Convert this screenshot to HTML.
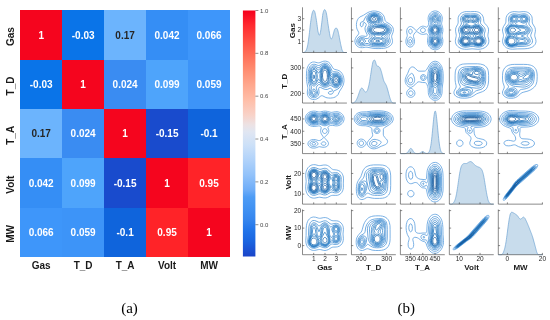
<!DOCTYPE html><html><head><meta charset="utf-8"><style>html,body{margin:0;padding:0;background:#fff;width:550px;height:320px;overflow:hidden}svg{display:block}</style></head><body>
<svg width="550" height="320" viewBox="0 0 550 320">
<rect width="550" height="320" fill="#fff"/>
<g shape-rendering="crispEdges">
<rect x="20.20" y="10.30" width="42.26" height="49.62" fill="#f5051e"/>
<rect x="62.16" y="10.30" width="42.26" height="49.62" fill="#0a74e8"/>
<rect x="104.12" y="10.30" width="42.26" height="49.62" fill="#6cb4fd"/>
<rect x="146.08" y="10.30" width="42.26" height="49.62" fill="#358ef5"/>
<rect x="188.04" y="10.30" width="42.26" height="49.62" fill="#3e96fa"/>
<rect x="20.20" y="59.62" width="42.26" height="49.62" fill="#0a74e8"/>
<rect x="62.16" y="59.62" width="42.26" height="49.62" fill="#f5051e"/>
<rect x="104.12" y="59.62" width="42.26" height="49.62" fill="#3a8cf2"/>
<rect x="146.08" y="59.62" width="42.26" height="49.62" fill="#4ea4fb"/>
<rect x="188.04" y="59.62" width="42.26" height="49.62" fill="#3d94f8"/>
<rect x="20.20" y="108.94" width="42.26" height="49.62" fill="#6cb4fd"/>
<rect x="62.16" y="108.94" width="42.26" height="49.62" fill="#3a8cf2"/>
<rect x="104.12" y="108.94" width="42.26" height="49.62" fill="#f5051e"/>
<rect x="146.08" y="108.94" width="42.26" height="49.62" fill="#194bcd"/>
<rect x="188.04" y="108.94" width="42.26" height="49.62" fill="#0f64dc"/>
<rect x="20.20" y="158.26" width="42.26" height="49.62" fill="#358ef5"/>
<rect x="62.16" y="158.26" width="42.26" height="49.62" fill="#4ea4fb"/>
<rect x="104.12" y="158.26" width="42.26" height="49.62" fill="#194bcd"/>
<rect x="146.08" y="158.26" width="42.26" height="49.62" fill="#f5051e"/>
<rect x="188.04" y="158.26" width="42.26" height="49.62" fill="#ff2328"/>
<rect x="20.20" y="207.58" width="42.26" height="49.62" fill="#3e96fa"/>
<rect x="62.16" y="207.58" width="42.26" height="49.62" fill="#3d94f8"/>
<rect x="104.12" y="207.58" width="42.26" height="49.62" fill="#0f64dc"/>
<rect x="146.08" y="207.58" width="42.26" height="49.62" fill="#ff2328"/>
<rect x="188.04" y="207.58" width="42.26" height="49.62" fill="#f5051e"/>
</g>
<g font-family="Liberation Sans, Arial, sans-serif" font-weight="bold" font-size="10" text-anchor="middle">
<text x="41.18" y="38.56" fill="#ffffff">1</text>
<text x="83.14" y="38.56" fill="#ffffff">-0.03</text>
<text x="125.10" y="38.56" fill="#262626">0.17</text>
<text x="167.06" y="38.56" fill="#ffffff">0.042</text>
<text x="209.02" y="38.56" fill="#ffffff">0.066</text>
<text x="41.18" y="87.88" fill="#ffffff">-0.03</text>
<text x="83.14" y="87.88" fill="#ffffff">1</text>
<text x="125.10" y="87.88" fill="#ffffff">0.024</text>
<text x="167.06" y="87.88" fill="#ffffff">0.099</text>
<text x="209.02" y="87.88" fill="#ffffff">0.059</text>
<text x="41.18" y="137.20" fill="#262626">0.17</text>
<text x="83.14" y="137.20" fill="#ffffff">0.024</text>
<text x="125.10" y="137.20" fill="#ffffff">1</text>
<text x="167.06" y="137.20" fill="#ffffff">-0.15</text>
<text x="209.02" y="137.20" fill="#ffffff">-0.1</text>
<text x="41.18" y="186.52" fill="#ffffff">0.042</text>
<text x="83.14" y="186.52" fill="#ffffff">0.099</text>
<text x="125.10" y="186.52" fill="#ffffff">-0.15</text>
<text x="167.06" y="186.52" fill="#ffffff">1</text>
<text x="209.02" y="186.52" fill="#ffffff">0.95</text>
<text x="41.18" y="235.84" fill="#ffffff">0.066</text>
<text x="83.14" y="235.84" fill="#ffffff">0.059</text>
<text x="125.10" y="235.84" fill="#ffffff">-0.1</text>
<text x="167.06" y="235.84" fill="#ffffff">0.95</text>
<text x="209.02" y="235.84" fill="#ffffff">1</text>
</g>
<g font-family="Liberation Sans, Arial, sans-serif" font-weight="bold" font-size="10" fill="#1a1a1a" text-anchor="middle">
<text x="41.18" y="269">Gas</text>
<text x="83.14" y="269">T_D</text>
<text x="125.10" y="269">T_A</text>
<text x="167.06" y="269">Volt</text>
<text x="209.02" y="269">MW</text>
<text transform="translate(13.6 36.66) rotate(-90)" x="0" y="0">Gas</text>
<text transform="translate(13.6 85.98) rotate(-90)" x="0" y="0">T_D</text>
<text transform="translate(13.6 135.30) rotate(-90)" x="0" y="0">T_A</text>
<text transform="translate(13.6 184.62) rotate(-90)" x="0" y="0">Volt</text>
<text transform="translate(13.6 233.94) rotate(-90)" x="0" y="0">MW</text>
</g>
<defs><linearGradient id="cb" x1="0" y1="0" x2="0" y2="1">
<stop offset="0" stop-color="#f5001e"/>
<stop offset="0.06" stop-color="#ff2a30"/>
<stop offset="0.12" stop-color="#ff4d42"/>
<stop offset="0.18" stop-color="#ff6e58"/>
<stop offset="0.24" stop-color="#ff8c70"/>
<stop offset="0.3" stop-color="#ffa68c"/>
<stop offset="0.364" stop-color="#ffbea8"/>
<stop offset="0.425" stop-color="#f8d2c8"/>
<stop offset="0.465" stop-color="#ece2e4"/>
<stop offset="0.494" stop-color="#e0e6f2"/>
<stop offset="0.547" stop-color="#cce0f8"/>
<stop offset="0.608" stop-color="#b0d2fa"/>
<stop offset="0.669" stop-color="#92c2fa"/>
<stop offset="0.73" stop-color="#6eacf8"/>
<stop offset="0.758" stop-color="#4e9cf5"/>
<stop offset="0.811" stop-color="#3f90f2"/>
<stop offset="0.85" stop-color="#3585ee"/>
<stop offset="0.89" stop-color="#2275ea"/>
<stop offset="0.939" stop-color="#1a64e0"/>
<stop offset="0.967" stop-color="#1a55d6"/>
<stop offset="1" stop-color="#1a44c8"/>
</linearGradient></defs>
<rect x="242.9" y="10.5" width="12.50" height="246.00" fill="url(#cb)"/>
<g font-family="Liberation Sans, Arial, sans-serif" font-size="6" fill="#444">
<line x1="255.4" y1="10.50" x2="258.4" y2="10.50" stroke="#444" stroke-width="0.6"/>
<text x="260" y="12.65">1.0</text>
<line x1="255.4" y1="53.34" x2="258.4" y2="53.34" stroke="#444" stroke-width="0.6"/>
<text x="260" y="55.49">0.8</text>
<line x1="255.4" y1="96.18" x2="258.4" y2="96.18" stroke="#444" stroke-width="0.6"/>
<text x="260" y="98.33">0.6</text>
<line x1="255.4" y1="139.02" x2="258.4" y2="139.02" stroke="#444" stroke-width="0.6"/>
<text x="260" y="141.17">0.4</text>
<line x1="255.4" y1="181.86" x2="258.4" y2="181.86" stroke="#444" stroke-width="0.6"/>
<text x="260" y="184.01">0.2</text>
<line x1="255.4" y1="224.70" x2="258.4" y2="224.70" stroke="#444" stroke-width="0.6"/>
<text x="260" y="226.85">0.0</text>
</g>
<g font-family="Liberation Serif, Times New Roman, serif" font-size="15" fill="#000">
<text x="121.2" y="313.2">(a)</text>
<text x="397.6" y="313.2">(b)</text>
</g>
<polygon points="302.50,52.50 302.50,52.50 302.78,52.50 303.06,52.50 303.34,52.50 303.62,52.50 303.90,52.45 304.18,52.35 304.45,52.20 304.73,52.02 305.01,51.81 305.29,51.59 305.57,51.26 305.85,50.84 306.13,50.32 306.41,49.73 306.69,49.04 306.97,48.15 307.25,47.09 307.53,45.89 307.81,44.57 308.08,43.01 308.36,41.16 308.64,39.12 308.92,36.98 309.20,34.79 309.48,32.37 309.76,29.80 310.04,27.24 310.32,24.87 310.60,22.70 310.88,20.57 311.16,18.56 311.44,16.77 311.72,15.27 311.99,13.97 312.27,12.83 312.55,11.94 312.83,11.31 313.11,10.75 313.39,10.35 313.67,10.23 313.95,10.38 314.23,10.72 314.51,11.18 314.79,11.80 315.07,12.87 315.35,14.21 315.62,15.62 315.90,17.16 316.18,18.87 316.46,20.70 316.74,22.59 317.02,24.51 317.30,26.73 317.58,28.97 317.86,30.87 318.14,32.14 318.42,33.24 318.70,34.19 318.98,34.90 319.25,35.25 319.53,35.10 319.81,34.47 320.09,33.50 320.37,32.39 320.65,31.11 320.93,29.32 321.21,27.18 321.49,24.91 321.77,22.72 322.05,20.41 322.33,17.93 322.61,15.63 322.88,13.88 323.16,12.66 323.44,11.65 323.72,10.86 324.00,10.33 324.28,9.89 324.56,9.61 324.84,9.62 325.12,9.90 325.40,10.35 325.68,10.90 325.96,11.66 326.24,12.73 326.52,14.00 326.79,15.43 327.07,17.22 327.35,19.26 327.63,21.36 327.91,23.35 328.19,25.18 328.47,26.99 328.75,28.76 329.03,30.45 329.31,32.04 329.59,33.65 329.87,35.21 330.15,36.54 330.42,37.50 330.70,38.27 330.98,38.84 331.26,39.00 331.54,38.81 331.82,38.45 332.10,37.99 332.38,37.39 332.66,36.48 332.94,35.38 333.22,34.24 333.50,33.23 333.78,32.24 334.05,31.23 334.33,30.29 334.61,29.54 334.89,29.07 335.17,28.66 335.45,28.32 335.73,28.07 336.01,27.95 336.29,28.00 336.57,28.18 336.85,28.49 337.13,28.87 337.41,29.30 337.68,29.99 337.96,31.00 338.24,32.16 338.52,33.36 338.80,34.63 339.08,36.04 339.36,37.51 339.64,38.95 339.92,40.38 340.20,41.84 340.48,43.28 340.76,44.64 341.04,45.87 341.32,47.09 341.59,48.27 341.87,49.32 342.15,50.16 342.43,50.76 342.71,51.31 342.99,51.80 343.27,52.18 343.55,52.43 343.83,52.50 344.11,52.50 344.39,52.50 344.67,52.50 344.95,52.50 345.22,52.50 345.50,52.50 345.78,52.50 346.06,52.50 346.34,52.50 346.62,52.50 346.90,52.50 346.90,52.50" fill="#c8dcec" stroke="none"/>
<polyline points="302.50,52.50 302.78,52.50 303.06,52.50 303.34,52.50 303.62,52.50 303.90,52.45 304.18,52.35 304.45,52.20 304.73,52.02 305.01,51.81 305.29,51.59 305.57,51.26 305.85,50.84 306.13,50.32 306.41,49.73 306.69,49.04 306.97,48.15 307.25,47.09 307.53,45.89 307.81,44.57 308.08,43.01 308.36,41.16 308.64,39.12 308.92,36.98 309.20,34.79 309.48,32.37 309.76,29.80 310.04,27.24 310.32,24.87 310.60,22.70 310.88,20.57 311.16,18.56 311.44,16.77 311.72,15.27 311.99,13.97 312.27,12.83 312.55,11.94 312.83,11.31 313.11,10.75 313.39,10.35 313.67,10.23 313.95,10.38 314.23,10.72 314.51,11.18 314.79,11.80 315.07,12.87 315.35,14.21 315.62,15.62 315.90,17.16 316.18,18.87 316.46,20.70 316.74,22.59 317.02,24.51 317.30,26.73 317.58,28.97 317.86,30.87 318.14,32.14 318.42,33.24 318.70,34.19 318.98,34.90 319.25,35.25 319.53,35.10 319.81,34.47 320.09,33.50 320.37,32.39 320.65,31.11 320.93,29.32 321.21,27.18 321.49,24.91 321.77,22.72 322.05,20.41 322.33,17.93 322.61,15.63 322.88,13.88 323.16,12.66 323.44,11.65 323.72,10.86 324.00,10.33 324.28,9.89 324.56,9.61 324.84,9.62 325.12,9.90 325.40,10.35 325.68,10.90 325.96,11.66 326.24,12.73 326.52,14.00 326.79,15.43 327.07,17.22 327.35,19.26 327.63,21.36 327.91,23.35 328.19,25.18 328.47,26.99 328.75,28.76 329.03,30.45 329.31,32.04 329.59,33.65 329.87,35.21 330.15,36.54 330.42,37.50 330.70,38.27 330.98,38.84 331.26,39.00 331.54,38.81 331.82,38.45 332.10,37.99 332.38,37.39 332.66,36.48 332.94,35.38 333.22,34.24 333.50,33.23 333.78,32.24 334.05,31.23 334.33,30.29 334.61,29.54 334.89,29.07 335.17,28.66 335.45,28.32 335.73,28.07 336.01,27.95 336.29,28.00 336.57,28.18 336.85,28.49 337.13,28.87 337.41,29.30 337.68,29.99 337.96,31.00 338.24,32.16 338.52,33.36 338.80,34.63 339.08,36.04 339.36,37.51 339.64,38.95 339.92,40.38 340.20,41.84 340.48,43.28 340.76,44.64 341.04,45.87 341.32,47.09 341.59,48.27 341.87,49.32 342.15,50.16 342.43,50.76 342.71,51.31 342.99,51.80 343.27,52.18 343.55,52.43 343.83,52.50 344.11,52.50 344.39,52.50 344.67,52.50 344.95,52.50 345.22,52.50 345.50,52.50 345.78,52.50 346.06,52.50 346.34,52.50 346.62,52.50 346.90,52.50" fill="none" stroke="#6fa3d3" stroke-width="0.7"/>
<polygon points="351.45,103.05 351.45,103.05 351.73,103.05 352.01,103.05 352.29,103.05 352.57,103.05 352.85,103.05 353.13,103.00 353.40,102.89 353.68,102.76 353.96,102.60 354.24,102.42 354.52,102.22 354.80,101.99 355.08,101.71 355.36,101.38 355.64,101.01 355.92,100.61 356.20,100.18 356.48,99.68 356.76,99.10 357.03,98.47 357.31,97.80 357.59,97.11 357.87,96.41 358.15,95.66 358.43,94.87 358.71,94.05 358.99,93.24 359.27,92.46 359.55,91.70 359.83,90.88 360.11,90.07 360.39,89.39 360.67,88.92 360.94,88.62 361.22,88.36 361.50,88.18 361.78,88.09 362.06,88.15 362.34,88.32 362.62,88.57 362.90,88.85 363.18,89.16 363.46,89.58 363.74,90.06 364.02,90.52 364.30,90.90 364.57,91.26 364.85,91.63 365.13,91.94 365.41,92.13 365.69,92.14 365.97,92.05 366.25,91.88 366.53,91.66 366.81,91.40 367.09,91.03 367.37,90.45 367.65,89.70 367.93,88.84 368.20,87.95 368.48,86.95 368.76,85.79 369.04,84.50 369.32,83.12 369.60,81.66 369.88,80.01 370.16,78.22 370.44,76.37 370.72,74.56 371.00,72.77 371.28,70.92 371.56,69.10 371.83,67.39 372.11,65.89 372.39,64.44 372.67,63.06 372.95,61.93 373.23,61.21 373.51,60.73 373.79,60.33 374.07,60.06 374.35,59.96 374.63,60.12 374.91,60.50 375.19,61.01 375.47,61.62 375.74,62.61 376.02,63.70 376.30,64.54 376.58,65.15 376.86,65.68 377.14,66.05 377.42,66.20 377.70,66.27 377.98,66.32 378.26,66.37 378.54,66.45 378.82,66.60 379.10,66.82 379.37,67.12 379.65,67.47 379.93,67.86 380.21,68.39 380.49,69.06 380.77,69.83 381.05,70.66 381.33,71.52 381.61,72.51 381.89,73.60 382.17,74.71 382.45,75.80 382.73,76.90 383.00,78.06 383.28,79.18 383.56,80.17 383.84,80.94 384.12,81.55 384.40,82.06 384.68,82.53 384.96,83.01 385.24,83.51 385.52,84.00 385.80,84.49 386.08,85.01 386.36,85.61 386.63,86.32 386.91,87.16 387.19,88.07 387.47,89.02 387.75,89.98 388.03,91.00 388.31,92.07 388.59,93.16 388.87,94.21 389.15,95.21 389.43,96.22 389.71,97.21 389.99,98.13 390.27,98.95 390.54,99.71 390.82,100.45 391.10,101.12 391.38,101.65 391.66,102.00 391.94,102.30 392.22,102.56 392.50,102.78 392.78,102.95 393.06,103.04 393.34,103.05 393.62,103.05 393.90,103.05 394.17,103.05 394.45,103.05 394.73,103.05 395.01,103.05 395.29,103.05 395.57,103.05 395.85,103.05 395.85,103.05" fill="#c8dcec" stroke="none"/>
<polyline points="351.45,103.05 351.73,103.05 352.01,103.05 352.29,103.05 352.57,103.05 352.85,103.05 353.13,103.00 353.40,102.89 353.68,102.76 353.96,102.60 354.24,102.42 354.52,102.22 354.80,101.99 355.08,101.71 355.36,101.38 355.64,101.01 355.92,100.61 356.20,100.18 356.48,99.68 356.76,99.10 357.03,98.47 357.31,97.80 357.59,97.11 357.87,96.41 358.15,95.66 358.43,94.87 358.71,94.05 358.99,93.24 359.27,92.46 359.55,91.70 359.83,90.88 360.11,90.07 360.39,89.39 360.67,88.92 360.94,88.62 361.22,88.36 361.50,88.18 361.78,88.09 362.06,88.15 362.34,88.32 362.62,88.57 362.90,88.85 363.18,89.16 363.46,89.58 363.74,90.06 364.02,90.52 364.30,90.90 364.57,91.26 364.85,91.63 365.13,91.94 365.41,92.13 365.69,92.14 365.97,92.05 366.25,91.88 366.53,91.66 366.81,91.40 367.09,91.03 367.37,90.45 367.65,89.70 367.93,88.84 368.20,87.95 368.48,86.95 368.76,85.79 369.04,84.50 369.32,83.12 369.60,81.66 369.88,80.01 370.16,78.22 370.44,76.37 370.72,74.56 371.00,72.77 371.28,70.92 371.56,69.10 371.83,67.39 372.11,65.89 372.39,64.44 372.67,63.06 372.95,61.93 373.23,61.21 373.51,60.73 373.79,60.33 374.07,60.06 374.35,59.96 374.63,60.12 374.91,60.50 375.19,61.01 375.47,61.62 375.74,62.61 376.02,63.70 376.30,64.54 376.58,65.15 376.86,65.68 377.14,66.05 377.42,66.20 377.70,66.27 377.98,66.32 378.26,66.37 378.54,66.45 378.82,66.60 379.10,66.82 379.37,67.12 379.65,67.47 379.93,67.86 380.21,68.39 380.49,69.06 380.77,69.83 381.05,70.66 381.33,71.52 381.61,72.51 381.89,73.60 382.17,74.71 382.45,75.80 382.73,76.90 383.00,78.06 383.28,79.18 383.56,80.17 383.84,80.94 384.12,81.55 384.40,82.06 384.68,82.53 384.96,83.01 385.24,83.51 385.52,84.00 385.80,84.49 386.08,85.01 386.36,85.61 386.63,86.32 386.91,87.16 387.19,88.07 387.47,89.02 387.75,89.98 388.03,91.00 388.31,92.07 388.59,93.16 388.87,94.21 389.15,95.21 389.43,96.22 389.71,97.21 389.99,98.13 390.27,98.95 390.54,99.71 390.82,100.45 391.10,101.12 391.38,101.65 391.66,102.00 391.94,102.30 392.22,102.56 392.50,102.78 392.78,102.95 393.06,103.04 393.34,103.05 393.62,103.05 393.90,103.05 394.17,103.05 394.45,103.05 394.73,103.05 395.01,103.05 395.29,103.05 395.57,103.05 395.85,103.05" fill="none" stroke="#6fa3d3" stroke-width="0.7"/>
<polygon points="400.40,153.60 400.40,153.60 400.68,153.60 400.96,153.60 401.24,153.60 401.52,153.60 401.80,153.60 402.08,153.60 402.35,153.60 402.63,153.60 402.91,153.60 403.19,153.60 403.47,153.60 403.75,153.59 404.03,153.59 404.31,153.58 404.59,153.58 404.87,153.56 405.15,153.54 405.43,153.50 405.71,153.46 405.98,153.39 406.26,153.30 406.54,153.18 406.82,153.02 407.10,152.82 407.38,152.57 407.66,152.27 407.94,151.93 408.22,151.53 408.50,151.10 408.78,150.65 409.06,150.19 409.34,149.74 409.62,149.32 409.89,148.96 410.17,148.68 410.45,148.49 410.73,148.40 411.01,148.43 411.29,148.57 411.57,148.81 411.85,149.14 412.13,149.53 412.41,149.96 412.69,150.42 412.97,150.88 413.25,151.33 413.52,151.74 413.80,152.11 414.08,152.43 414.36,152.70 414.64,152.93 414.92,153.11 415.20,153.24 415.48,153.35 415.76,153.43 416.04,153.48 416.32,153.52 416.60,153.55 416.88,153.57 417.15,153.58 417.43,153.58 417.71,153.58 417.99,153.57 418.27,153.55 418.55,153.53 418.83,153.49 419.11,153.44 419.39,153.36 419.67,153.27 419.95,153.14 420.23,152.99 420.51,152.82 420.78,152.62 421.06,152.41 421.34,152.20 421.62,152.01 421.90,151.83 422.18,151.70 422.46,151.62 422.74,151.60 423.02,151.64 423.30,151.73 423.58,151.88 423.86,152.06 424.14,152.26 424.42,152.47 424.69,152.68 424.97,152.87 425.25,153.03 425.53,153.17 425.81,153.28 426.09,153.36 426.37,153.41 426.65,153.43 426.93,153.43 427.21,153.40 427.49,153.33 427.77,153.24 428.05,153.09 428.32,152.89 428.60,152.62 428.88,152.27 429.16,151.80 429.44,151.20 429.72,150.46 430.00,149.53 430.28,148.39 430.56,147.04 430.84,145.43 431.12,143.58 431.40,141.47 431.68,139.11 431.95,136.52 432.23,133.75 432.51,130.84 432.79,127.84 433.07,124.85 433.35,121.94 433.63,119.20 433.91,116.73 434.19,114.62 434.47,112.94 434.75,111.75 435.03,111.11 435.31,111.04 435.58,111.54 435.86,112.60 436.14,114.17 436.42,116.18 436.70,118.58 436.98,121.25 437.26,124.13 437.54,127.11 437.82,130.11 438.10,133.05 438.38,135.87 438.66,138.50 438.94,140.92 439.22,143.09 439.49,145.01 439.77,146.67 440.05,148.08 440.33,149.27 440.61,150.25 440.89,151.04 441.17,151.67 441.45,152.16 441.73,152.55 442.01,152.84 442.29,153.06 442.57,153.22 442.85,153.33 443.12,153.42 443.40,153.48 443.68,153.52 443.96,153.55 444.24,153.56 444.52,153.58 444.80,153.59 444.80,153.60" fill="#c8dcec" stroke="none"/>
<polyline points="400.40,153.60 400.68,153.60 400.96,153.60 401.24,153.60 401.52,153.60 401.80,153.60 402.08,153.60 402.35,153.60 402.63,153.60 402.91,153.60 403.19,153.60 403.47,153.60 403.75,153.59 404.03,153.59 404.31,153.58 404.59,153.58 404.87,153.56 405.15,153.54 405.43,153.50 405.71,153.46 405.98,153.39 406.26,153.30 406.54,153.18 406.82,153.02 407.10,152.82 407.38,152.57 407.66,152.27 407.94,151.93 408.22,151.53 408.50,151.10 408.78,150.65 409.06,150.19 409.34,149.74 409.62,149.32 409.89,148.96 410.17,148.68 410.45,148.49 410.73,148.40 411.01,148.43 411.29,148.57 411.57,148.81 411.85,149.14 412.13,149.53 412.41,149.96 412.69,150.42 412.97,150.88 413.25,151.33 413.52,151.74 413.80,152.11 414.08,152.43 414.36,152.70 414.64,152.93 414.92,153.11 415.20,153.24 415.48,153.35 415.76,153.43 416.04,153.48 416.32,153.52 416.60,153.55 416.88,153.57 417.15,153.58 417.43,153.58 417.71,153.58 417.99,153.57 418.27,153.55 418.55,153.53 418.83,153.49 419.11,153.44 419.39,153.36 419.67,153.27 419.95,153.14 420.23,152.99 420.51,152.82 420.78,152.62 421.06,152.41 421.34,152.20 421.62,152.01 421.90,151.83 422.18,151.70 422.46,151.62 422.74,151.60 423.02,151.64 423.30,151.73 423.58,151.88 423.86,152.06 424.14,152.26 424.42,152.47 424.69,152.68 424.97,152.87 425.25,153.03 425.53,153.17 425.81,153.28 426.09,153.36 426.37,153.41 426.65,153.43 426.93,153.43 427.21,153.40 427.49,153.33 427.77,153.24 428.05,153.09 428.32,152.89 428.60,152.62 428.88,152.27 429.16,151.80 429.44,151.20 429.72,150.46 430.00,149.53 430.28,148.39 430.56,147.04 430.84,145.43 431.12,143.58 431.40,141.47 431.68,139.11 431.95,136.52 432.23,133.75 432.51,130.84 432.79,127.84 433.07,124.85 433.35,121.94 433.63,119.20 433.91,116.73 434.19,114.62 434.47,112.94 434.75,111.75 435.03,111.11 435.31,111.04 435.58,111.54 435.86,112.60 436.14,114.17 436.42,116.18 436.70,118.58 436.98,121.25 437.26,124.13 437.54,127.11 437.82,130.11 438.10,133.05 438.38,135.87 438.66,138.50 438.94,140.92 439.22,143.09 439.49,145.01 439.77,146.67 440.05,148.08 440.33,149.27 440.61,150.25 440.89,151.04 441.17,151.67 441.45,152.16 441.73,152.55 442.01,152.84 442.29,153.06 442.57,153.22 442.85,153.33 443.12,153.42 443.40,153.48 443.68,153.52 443.96,153.55 444.24,153.56 444.52,153.58 444.80,153.59" fill="none" stroke="#6fa3d3" stroke-width="0.7"/>
<polygon points="449.35,204.15 449.35,204.15 449.63,204.15 449.91,204.15 450.19,204.15 450.47,204.15 450.75,204.15 451.03,204.15 451.30,204.15 451.58,204.15 451.86,204.11 452.14,203.99 452.42,203.82 452.70,203.60 452.98,203.34 453.26,203.07 453.54,202.76 453.82,202.37 454.10,201.90 454.38,201.36 454.66,200.76 454.93,200.10 455.21,199.33 455.49,198.39 455.77,197.32 456.05,196.15 456.33,194.84 456.61,193.35 456.89,191.73 457.17,190.02 457.45,188.29 457.73,186.44 458.01,184.47 458.29,182.48 458.57,180.54 458.84,178.69 459.12,176.81 459.40,174.97 459.68,173.25 459.96,171.74 460.24,170.39 460.52,169.10 460.80,167.95 461.08,166.98 461.36,166.26 461.64,165.67 461.92,165.15 462.20,164.73 462.47,164.41 462.75,164.18 463.03,163.98 463.31,163.80 463.59,163.65 463.87,163.55 464.15,163.50 464.43,163.50 464.71,163.50 464.99,163.50 465.27,163.50 465.55,163.50 465.83,163.50 466.10,163.50 466.38,163.50 466.66,163.44 466.94,163.32 467.22,163.16 467.50,162.97 467.78,162.77 468.06,162.58 468.34,162.41 468.62,162.27 468.90,162.12 469.18,161.97 469.46,161.82 469.73,161.69 470.01,161.60 470.29,161.55 470.57,161.56 470.85,161.62 471.13,161.73 471.41,161.86 471.69,162.01 471.97,162.17 472.25,162.36 472.53,162.61 472.81,162.91 473.09,163.22 473.37,163.54 473.64,163.83 473.92,164.10 474.20,164.38 474.48,164.65 474.76,164.92 475.04,165.18 475.32,165.41 475.60,165.62 475.88,165.80 476.16,165.97 476.44,166.13 476.72,166.28 477.00,166.42 477.27,166.55 477.55,166.68 477.83,166.81 478.11,166.91 478.39,167.01 478.67,167.10 478.95,167.19 479.23,167.29 479.51,167.40 479.79,167.55 480.07,167.72 480.35,167.94 480.63,168.19 480.90,168.49 481.18,168.83 481.46,169.21 481.74,169.63 482.02,170.15 482.30,170.82 482.58,171.61 482.86,172.52 483.14,173.50 483.42,174.67 483.70,176.04 483.98,177.54 484.26,179.10 484.53,180.69 484.81,182.41 485.09,184.21 485.37,186.02 485.65,187.75 485.93,189.42 486.21,191.07 486.49,192.67 486.77,194.18 487.05,195.55 487.33,196.89 487.61,198.18 487.89,199.33 488.17,200.28 488.44,200.97 488.72,201.59 489.00,202.14 489.28,202.61 489.56,203.00 489.84,203.29 490.12,203.50 490.40,203.70 490.68,203.88 490.96,204.02 491.24,204.11 491.52,204.15 491.80,204.15 492.07,204.15 492.35,204.15 492.63,204.15 492.91,204.15 493.19,204.15 493.47,204.15 493.75,204.15 493.75,204.15" fill="#c8dcec" stroke="none"/>
<polyline points="449.35,204.15 449.63,204.15 449.91,204.15 450.19,204.15 450.47,204.15 450.75,204.15 451.03,204.15 451.30,204.15 451.58,204.15 451.86,204.11 452.14,203.99 452.42,203.82 452.70,203.60 452.98,203.34 453.26,203.07 453.54,202.76 453.82,202.37 454.10,201.90 454.38,201.36 454.66,200.76 454.93,200.10 455.21,199.33 455.49,198.39 455.77,197.32 456.05,196.15 456.33,194.84 456.61,193.35 456.89,191.73 457.17,190.02 457.45,188.29 457.73,186.44 458.01,184.47 458.29,182.48 458.57,180.54 458.84,178.69 459.12,176.81 459.40,174.97 459.68,173.25 459.96,171.74 460.24,170.39 460.52,169.10 460.80,167.95 461.08,166.98 461.36,166.26 461.64,165.67 461.92,165.15 462.20,164.73 462.47,164.41 462.75,164.18 463.03,163.98 463.31,163.80 463.59,163.65 463.87,163.55 464.15,163.50 464.43,163.50 464.71,163.50 464.99,163.50 465.27,163.50 465.55,163.50 465.83,163.50 466.10,163.50 466.38,163.50 466.66,163.44 466.94,163.32 467.22,163.16 467.50,162.97 467.78,162.77 468.06,162.58 468.34,162.41 468.62,162.27 468.90,162.12 469.18,161.97 469.46,161.82 469.73,161.69 470.01,161.60 470.29,161.55 470.57,161.56 470.85,161.62 471.13,161.73 471.41,161.86 471.69,162.01 471.97,162.17 472.25,162.36 472.53,162.61 472.81,162.91 473.09,163.22 473.37,163.54 473.64,163.83 473.92,164.10 474.20,164.38 474.48,164.65 474.76,164.92 475.04,165.18 475.32,165.41 475.60,165.62 475.88,165.80 476.16,165.97 476.44,166.13 476.72,166.28 477.00,166.42 477.27,166.55 477.55,166.68 477.83,166.81 478.11,166.91 478.39,167.01 478.67,167.10 478.95,167.19 479.23,167.29 479.51,167.40 479.79,167.55 480.07,167.72 480.35,167.94 480.63,168.19 480.90,168.49 481.18,168.83 481.46,169.21 481.74,169.63 482.02,170.15 482.30,170.82 482.58,171.61 482.86,172.52 483.14,173.50 483.42,174.67 483.70,176.04 483.98,177.54 484.26,179.10 484.53,180.69 484.81,182.41 485.09,184.21 485.37,186.02 485.65,187.75 485.93,189.42 486.21,191.07 486.49,192.67 486.77,194.18 487.05,195.55 487.33,196.89 487.61,198.18 487.89,199.33 488.17,200.28 488.44,200.97 488.72,201.59 489.00,202.14 489.28,202.61 489.56,203.00 489.84,203.29 490.12,203.50 490.40,203.70 490.68,203.88 490.96,204.02 491.24,204.11 491.52,204.15 491.80,204.15 492.07,204.15 492.35,204.15 492.63,204.15 492.91,204.15 493.19,204.15 493.47,204.15 493.75,204.15" fill="none" stroke="#6fa3d3" stroke-width="0.7"/>
<polygon points="498.30,254.70 498.30,254.70 498.58,254.70 498.86,254.70 499.14,254.70 499.42,254.70 499.70,254.70 499.98,254.70 500.25,254.70 500.53,254.70 500.81,254.70 501.09,254.70 501.37,254.67 501.65,254.55 501.93,254.35 502.21,254.08 502.49,253.78 502.77,253.44 503.05,253.04 503.33,252.49 503.61,251.81 503.88,251.03 504.16,250.18 504.44,249.29 504.72,248.31 505.00,247.18 505.28,245.92 505.56,244.54 505.84,243.04 506.12,241.30 506.40,239.35 506.68,237.31 506.96,235.25 507.24,233.20 507.52,231.07 507.79,228.90 508.07,226.79 508.35,224.81 508.63,222.89 508.91,220.99 509.19,219.21 509.47,217.62 509.75,216.29 510.03,215.03 510.31,213.96 510.59,213.27 510.87,212.89 511.15,212.58 511.42,212.36 511.70,212.26 511.98,212.28 512.26,212.35 512.54,212.45 512.82,212.57 513.10,212.70 513.38,212.82 513.66,212.97 513.94,213.12 514.22,213.30 514.50,213.48 514.78,213.67 515.05,213.86 515.33,214.06 515.61,214.24 515.89,214.43 516.17,214.63 516.45,214.83 516.73,215.04 517.01,215.28 517.29,215.53 517.57,215.82 517.85,216.20 518.13,216.64 518.41,217.11 518.68,217.57 518.96,217.99 519.24,218.32 519.52,218.54 519.80,218.73 520.08,218.90 520.36,219.03 520.64,219.09 520.92,219.03 521.20,218.85 521.48,218.58 521.76,218.31 522.04,218.08 522.32,217.85 522.59,217.61 522.87,217.38 523.15,217.21 523.43,217.14 523.71,217.19 523.99,217.36 524.27,217.60 524.55,217.89 524.83,218.20 525.11,218.60 525.39,219.11 525.67,219.69 525.95,220.29 526.22,220.89 526.50,221.48 526.78,222.09 527.06,222.73 527.34,223.38 527.62,224.04 527.90,224.71 528.18,225.38 528.46,226.06 528.74,226.75 529.02,227.45 529.30,228.15 529.58,228.87 529.85,229.58 530.13,230.31 530.41,231.03 530.69,231.75 530.97,232.46 531.25,233.18 531.53,233.90 531.81,234.64 532.09,235.42 532.37,236.23 532.65,237.11 532.93,238.05 533.21,239.04 533.48,240.05 533.76,241.07 534.04,242.09 534.32,243.10 534.60,244.14 534.88,245.19 535.16,246.24 535.44,247.27 535.72,248.28 536.00,249.35 536.28,250.44 536.56,251.46 536.84,252.31 537.12,252.94 537.39,253.51 537.67,254.01 537.95,254.41 538.23,254.69 538.51,254.70 538.79,254.70 539.07,254.70 539.35,254.70 539.63,254.70 539.91,254.70 540.19,254.70 540.47,254.70 540.75,254.70 541.02,254.70 541.30,254.70 541.58,254.70 541.86,254.70 542.14,254.70 542.42,254.70 542.70,254.70 542.70,254.70" fill="#c8dcec" stroke="none"/>
<polyline points="498.30,254.70 498.58,254.70 498.86,254.70 499.14,254.70 499.42,254.70 499.70,254.70 499.98,254.70 500.25,254.70 500.53,254.70 500.81,254.70 501.09,254.70 501.37,254.67 501.65,254.55 501.93,254.35 502.21,254.08 502.49,253.78 502.77,253.44 503.05,253.04 503.33,252.49 503.61,251.81 503.88,251.03 504.16,250.18 504.44,249.29 504.72,248.31 505.00,247.18 505.28,245.92 505.56,244.54 505.84,243.04 506.12,241.30 506.40,239.35 506.68,237.31 506.96,235.25 507.24,233.20 507.52,231.07 507.79,228.90 508.07,226.79 508.35,224.81 508.63,222.89 508.91,220.99 509.19,219.21 509.47,217.62 509.75,216.29 510.03,215.03 510.31,213.96 510.59,213.27 510.87,212.89 511.15,212.58 511.42,212.36 511.70,212.26 511.98,212.28 512.26,212.35 512.54,212.45 512.82,212.57 513.10,212.70 513.38,212.82 513.66,212.97 513.94,213.12 514.22,213.30 514.50,213.48 514.78,213.67 515.05,213.86 515.33,214.06 515.61,214.24 515.89,214.43 516.17,214.63 516.45,214.83 516.73,215.04 517.01,215.28 517.29,215.53 517.57,215.82 517.85,216.20 518.13,216.64 518.41,217.11 518.68,217.57 518.96,217.99 519.24,218.32 519.52,218.54 519.80,218.73 520.08,218.90 520.36,219.03 520.64,219.09 520.92,219.03 521.20,218.85 521.48,218.58 521.76,218.31 522.04,218.08 522.32,217.85 522.59,217.61 522.87,217.38 523.15,217.21 523.43,217.14 523.71,217.19 523.99,217.36 524.27,217.60 524.55,217.89 524.83,218.20 525.11,218.60 525.39,219.11 525.67,219.69 525.95,220.29 526.22,220.89 526.50,221.48 526.78,222.09 527.06,222.73 527.34,223.38 527.62,224.04 527.90,224.71 528.18,225.38 528.46,226.06 528.74,226.75 529.02,227.45 529.30,228.15 529.58,228.87 529.85,229.58 530.13,230.31 530.41,231.03 530.69,231.75 530.97,232.46 531.25,233.18 531.53,233.90 531.81,234.64 532.09,235.42 532.37,236.23 532.65,237.11 532.93,238.05 533.21,239.04 533.48,240.05 533.76,241.07 534.04,242.09 534.32,243.10 534.60,244.14 534.88,245.19 535.16,246.24 535.44,247.27 535.72,248.28 536.00,249.35 536.28,250.44 536.56,251.46 536.84,252.31 537.12,252.94 537.39,253.51 537.67,254.01 537.95,254.41 538.23,254.69 538.51,254.70 538.79,254.70 539.07,254.70 539.35,254.70 539.63,254.70 539.91,254.70 540.19,254.70 540.47,254.70 540.75,254.70 541.02,254.70 541.30,254.70 541.58,254.70 541.86,254.70 542.14,254.70 542.42,254.70 542.70,254.70" fill="none" stroke="#6fa3d3" stroke-width="0.7"/>
<defs>
<clipPath id="c00"><rect x="302.5" y="7.3" width="44.4" height="45.2"/></clipPath>
<clipPath id="c01"><rect x="351.45" y="7.3" width="44.4" height="45.2"/></clipPath>
<clipPath id="c02"><rect x="400.4" y="7.3" width="44.4" height="45.2"/></clipPath>
<clipPath id="c03"><rect x="449.35" y="7.3" width="44.4" height="45.2"/></clipPath>
<clipPath id="c04"><rect x="498.3" y="7.3" width="44.4" height="45.2"/></clipPath>
<clipPath id="c10"><rect x="302.5" y="57.85" width="44.4" height="45.2"/></clipPath>
<clipPath id="c11"><rect x="351.45" y="57.85" width="44.4" height="45.2"/></clipPath>
<clipPath id="c12"><rect x="400.4" y="57.85" width="44.4" height="45.2"/></clipPath>
<clipPath id="c13"><rect x="449.35" y="57.85" width="44.4" height="45.2"/></clipPath>
<clipPath id="c14"><rect x="498.3" y="57.85" width="44.4" height="45.2"/></clipPath>
<clipPath id="c20"><rect x="302.5" y="108.4" width="44.4" height="45.2"/></clipPath>
<clipPath id="c21"><rect x="351.45" y="108.4" width="44.4" height="45.2"/></clipPath>
<clipPath id="c22"><rect x="400.4" y="108.4" width="44.4" height="45.2"/></clipPath>
<clipPath id="c23"><rect x="449.35" y="108.4" width="44.4" height="45.2"/></clipPath>
<clipPath id="c24"><rect x="498.3" y="108.4" width="44.4" height="45.2"/></clipPath>
<clipPath id="c30"><rect x="302.5" y="158.95" width="44.4" height="45.2"/></clipPath>
<clipPath id="c31"><rect x="351.45" y="158.95" width="44.4" height="45.2"/></clipPath>
<clipPath id="c32"><rect x="400.4" y="158.95" width="44.4" height="45.2"/></clipPath>
<clipPath id="c33"><rect x="449.35" y="158.95" width="44.4" height="45.2"/></clipPath>
<clipPath id="c34"><rect x="498.3" y="158.95" width="44.4" height="45.2"/></clipPath>
<clipPath id="c40"><rect x="302.5" y="209.5" width="44.4" height="45.2"/></clipPath>
<clipPath id="c41"><rect x="351.45" y="209.5" width="44.4" height="45.2"/></clipPath>
<clipPath id="c42"><rect x="400.4" y="209.5" width="44.4" height="45.2"/></clipPath>
<clipPath id="c43"><rect x="449.35" y="209.5" width="44.4" height="45.2"/></clipPath>
<clipPath id="c44"><rect x="498.3" y="209.5" width="44.4" height="45.2"/></clipPath>
</defs>
<g fill="none" stroke-width="0.8" stroke-linejoin="round" clip-path="url(#c10)">
<path stroke="#5a9ede" d="M312.7 99.5 314.5 99.6 315.7 99.3 316.6 99.0 318.1 98.2 320.8 96.0 321.7 95.7 322.6 95.8 325.9 97.5 327.1 97.8 328.6 98.0 330.4 98.1 332.2 97.9 333.7 97.6 335.2 97.0 336.7 96.0 338.0 94.7 339.7 91.1 342.0 87.5 343.2 85.1 343.5 83.9 343.9 82.1 344.0 80.3 343.9 78.8 343.6 77.3 343.2 75.8 342.7 74.6 342.0 73.4 340.6 71.7 339.1 70.7 337.3 70.0 334.6 69.4 333.7 68.9 332.8 67.9 331.1 65.0 330.1 63.6 328.6 62.2 327.1 61.5 325.6 61.1 323.8 61.2 322.3 61.6 319.9 62.6 318.7 62.9 317.8 62.8 314.5 62.0 313.3 62.0 312.4 62.1 310.9 62.8 309.6 63.8 308.5 65.3 307.6 67.1 307.1 68.6 306.7 70.7 306.5 73.1 306.4 76.4 306.5 79.4 306.7 81.5 307.8 87.5 307.8 88.7 307.3 92.0 307.4 94.1 307.7 95.3 308.1 96.2 309.2 97.7 310.0 98.3 310.9 98.9 312.7 99.5"/>
<path stroke="#4d95d7" d="M312.7 97.7 314.2 97.8 315.7 97.4 317.2 96.5 318.2 95.3 318.7 94.1 319.0 92.9 319.0 91.7 318.6 88.7 318.8 88.1 319.3 87.4 319.9 87.3 320.5 87.4 324.1 89.1 325.9 89.5 327.4 89.4 329.8 88.3 330.4 88.2 331.0 88.4 331.7 89.0 332.2 89.6 332.6 90.5 332.5 90.8 331.8 91.1 329.2 91.7 328.5 92.3 328.3 92.9 328.5 93.5 329.2 94.0 330.1 94.2 331.0 94.2 332.2 93.8 332.9 93.2 333.2 92.6 333.4 91.4 333.6 91.1 337.0 89.5 339.1 88.1 340.6 86.4 341.7 84.5 342.3 82.1 342.4 79.4 342.2 77.9 341.9 76.7 341.3 75.5 340.8 74.6 339.4 73.1 337.9 72.2 336.4 71.9 333.7 71.7 333.1 71.6 332.6 71.3 331.8 70.4 330.4 67.1 329.4 65.6 328.3 64.3 326.8 63.4 325.3 63.1 323.5 63.3 322.0 63.9 319.9 65.2 318.7 65.5 317.8 65.4 314.8 64.3 313.6 64.3 312.7 64.4 311.5 65.0 310.6 65.7 309.8 66.8 309.2 68.0 308.7 69.5 308.3 71.3 308.1 73.7 308.0 76.7 308.1 79.4 308.3 81.5 308.7 83.3 309.7 86.3 309.9 87.5 309.8 88.7 309.1 91.7 309.0 93.5 309.5 95.0 310.2 96.2 311.2 97.1 312.7 97.7"/>
<path stroke="#418cd0" d="M313.0 96.5 314.2 96.5 315.4 96.2 316.3 95.5 317.1 94.4 317.5 93.2 317.5 92.0 317.2 90.8 316.4 88.7 316.3 87.5 316.5 86.9 317.0 86.0 317.8 85.1 318.4 84.7 319.0 84.5 319.6 84.6 322.6 86.6 324.4 87.2 325.6 87.3 326.5 87.1 327.4 86.8 329.5 85.6 330.4 85.4 331.3 85.7 334.3 87.5 335.8 87.8 337.3 87.5 338.8 86.6 340.0 85.4 340.8 83.9 341.4 81.8 341.5 79.4 341.0 77.3 340.0 75.3 338.8 74.1 337.3 73.3 335.8 73.1 332.8 73.4 331.9 73.1 331.4 72.5 331.1 71.9 329.9 68.6 328.9 66.8 327.7 65.4 326.5 64.7 325.0 64.4 323.5 64.6 322.0 65.4 319.6 67.3 318.7 67.6 317.8 67.5 315.7 66.3 314.8 66.0 313.9 65.8 313.0 66.0 312.1 66.4 311.3 67.1 310.6 67.9 310.1 68.9 309.6 70.7 309.2 73.1 309.1 76.4 309.2 79.4 309.4 81.2 309.8 82.7 311.3 86.3 311.6 87.5 311.4 88.7 310.4 91.4 310.2 93.2 310.5 94.4 311.1 95.3 311.8 95.9 313.0 96.5"/>
<path stroke="#3685ca" d="M313.0 95.3 314.2 95.4 315.1 95.1 315.9 94.4 316.4 93.2 316.3 91.9 315.7 90.5 314.8 89.4 313.9 89.0 313.0 89.3 312.2 90.2 311.5 91.3 311.3 92.3 311.3 93.2 311.5 94.1 312.1 94.8 313.0 95.3M335.2 86.6 336.7 86.6 337.9 86.2 339.1 85.2 340.0 83.9 340.6 82.4 340.8 80.6 340.7 78.8 340.2 77.3 339.6 76.1 338.8 75.2 337.9 74.5 337.0 74.2 336.1 74.1 335.2 74.1 332.2 74.9 331.6 74.8 331.3 74.5 330.6 73.4 329.5 69.8 328.9 68.3 328.0 66.9 327.1 66.0 326.2 65.6 325.3 65.3 324.4 65.4 323.5 65.6 322.0 66.6 319.6 69.2 318.7 69.8 318.4 69.8 317.8 69.5 316.0 68.0 315.1 67.4 314.5 67.2 313.6 67.2 313.0 67.3 312.1 67.9 311.5 68.5 310.7 70.1 310.2 72.2 309.9 75.5 309.9 78.8 310.2 80.9 310.7 82.7 311.5 84.1 312.7 85.5 313.6 86.0 314.5 85.9 315.7 85.0 318.1 82.6 318.7 82.3 319.0 82.3 319.9 82.8 322.3 85.1 323.2 85.7 324.1 86.0 325.3 86.2 326.5 85.9 327.6 85.4 329.5 84.0 330.4 83.7 331.3 84.0 333.7 85.9 335.2 86.6"/>
<path stroke="#2d7ec5" d="M313.0 94.1 313.6 94.3 314.2 94.2 314.8 93.8 315.1 93.4 315.2 92.6 315.1 92.0 314.7 91.4 314.2 91.0 313.6 91.0 313.3 91.0 312.9 91.4 312.5 92.0 312.3 92.6 312.4 93.2 312.7 93.8 313.0 94.1M335.2 85.7 336.4 85.8 337.6 85.5 338.6 84.8 339.5 83.6 340.0 82.1 340.2 80.6 340.1 79.1 339.7 77.6 339.1 76.5 338.2 75.6 337.3 75.1 336.4 74.8 335.5 74.8 334.6 75.1 331.9 76.4 331.3 76.5 331.0 76.3 330.7 76.0 330.2 74.9 329.1 70.7 328.6 69.2 327.7 67.7 326.8 66.7 325.9 66.3 324.7 66.1 323.5 66.5 322.6 67.0 321.7 68.0 321.1 68.9 319.3 72.3 318.7 73.1 318.4 73.1 318.1 72.7 316.2 69.8 315.1 68.7 314.2 68.4 313.3 68.5 312.7 68.8 312.0 69.5 311.4 70.7 310.9 72.5 310.6 75.2 310.6 78.2 310.8 80.0 311.2 81.6 311.8 82.8 312.7 83.9 313.3 84.2 313.9 84.3 314.5 84.2 315.4 83.7 316.3 82.7 318.1 79.8 318.4 79.4 318.7 79.2 319.0 79.3 319.3 79.7 320.7 82.1 321.8 83.6 322.8 84.5 323.8 85.0 325.0 85.3 325.9 85.2 326.5 85.0 327.7 84.2 329.8 82.4 330.4 82.1 330.7 82.1 331.3 82.5 333.7 84.9 335.2 85.7"/>
<path stroke="#2579c1" d="M335.2 85.1 336.1 85.3 336.7 85.2 337.6 84.8 338.2 84.4 338.8 83.7 339.2 83.0 339.8 81.2 339.8 80.0 339.7 79.1 339.5 78.2 339.0 77.3 338.5 76.5 337.9 76.0 337.3 75.6 336.4 75.4 335.8 75.4 334.9 75.6 333.5 76.4 332.0 77.9 331.3 78.8 331.1 79.4 331.1 80.0 331.5 80.9 332.6 83.0 334.0 84.4 335.2 85.1M324.1 84.5 325.0 84.6 325.9 84.5 326.7 84.2 327.4 83.7 328.4 82.7 329.3 81.5 330.3 80.0 330.6 79.1 328.9 71.6 328.2 69.5 327.6 68.3 326.8 67.4 325.9 66.9 325.0 66.7 324.1 66.8 323.2 67.3 322.3 68.1 321.6 69.2 321.0 70.4 320.4 71.9 320.1 73.7 319.9 75.2 320.1 78.2 320.4 79.7 321.0 81.2 321.6 82.4 322.3 83.3 323.2 84.0 324.1 84.5M313.3 83.0 313.9 83.2 314.7 83.0 315.4 82.4 315.9 81.8 316.4 80.9 316.9 79.7 317.3 77.3 317.1 74.3 316.4 71.9 316.0 71.0 315.2 70.1 314.5 69.5 313.9 69.4 312.9 69.8 312.4 70.3 312.0 71.0 311.5 72.8 311.1 75.8 311.2 78.5 311.5 80.6 312.2 82.1 312.7 82.7 313.3 83.0"/>
<path stroke="#2172b9" d="M335.8 84.5 337.0 84.4 337.6 84.0 338.2 83.5 339.0 82.1 339.3 80.6 339.1 78.8 338.5 77.5 337.9 76.8 337.3 76.4 336.1 76.1 334.9 76.4 333.7 77.3 332.8 78.5 332.5 80.0 332.7 81.5 333.5 83.0 334.6 84.0 335.8 84.5M325.0 83.9 325.9 83.7 326.5 83.4 327.1 83.0 327.9 82.1 328.5 81.2 329.0 80.0 329.2 77.9 329.1 75.8 328.7 73.1 328.3 71.3 327.9 70.1 327.4 69.1 326.7 68.3 325.9 67.7 325.0 67.5 324.1 67.6 323.5 68.0 322.6 68.8 322.0 69.8 321.5 71.0 321.1 72.5 320.8 75.8 321.0 78.8 321.4 80.3 321.9 81.5 322.5 82.4 323.2 83.1 324.1 83.7 325.0 83.9M313.6 81.6 313.9 81.6 314.5 81.4 315.3 80.6 315.9 79.1 316.1 77.3 316.0 74.9 315.5 72.8 314.8 71.6 314.4 71.3 313.9 71.1 313.4 71.3 313.0 71.6 312.5 72.5 312.1 74.1 311.9 76.4 312.0 78.5 312.3 80.0 312.9 81.2 313.6 81.6"/>
<path stroke="#1e6bb1" d="M335.5 83.6 336.1 83.7 336.7 83.6 337.6 83.1 338.3 82.1 338.7 80.9 338.6 79.4 338.2 78.3 337.3 77.3 336.4 76.9 335.5 77.0 334.5 77.6 333.8 78.5 333.4 79.7 333.4 80.9 333.8 82.1 334.6 83.1 335.5 83.6M324.7 83.0 325.5 83.0 326.2 82.7 326.8 82.2 327.4 81.5 327.9 80.6 328.2 79.7 328.5 77.6 328.2 73.7 327.9 71.9 327.5 70.7 327.1 69.8 326.5 69.0 325.9 68.6 325.0 68.3 324.1 68.5 323.5 68.9 322.9 69.5 322.4 70.4 321.8 72.5 321.5 75.2 321.6 78.2 322.2 80.6 322.7 81.5 323.2 82.1 323.8 82.7 324.7 83.0M313.9 78.8 314.2 78.6 314.4 78.2 314.6 77.0 314.4 75.5 314.2 75.0 313.9 74.8 313.6 75.0 313.4 75.5 313.2 77.0 313.4 78.2 313.6 78.6 313.9 78.8"/>
<path stroke="#185ea3" d="M335.5 81.8 336.1 82.0 336.7 81.8 337.1 81.5 337.4 80.9 337.4 80.3 337.3 79.5 337.0 79.0 336.4 78.6 335.8 78.6 335.5 78.8 334.9 79.7 334.8 80.3 334.9 80.9 335.2 81.5 335.5 81.8M324.4 81.2 325.0 81.4 325.6 81.3 326.4 80.6 327.1 79.2 327.4 77.3 327.3 74.3 326.8 71.9 326.4 71.0 325.9 70.4 325.6 70.1 325.0 69.9 324.1 70.2 323.3 71.3 322.8 72.8 322.5 74.9 322.6 77.3 322.9 79.1 323.5 80.4 324.4 81.2"/>
</g>
<g fill="none" stroke-width="0.8" stroke-linejoin="round" clip-path="url(#c01)">
<path stroke="#5a9ede" d="M355.0 42.3 354.9 40.5 355.2 39.3 355.5 38.4 356.3 36.9 358.5 34.2 358.8 33.3 358.7 32.4 357.0 29.1 356.7 27.9 356.5 26.4 356.4 24.6 356.6 22.8 356.9 21.3 357.5 19.8 358.5 18.3 359.8 17.0 363.4 15.3 367.0 13.0 369.4 11.8 370.6 11.5 372.4 11.1 374.2 11.0 375.8 11.1 377.2 11.4 378.8 11.8 379.9 12.3 381.1 13.0 382.8 14.4 383.8 15.9 384.5 17.7 385.1 20.4 385.6 21.3 386.6 22.2 389.5 23.9 390.9 24.9 392.3 26.4 393.0 27.9 393.4 29.4 393.3 31.2 392.9 32.7 391.9 35.1 391.6 36.3 391.7 37.2 392.5 40.5 392.5 41.7 392.4 42.6 391.7 44.1 390.7 45.4 389.2 46.5 387.4 47.4 385.9 47.9 383.8 48.3 381.4 48.5 378.1 48.6 375.1 48.5 373.0 48.3 367.0 47.2 365.8 47.2 362.5 47.7 360.4 47.6 359.2 47.3 358.3 46.9 356.8 45.8 356.2 45.0 355.6 44.1 355.0 42.3"/>
<path stroke="#4d95d7" d="M356.8 42.3 356.7 40.8 357.1 39.3 358.0 37.8 359.2 36.8 360.4 36.3 361.6 36.0 362.8 36.0 365.8 36.4 366.4 36.2 367.1 35.7 367.2 35.1 367.1 34.5 365.4 30.9 365.0 29.1 365.1 27.6 366.2 25.2 366.3 24.6 366.1 24.0 365.5 23.3 364.9 22.8 364.0 22.4 363.8 22.5 363.4 23.2 362.8 25.8 362.2 26.5 361.6 26.7 361.0 26.5 360.5 25.8 360.3 24.9 360.3 24.0 360.7 22.8 361.3 22.1 361.9 21.8 363.1 21.6 363.4 21.4 365.0 18.0 366.4 15.9 368.1 14.4 370.0 13.3 372.4 12.7 375.1 12.6 376.6 12.8 377.8 13.1 379.0 13.7 379.9 14.2 381.4 15.6 382.3 17.1 382.6 18.6 382.8 21.3 382.9 21.9 383.2 22.4 384.1 23.2 387.4 24.6 388.9 25.6 390.2 26.7 391.1 28.2 391.4 29.7 391.2 31.5 390.6 33.0 389.3 35.1 389.0 36.3 389.1 37.2 390.2 40.2 390.2 41.4 390.1 42.3 389.5 43.5 388.8 44.4 387.7 45.2 386.5 45.8 385.0 46.3 383.2 46.7 380.8 46.9 377.8 47.0 375.1 46.9 373.0 46.7 371.2 46.3 368.2 45.3 367.0 45.1 365.8 45.2 362.8 45.9 361.0 46.0 359.5 45.5 358.3 44.8 357.4 43.8 356.8 42.3"/>
<path stroke="#418cd0" d="M358.0 42.0 358.0 40.8 358.3 39.6 359.0 38.7 360.1 37.9 361.3 37.5 362.5 37.5 363.8 37.8 365.8 38.6 367.0 38.7 367.6 38.5 368.5 38.0 369.4 37.2 369.8 36.6 370.0 36.0 369.9 35.4 367.9 32.4 367.3 30.6 367.2 29.4 367.4 28.5 367.7 27.6 368.9 25.5 369.1 24.6 368.8 23.7 367.0 20.7 366.7 19.2 367.0 17.7 367.9 16.2 369.1 15.0 370.6 14.2 372.8 13.6 375.1 13.5 377.2 14.0 379.2 15.0 380.4 16.2 381.2 17.7 381.4 19.2 381.1 22.2 381.4 23.1 382.0 23.6 382.6 23.9 385.9 25.1 387.7 26.1 389.1 27.3 389.8 28.5 390.1 30.0 389.9 31.5 389.1 33.0 387.2 35.4 386.9 36.3 387.0 37.2 388.2 39.3 388.5 40.2 388.7 41.1 388.5 42.0 388.1 42.9 387.4 43.7 386.6 44.4 385.6 44.9 383.8 45.4 381.4 45.8 378.1 45.9 375.1 45.8 373.3 45.6 371.8 45.2 368.2 43.7 367.0 43.4 365.8 43.6 363.1 44.6 361.3 44.8 360.1 44.5 359.2 43.9 358.6 43.2 358.0 42.0"/>
<path stroke="#3685ca" d="M359.2 42.0 359.1 40.8 359.4 39.9 360.1 39.1 361.3 38.6 362.6 38.7 364.0 39.3 365.1 40.2 365.5 41.1 365.2 42.0 364.3 42.8 363.2 43.5 362.2 43.7 361.3 43.7 360.4 43.5 359.7 42.9 359.2 42.0M367.9 19.8 367.9 18.3 368.3 17.1 369.3 15.9 370.6 15.0 372.1 14.4 373.9 14.2 375.8 14.3 377.2 14.8 378.4 15.4 379.3 16.2 380.0 17.1 380.3 18.0 380.4 18.9 380.4 19.8 379.6 22.8 379.7 23.4 380.0 23.7 381.1 24.4 384.7 25.5 386.2 26.1 387.6 27.0 388.5 27.9 388.9 28.8 389.2 29.7 389.1 30.6 388.9 31.5 387.9 33.0 385.3 35.4 384.7 36.3 384.7 36.6 385.0 37.2 386.5 39.0 387.1 39.9 387.3 40.5 387.3 41.4 387.2 42.0 386.6 42.9 386.0 43.5 384.4 44.3 382.3 44.8 379.0 45.1 375.8 45.1 373.6 44.8 371.8 44.3 370.4 43.5 369.0 42.3 368.5 41.4 368.6 40.5 369.5 39.3 371.9 36.9 372.2 36.3 372.2 36.0 371.7 35.1 369.4 32.7 368.8 31.8 368.5 30.9 368.3 29.7 368.6 28.5 369.1 27.4 370.5 25.5 370.8 24.6 370.5 23.7 368.6 21.3 367.9 19.8"/>
<path stroke="#2d7ec5" d="M360.4 42.0 360.2 41.4 360.3 40.8 360.7 40.2 361.1 39.9 361.9 39.8 362.5 39.9 363.1 40.3 363.5 40.8 363.5 41.4 363.5 41.7 363.1 42.1 362.5 42.5 361.9 42.7 361.3 42.6 360.8 42.3 360.4 42.0M368.8 19.8 368.7 18.6 369.0 17.4 369.8 16.4 370.9 15.5 372.4 15.0 373.9 14.8 375.4 14.9 376.9 15.3 378.0 15.9 378.9 16.8 379.4 17.7 379.7 18.6 379.7 19.5 379.4 20.4 378.1 23.1 378.0 23.7 378.2 24.0 378.5 24.3 379.6 24.8 383.8 25.9 385.3 26.4 386.8 27.3 387.8 28.2 388.2 29.1 388.4 30.3 388.0 31.5 387.5 32.4 386.5 33.3 385.6 33.9 382.2 35.7 381.4 36.3 381.4 36.6 381.8 36.9 384.7 38.8 385.8 39.9 386.1 40.8 386.0 41.7 385.7 42.3 385.0 43.0 383.8 43.6 382.0 44.1 379.3 44.4 376.3 44.4 374.5 44.2 372.9 43.8 371.7 43.2 370.6 42.3 370.3 41.7 370.2 41.1 370.3 40.5 370.8 39.6 371.8 38.7 374.7 36.9 375.1 36.6 375.3 36.3 375.2 36.0 374.8 35.7 372.4 34.3 370.9 33.2 370.0 32.2 369.5 31.2 369.2 30.0 369.3 29.1 369.5 28.5 370.3 27.3 372.1 25.2 372.4 24.6 372.4 24.3 372.0 23.7 369.6 21.3 368.8 19.8"/>
<path stroke="#2579c1" d="M369.4 19.8 369.2 18.9 369.3 18.3 369.7 17.4 370.1 16.8 370.8 16.2 371.5 15.8 373.3 15.2 374.5 15.2 375.4 15.3 376.3 15.5 377.2 16.0 378.0 16.5 378.5 17.1 378.9 17.7 379.1 18.6 379.1 19.2 378.9 20.1 378.1 21.5 376.6 23.0 375.8 23.7 375.1 23.9 374.5 23.9 373.6 23.5 371.5 22.4 370.1 21.0 369.4 19.8M370.0 30.9 369.9 30.0 370.0 29.1 370.3 28.3 370.8 27.6 371.8 26.6 373.0 25.7 374.5 24.7 375.4 24.4 382.9 26.1 385.0 26.8 386.2 27.4 387.1 28.2 387.6 29.1 387.8 30.0 387.7 30.9 387.2 31.8 386.4 32.7 385.3 33.4 384.1 34.0 382.6 34.6 380.8 34.9 379.3 35.1 376.3 34.9 374.8 34.6 373.3 34.0 372.1 33.4 371.2 32.7 370.5 31.8 370.0 30.9M371.5 41.7 371.3 41.1 371.5 40.3 372.1 39.6 372.8 39.1 373.6 38.6 374.8 38.1 377.2 37.7 380.2 37.9 382.6 38.6 383.5 39.0 384.4 39.8 385.0 40.5 385.1 41.1 384.7 42.1 384.2 42.6 383.5 43.0 381.8 43.5 378.8 43.9 376.0 43.8 373.9 43.5 372.4 42.8 371.8 42.3 371.5 41.7"/>
<path stroke="#2172b9" d="M370.0 19.2 370.1 18.0 370.5 17.4 371.0 16.8 372.4 16.0 373.9 15.7 375.7 15.9 377.0 16.5 377.7 17.1 378.1 17.7 378.4 18.9 378.1 20.1 377.2 21.3 376.0 22.2 374.5 22.5 373.0 22.3 371.5 21.5 370.5 20.4 370.0 19.2M370.6 30.0 370.8 29.1 371.1 28.5 371.5 27.9 372.4 27.1 373.3 26.5 374.5 26.0 376.6 25.8 378.8 25.9 381.4 26.3 383.2 26.7 384.4 27.1 385.4 27.6 386.2 28.3 386.8 29.1 387.0 30.0 386.9 30.9 386.5 31.5 385.7 32.4 384.7 33.0 383.5 33.5 382.0 33.9 378.8 34.2 375.8 34.0 374.2 33.6 373.0 33.1 372.1 32.5 371.4 31.8 370.8 30.9 370.6 30.0M372.9 41.4 372.9 41.1 373.1 40.5 373.9 39.7 375.4 39.1 377.2 38.9 379.6 39.0 381.8 39.5 382.9 40.2 383.2 40.6 383.4 41.1 383.2 41.6 382.9 42.0 382.0 42.5 380.4 42.9 378.1 43.1 376.0 43.0 374.5 42.7 373.3 42.1 372.9 41.4"/>
<path stroke="#1e6bb1" d="M370.9 19.5 370.8 18.9 370.9 18.3 371.4 17.4 372.4 16.7 373.6 16.3 375.1 16.4 376.2 16.8 377.2 17.7 377.6 18.6 377.5 19.5 376.9 20.5 376.0 21.2 374.8 21.6 373.6 21.6 372.4 21.2 371.4 20.4 370.9 19.5M371.5 30.3 371.5 29.5 371.8 28.8 372.3 28.2 373.0 27.6 373.9 27.1 374.8 26.8 376.9 26.5 380.8 26.8 382.6 27.1 383.8 27.5 384.7 27.9 385.5 28.5 385.9 29.1 386.2 30.0 386.0 30.9 385.6 31.5 385.0 32.1 384.1 32.6 382.0 33.2 379.3 33.5 376.3 33.4 373.9 32.8 373.0 32.3 372.4 31.8 371.8 31.2 371.5 30.3M375.7 41.1 375.9 40.8 376.3 40.6 377.5 40.4 379.0 40.6 379.5 40.8 379.7 41.1 379.5 41.4 379.0 41.6 377.5 41.8 376.3 41.6 375.9 41.4 375.7 41.1"/>
<path stroke="#185ea3" d="M372.7 19.5 372.5 18.9 372.7 18.3 373.0 17.9 373.6 17.6 374.2 17.6 375.0 17.7 375.5 18.0 375.9 18.6 375.9 19.2 375.7 19.5 374.8 20.1 374.2 20.2 373.6 20.1 373.0 19.8 372.7 19.5M373.3 30.6 373.1 30.0 373.2 29.4 373.9 28.6 375.3 27.9 377.2 27.6 380.2 27.7 382.6 28.2 383.5 28.6 384.1 29.1 384.4 29.4 384.6 30.0 384.3 30.9 383.2 31.7 381.8 32.2 379.6 32.5 377.2 32.4 375.4 32.1 374.1 31.5 373.3 30.6"/>
</g>
<g fill="none" stroke-width="0.8" stroke-linejoin="round" clip-path="url(#c20)">
<path stroke="#5a9ede" d="M312.1 148.0 313.6 148.1 315.1 148.0 316.3 147.7 318.7 146.8 319.6 146.7 322.9 147.3 324.7 147.2 326.2 146.8 327.6 145.8 328.0 145.2 328.4 144.3 328.5 143.4 328.3 142.5 327.4 141.0 325.2 138.6 324.6 137.7 324.6 137.4 325.0 136.8 327.9 133.8 328.6 132.3 328.8 131.4 328.8 130.5 328.6 129.6 327.9 127.8 327.9 127.2 328.3 126.6 328.7 126.3 329.8 125.7 330.7 125.4 332.2 125.3 335.8 125.9 337.6 125.8 338.8 125.5 340.0 125.0 341.2 124.3 342.0 123.6 343.0 122.4 343.6 121.2 344.0 119.7 344.1 118.5 343.8 117.0 343.3 115.8 342.6 114.6 341.7 113.7 340.6 112.9 339.4 112.3 338.2 111.9 337.0 111.7 335.2 111.8 332.2 112.3 331.3 112.4 330.2 112.2 327.4 111.4 325.6 111.1 323.5 111.2 320.3 111.9 319.3 112.0 318.3 111.9 315.4 111.2 313.6 111.1 311.5 111.4 310.0 111.9 308.5 112.7 307.1 114.0 306.2 115.2 305.8 116.1 305.4 117.3 305.3 118.5 305.3 119.7 305.6 120.9 305.9 121.8 306.6 123.0 307.6 124.1 308.8 125.1 310.3 125.8 311.5 126.2 312.7 126.4 314.2 126.5 318.7 125.9 319.6 126.0 320.6 126.6 321.1 127.2 321.2 127.8 320.6 130.5 320.7 131.7 320.8 132.6 321.4 134.1 323.2 136.8 323.4 137.4 323.2 138.0 322.4 138.9 320.7 140.1 319.6 140.5 318.4 140.5 315.1 139.6 313.3 139.5 311.2 139.9 310.3 140.3 309.3 141.0 308.5 141.9 308.1 142.8 307.9 144.0 308.1 144.9 308.8 146.1 309.7 146.9 310.9 147.6 312.1 148.0"/>
<path stroke="#5299da" d="M312.4 146.4 313.3 146.6 314.5 146.5 315.7 146.2 316.6 145.7 317.5 144.9 317.9 144.3 318.0 143.7 317.6 142.8 317.1 142.2 316.3 141.7 315.4 141.3 314.5 141.0 312.7 141.1 311.2 141.7 310.6 142.2 310.2 142.8 310.0 143.4 310.0 144.3 310.3 145.0 310.9 145.7 311.6 146.1 312.4 146.4M322.9 145.2 323.8 145.3 324.4 145.3 325.0 145.0 325.5 144.6 325.9 144.0 325.9 143.4 325.7 142.8 325.3 142.4 324.4 141.9 323.5 141.8 322.3 142.2 321.6 142.8 321.2 143.4 321.2 143.7 321.4 144.3 322.1 144.9 322.9 145.2M323.8 133.3 324.7 133.5 325.6 133.3 326.5 132.7 327.0 132.0 327.2 131.1 327.0 130.2 326.5 129.4 325.6 128.8 324.7 128.6 323.8 128.9 323.2 129.3 322.6 130.2 322.5 131.1 322.6 132.0 323.2 132.8 323.8 133.3M323.8 125.7 325.0 125.8 326.2 125.6 327.7 125.0 330.1 123.9 331.0 123.7 332.2 123.7 334.6 124.3 336.1 124.5 337.9 124.3 339.4 123.7 340.3 123.1 341.1 122.4 341.7 121.5 342.2 120.6 342.5 119.4 342.5 118.5 342.3 117.3 341.9 116.4 341.2 115.4 340.3 114.5 339.1 113.8 337.9 113.3 336.7 113.2 335.5 113.2 332.2 113.9 331.3 114.0 330.1 113.7 327.1 112.6 325.0 112.3 323.2 112.5 320.2 113.4 319.3 113.5 318.4 113.4 316.0 112.7 314.8 112.5 313.3 112.4 312.1 112.6 310.6 113.1 309.4 113.7 308.4 114.6 307.5 115.8 307.1 116.7 306.8 117.9 306.7 119.1 306.9 120.3 307.3 121.5 307.9 122.4 308.7 123.3 309.7 124.1 311.5 124.9 313.6 125.2 315.4 125.0 318.4 124.3 319.6 124.2 323.8 125.7"/>
<path stroke="#4992d5" d="M312.7 144.9 313.6 145.1 314.8 144.9 315.4 144.3 315.6 144.0 315.5 143.4 315.0 142.8 314.2 142.5 313.3 142.5 312.7 142.7 312.2 143.1 311.9 143.7 312.0 144.3 312.7 144.9M323.5 124.5 325.0 124.7 326.5 124.4 328.0 123.9 330.4 122.6 331.3 122.4 332.2 122.5 334.3 123.2 335.8 123.5 337.3 123.4 338.5 123.0 340.0 122.0 340.6 121.3 341.0 120.6 341.3 119.7 341.4 118.8 341.3 117.9 341.0 117.0 340.5 116.1 339.7 115.3 338.8 114.7 337.6 114.3 336.4 114.1 335.2 114.2 332.2 115.1 331.3 115.2 330.4 115.0 327.1 113.5 325.0 113.2 323.2 113.4 320.2 114.4 319.3 114.6 318.4 114.4 315.1 113.4 313.6 113.2 312.4 113.4 311.2 113.7 310.0 114.4 309.1 115.2 308.2 116.4 307.8 117.3 307.7 118.2 307.7 119.4 307.8 120.3 308.2 121.2 308.8 122.1 309.7 123.0 310.6 123.6 312.4 124.2 314.2 124.3 315.7 124.1 318.1 123.3 319.3 123.1 320.2 123.3 323.5 124.5"/>
<path stroke="#3d89ce" d="M323.8 123.6 325.3 123.7 326.8 123.4 328.3 122.7 330.4 121.3 331.3 120.9 332.2 121.1 334.0 122.0 335.2 122.3 336.7 122.4 337.9 122.1 339.1 121.4 339.9 120.3 340.3 119.1 340.2 118.2 340.1 117.6 339.6 116.7 339.0 116.1 338.2 115.6 337.3 115.3 336.4 115.2 335.2 115.3 334.0 115.6 332.2 116.5 331.3 116.7 330.4 116.3 328.6 115.1 327.4 114.5 326.2 114.1 325.0 114.0 323.2 114.3 320.2 115.6 319.3 115.7 318.4 115.6 316.3 114.6 315.1 114.2 313.9 114.1 312.7 114.2 311.5 114.5 310.4 115.2 309.5 116.1 308.9 117.0 308.6 117.9 308.5 118.8 308.6 119.7 308.9 120.6 309.4 121.4 310.0 122.1 311.5 123.1 313.0 123.5 314.8 123.4 316.0 123.1 318.4 122.1 319.3 121.9 320.2 122.1 322.3 123.1 323.8 123.6"/>
<path stroke="#3382c8" d="M324.1 123.1 325.0 123.1 325.9 123.0 326.8 122.8 327.7 122.3 328.6 121.7 329.5 120.9 330.3 120.0 330.7 119.1 330.8 118.8 330.6 118.2 329.8 117.0 328.5 115.8 327.1 115.0 325.6 114.6 323.8 114.7 322.6 115.1 320.2 116.5 319.3 116.8 318.4 116.5 316.6 115.4 315.4 114.9 314.2 114.7 313.0 114.7 311.8 115.0 310.9 115.5 310.0 116.4 309.5 117.3 309.2 118.8 309.5 120.3 310.3 121.5 311.0 122.1 311.8 122.6 313.3 122.9 314.8 122.8 316.0 122.5 318.4 121.1 319.3 120.9 320.2 121.1 322.6 122.6 324.1 123.1M335.2 121.5 336.4 121.7 337.6 121.4 338.5 120.8 339.1 120.0 339.4 119.1 339.3 117.9 338.7 117.0 337.9 116.4 337.3 116.1 336.4 115.9 334.9 116.2 333.4 117.0 332.3 118.2 332.2 118.8 332.2 119.1 332.8 120.0 333.8 120.9 335.2 121.5"/>
<path stroke="#287bc2" d="M313.3 122.4 314.8 122.3 316.0 121.9 317.1 121.2 319.0 119.5 319.3 119.4 319.9 119.7 321.8 121.5 322.9 122.1 324.4 122.6 325.3 122.6 326.2 122.4 327.7 121.7 328.9 120.6 329.5 119.4 329.6 118.8 329.5 118.2 329.1 117.3 328.3 116.4 327.1 115.6 325.9 115.2 324.4 115.1 322.9 115.5 321.7 116.2 319.9 117.9 319.3 118.2 318.7 117.9 317.1 116.4 315.7 115.6 314.2 115.2 312.7 115.3 311.5 115.8 310.4 116.7 309.8 117.9 309.7 119.1 310.1 120.3 310.9 121.4 312.1 122.1 313.3 122.4M335.2 120.7 336.1 120.9 337.0 120.8 337.6 120.5 338.2 119.9 338.5 119.2 338.5 118.5 338.2 117.7 337.6 117.1 336.7 116.8 335.8 116.8 334.6 117.2 333.9 117.9 333.7 118.5 333.8 119.4 334.3 120.1 335.2 120.7"/>
<path stroke="#2274bb" d="M324.4 122.1 325.9 122.0 327.1 121.6 328.2 120.6 328.8 119.4 328.8 118.2 328.2 117.0 327.1 116.1 325.9 115.6 324.4 115.5 323.5 115.8 322.8 116.1 321.9 116.7 321.4 117.3 321.0 117.9 320.8 118.5 320.8 119.1 321.0 119.7 321.9 120.9 323.2 121.8 324.4 122.1M312.7 121.9 314.2 122.0 315.4 121.7 316.6 120.9 317.6 119.7 317.8 118.8 317.6 117.9 316.9 117.0 315.7 116.1 314.2 115.6 312.7 115.7 311.5 116.3 310.6 117.3 310.3 118.1 310.2 118.8 310.5 120.0 310.8 120.6 311.4 121.2 312.7 121.9M335.5 119.7 336.4 119.9 337.0 119.7 337.4 119.1 337.4 118.5 337.3 118.2 337.0 117.9 336.4 117.7 335.8 117.8 335.2 118.1 335.0 118.5 335.0 119.1 335.5 119.7"/>
<path stroke="#1d6ab0" d="M324.7 121.5 325.9 121.4 326.9 120.9 327.8 120.0 328.1 119.1 328.0 118.2 327.6 117.3 326.8 116.6 325.6 116.2 324.4 116.2 323.2 116.6 322.3 117.4 321.9 117.9 321.8 118.5 321.7 119.1 321.9 119.7 322.6 120.6 323.5 121.2 324.7 121.5M313.0 121.3 314.2 121.3 315.1 121.1 316.0 120.5 316.6 119.7 316.8 118.8 316.6 117.9 316.0 117.1 315.1 116.5 313.9 116.2 312.7 116.4 311.7 117.0 311.1 117.9 310.9 119.1 311.2 120.0 312.1 120.9 313.0 121.3"/>
<path stroke="#175ca1" d="M324.4 120.6 325.3 120.7 325.9 120.5 326.6 120.0 327.0 119.4 327.1 118.8 327.0 118.2 326.6 117.6 325.9 117.1 325.0 116.9 324.1 117.1 323.3 117.6 322.9 118.2 322.8 119.1 323.1 119.7 323.7 120.3 324.4 120.6M313.0 120.3 313.6 120.5 314.2 120.4 314.8 120.2 315.4 119.7 315.7 119.1 315.7 118.5 315.4 117.9 315.1 117.6 314.5 117.3 313.6 117.1 312.7 117.4 312.2 117.9 311.9 118.5 312.0 119.4 312.4 120.0 313.0 120.3"/>
</g>
<g fill="none" stroke-width="0.8" stroke-linejoin="round" clip-path="url(#c02)">
<path stroke="#5a9ede" d="M406.0 42.9 405.9 41.4 406.0 39.9 406.3 38.7 407.2 36.3 407.3 35.4 406.7 32.1 406.8 30.3 407.2 28.8 408.2 27.4 408.8 27.0 409.7 26.6 410.6 26.5 411.5 26.7 413.0 27.6 415.4 29.8 416.3 30.4 416.6 30.4 417.2 30.0 420.2 27.1 421.7 26.4 422.6 26.2 423.5 26.2 424.4 26.4 426.2 27.1 426.8 27.1 427.4 26.7 427.7 26.3 428.3 25.2 428.6 24.3 428.7 22.8 428.1 19.2 428.2 17.4 428.5 16.2 429.0 15.0 429.7 13.8 430.4 13.0 431.6 12.0 432.8 11.4 434.3 11.0 435.5 10.9 437.0 11.2 438.2 11.7 439.4 12.4 440.3 13.3 441.1 14.4 441.7 15.6 442.1 16.8 442.3 18.0 442.2 19.8 441.7 22.8 441.6 23.7 441.8 24.8 442.6 27.6 442.9 29.4 442.8 31.5 442.1 34.7 442.0 35.7 442.1 36.7 442.8 39.6 442.9 41.4 442.6 43.5 442.1 45.0 441.3 46.5 440.0 47.9 438.8 48.8 437.9 49.2 436.7 49.6 435.5 49.7 434.3 49.7 433.1 49.4 432.2 49.1 431.0 48.4 429.9 47.4 428.9 46.2 428.2 44.7 427.8 43.5 427.6 42.3 427.5 40.8 428.1 36.3 428.0 35.4 427.4 34.4 426.8 33.9 426.2 33.8 423.5 34.4 422.3 34.3 421.4 34.2 419.9 33.6 417.2 31.8 416.6 31.6 416.0 31.8 415.1 32.6 413.9 34.3 413.5 35.4 413.5 36.6 414.4 39.9 414.5 41.7 414.1 43.8 413.7 44.7 413.0 45.7 412.1 46.5 411.2 46.9 410.0 47.1 409.1 46.9 407.9 46.2 407.1 45.3 406.4 44.1 406.0 42.9"/>
<path stroke="#5299da" d="M407.6 42.6 407.4 41.7 407.5 40.5 407.8 39.3 408.3 38.4 409.1 37.5 409.7 37.1 410.3 37.0 411.2 37.4 411.8 37.9 412.3 38.7 412.7 39.6 413.0 40.5 412.9 42.3 412.3 43.8 411.8 44.4 411.2 44.8 410.6 45.0 409.7 45.0 409.0 44.7 408.3 44.1 407.9 43.4 407.6 42.6M408.8 32.1 408.7 31.2 408.7 30.6 409.0 30.0 409.4 29.5 410.0 29.1 410.6 29.1 411.2 29.3 411.6 29.7 412.1 30.6 412.2 31.5 411.8 32.7 411.2 33.4 410.6 33.8 410.3 33.8 409.7 33.6 409.1 32.9 408.8 32.1M420.7 31.2 420.5 30.3 420.7 29.4 421.3 28.5 422.0 28.0 422.9 27.8 423.8 28.0 424.6 28.5 425.2 29.4 425.4 30.3 425.1 31.2 424.7 31.8 423.8 32.4 422.9 32.5 422.0 32.4 421.2 31.8 420.7 31.2M428.3 31.2 428.2 30.0 428.4 28.8 429.0 27.3 430.1 24.9 430.3 24.0 430.3 22.8 429.7 20.4 429.5 18.9 429.7 17.1 430.3 15.6 430.9 14.7 431.6 13.9 432.5 13.3 433.4 12.8 434.6 12.5 435.5 12.5 436.7 12.7 437.6 13.1 438.6 13.8 439.5 14.7 440.2 15.9 440.7 17.1 440.8 18.3 440.8 19.5 440.1 22.8 440.0 23.7 440.3 24.9 441.4 27.9 441.7 30.0 441.5 31.8 440.6 34.8 440.5 35.7 440.6 36.6 441.3 39.0 441.5 40.2 441.6 41.7 441.4 42.9 440.9 44.4 440.3 45.6 439.4 46.6 438.2 47.5 437.3 47.9 436.1 48.2 434.9 48.3 433.7 48.1 432.5 47.7 431.6 47.1 430.7 46.3 429.9 45.3 429.1 43.5 428.8 41.4 429.0 39.6 429.7 36.6 429.8 35.4 428.3 31.2"/>
<path stroke="#4992d5" d="M409.1 42.3 408.9 41.4 409.1 40.2 409.7 39.6 410.0 39.4 410.6 39.5 411.2 40.0 411.5 40.8 411.5 41.7 411.3 42.3 410.9 42.8 410.3 43.1 409.7 43.0 409.1 42.3M429.5 31.5 429.3 30.0 429.6 28.5 430.1 27.0 431.4 24.6 431.6 23.7 431.5 22.8 430.8 20.7 430.5 19.2 430.6 17.7 431.0 16.5 432.0 15.0 432.7 14.4 433.4 14.0 434.3 13.7 435.2 13.6 436.1 13.7 437.0 14.0 437.9 14.5 438.7 15.3 439.3 16.2 439.7 17.4 439.9 18.6 439.8 19.8 438.9 22.8 438.8 23.7 439.0 24.6 440.5 27.9 440.8 30.0 440.6 31.8 439.6 34.8 439.4 35.7 439.6 36.6 440.6 39.9 440.8 41.4 440.6 42.6 440.3 43.8 439.6 45.0 438.8 45.9 437.6 46.8 436.7 47.2 435.8 47.3 434.6 47.3 433.7 47.2 432.8 46.8 431.9 46.2 431.0 45.3 430.4 44.4 429.8 42.6 429.7 40.8 429.9 39.3 430.7 36.9 430.9 35.7 430.7 34.8 429.5 31.5"/>
<path stroke="#3d89ce" d="M430.4 31.2 430.3 29.7 430.6 28.2 431.3 26.7 432.7 24.6 433.1 23.7 432.9 22.8 432.0 21.0 431.7 19.8 431.6 18.3 431.9 17.1 432.6 15.9 433.7 15.1 434.9 14.7 435.8 14.8 436.4 14.9 437.3 15.4 437.9 16.0 438.4 16.8 438.7 17.7 438.8 18.6 438.7 19.8 438.4 21.0 437.5 22.8 437.3 23.7 437.7 24.6 438.9 26.4 439.5 27.6 439.9 28.8 440.0 30.0 439.7 31.8 438.4 34.8 438.3 35.7 438.4 36.6 439.4 38.7 439.8 39.9 439.9 41.1 439.8 42.3 439.5 43.5 438.8 44.6 437.9 45.5 437.0 46.1 436.1 46.4 435.2 46.5 434.3 46.4 433.4 46.1 432.6 45.6 431.9 45.0 430.9 43.5 430.5 42.0 430.6 40.2 430.9 39.0 431.9 36.6 432.1 35.7 431.9 34.8 430.9 32.7 430.4 31.2"/>
<path stroke="#3382c8" d="M430.9 30.9 430.9 30.0 431.0 29.1 431.2 28.2 431.7 27.3 432.3 26.4 433.1 25.5 434.0 24.7 434.9 24.3 435.2 24.2 435.8 24.4 437.0 25.2 438.2 26.5 439.0 27.9 439.4 29.4 439.3 31.2 438.9 32.4 437.5 34.8 437.2 35.7 437.5 36.6 438.6 38.4 439.1 39.6 439.3 40.8 439.3 42.0 439.0 43.2 438.5 44.1 437.6 45.0 436.7 45.5 435.2 45.8 433.7 45.5 432.5 44.7 431.9 44.0 431.4 43.2 431.1 41.7 431.2 40.2 431.5 39.0 432.9 36.6 433.1 35.7 432.9 34.8 431.4 32.4 430.9 30.9M432.5 19.8 432.3 18.6 432.6 17.4 433.2 16.5 434.0 15.9 434.9 15.6 436.1 15.7 437.0 16.3 437.6 17.1 437.9 17.7 438.1 18.6 437.8 20.1 437.0 21.6 435.8 22.7 435.2 22.8 434.9 22.8 434.0 22.2 433.1 21.2 432.5 19.8"/>
<path stroke="#287bc2" d="M431.6 41.7 431.7 40.2 432.1 39.0 432.8 37.9 434.5 36.0 434.6 35.7 434.3 35.1 432.5 33.2 431.9 32.1 431.4 30.6 431.4 29.7 431.6 28.8 432.3 27.3 433.4 26.1 434.6 25.5 435.2 25.4 435.8 25.5 436.7 25.9 437.6 26.7 438.4 27.9 438.8 29.1 438.9 30.6 438.5 32.1 437.8 33.3 436.1 35.1 435.8 35.7 436.1 36.3 437.6 37.9 438.4 39.3 438.8 40.8 438.7 42.3 438.2 43.5 437.3 44.6 436.1 45.2 434.9 45.3 433.7 44.9 432.6 44.1 431.9 42.9 431.6 41.7M433.3 19.8 433.1 18.9 433.2 18.0 433.5 17.4 434.1 16.8 434.8 16.5 435.5 16.5 436.3 16.8 436.9 17.4 437.2 18.3 437.2 19.2 436.8 20.4 436.1 21.1 435.5 21.3 434.6 21.2 433.9 20.7 433.3 19.8"/>
<path stroke="#2274bb" d="M431.9 30.6 432.0 29.1 432.4 27.9 433.4 26.8 434.6 26.2 435.8 26.2 437.0 26.8 437.9 27.9 438.4 29.1 438.5 30.6 438.2 31.5 437.9 32.2 437.3 33.1 436.7 33.6 436.1 34.0 435.5 34.2 434.9 34.2 434.3 34.0 433.1 33.1 432.2 31.8 431.9 30.6M432.1 42.3 432.0 40.8 432.3 39.6 433.1 38.4 434.3 37.4 435.2 37.2 436.1 37.4 437.0 38.1 437.9 39.3 438.4 40.8 438.3 42.3 437.7 43.5 436.7 44.4 435.9 44.7 435.2 44.8 434.0 44.5 433.4 44.2 432.8 43.6 432.1 42.3M434.3 19.5 434.1 18.6 434.3 18.0 434.9 17.6 435.5 17.6 435.8 17.7 436.1 18.0 436.3 18.6 436.2 19.2 435.9 19.8 435.5 20.0 434.9 20.0 434.3 19.5"/>
<path stroke="#1d6ab0" d="M432.5 30.3 432.6 29.1 433.1 28.1 434.0 27.2 434.9 26.9 435.8 27.0 436.7 27.4 437.4 28.2 437.8 29.4 437.8 30.6 437.4 31.8 436.6 32.7 436.1 33.1 435.5 33.2 434.9 33.3 434.3 33.1 433.4 32.4 432.8 31.5 432.5 30.3M432.7 42.0 432.7 40.8 432.9 39.9 433.5 39.0 434.3 38.4 435.2 38.2 436.1 38.4 436.9 39.0 437.5 39.9 437.8 41.1 437.6 42.3 437.0 43.3 436.1 43.9 434.9 44.1 434.0 43.8 433.1 42.9 432.7 42.0"/>
<path stroke="#175ca1" d="M433.4 30.6 433.3 29.7 433.5 29.1 434.0 28.4 434.6 28.0 435.2 27.9 435.8 28.0 436.4 28.4 436.9 29.1 437.1 30.0 436.9 30.9 436.4 31.7 435.8 32.1 434.9 32.2 434.3 31.9 433.7 31.3 433.4 30.6M433.7 42.0 433.5 41.4 433.6 40.8 433.8 40.2 434.3 39.6 434.9 39.3 435.5 39.3 436.1 39.6 436.4 39.9 436.7 40.5 436.9 41.4 436.6 42.3 436.1 42.8 435.5 43.1 434.6 43.0 434.0 42.6 433.7 42.0"/>
</g>
<g fill="none" stroke-width="0.8" stroke-linejoin="round" clip-path="url(#c30)">
<path stroke="#5a9ede" d="M312.1 197.9 313.3 198.1 314.8 198.1 318.4 197.4 319.6 197.2 323.8 197.9 325.9 197.9 327.7 197.4 330.7 195.8 331.6 195.5 332.8 195.3 335.8 195.4 337.3 195.3 339.1 194.7 340.6 193.7 341.8 192.4 342.6 190.9 343.2 189.1 343.4 187.3 343.3 183.1 343.5 178.9 343.4 177.1 343.1 175.9 342.7 174.8 342.1 173.6 341.4 172.7 340.0 171.3 338.2 170.4 336.7 170.0 333.7 169.7 332.5 169.3 331.6 168.7 329.7 166.9 328.6 166.1 327.4 165.4 325.9 165.0 323.8 165.0 320.8 165.5 319.6 165.6 318.4 165.5 315.1 164.7 313.3 164.7 312.1 164.9 310.9 165.3 309.1 166.5 307.9 167.8 307.0 169.3 306.3 171.2 305.9 172.9 305.7 175.7 306.2 181.3 305.7 186.8 305.8 189.1 306.0 190.6 306.4 192.1 307.1 193.6 307.8 194.8 308.8 196.0 309.7 196.8 310.9 197.5 312.1 197.9"/>
<path stroke="#458fd2" d="M312.7 195.2 313.9 195.3 315.1 195.2 316.3 194.8 318.4 194.0 319.6 193.8 320.8 193.9 323.8 194.9 325.6 194.9 327.4 194.3 330.1 192.6 331.0 192.2 332.2 192.1 334.6 192.8 336.1 192.9 337.6 192.6 339.1 191.8 340.0 190.9 340.6 189.9 341.0 188.8 341.2 187.3 341.0 182.8 341.2 179.5 341.2 178.0 340.8 176.2 340.0 174.8 338.8 173.6 337.9 173.1 337.0 172.8 335.5 172.7 332.5 173.0 331.6 172.9 330.7 172.3 328.6 170.1 327.7 169.3 326.8 168.8 325.6 168.4 324.7 168.3 323.8 168.4 321.1 169.2 319.9 169.3 318.7 169.0 315.7 167.8 313.9 167.5 312.1 167.8 310.6 168.6 309.6 169.7 308.8 170.8 308.2 172.3 307.9 173.8 307.9 176.2 308.5 179.8 308.7 181.3 308.5 182.8 307.9 186.4 307.8 188.5 308.0 189.8 308.3 190.9 308.8 192.0 309.4 192.9 310.0 193.6 310.9 194.4 311.8 194.9 312.7 195.2"/>
<path stroke="#3383c9" d="M312.7 193.7 313.9 193.9 315.4 193.6 316.6 193.1 318.7 191.9 319.6 191.7 320.5 191.8 322.6 192.8 323.8 193.2 325.0 193.4 325.9 193.2 327.4 192.6 330.4 190.1 331.3 189.7 332.2 190.0 334.3 191.1 335.5 191.4 337.0 191.3 338.2 190.8 338.9 190.0 339.4 189.3 339.7 188.5 339.9 187.3 339.6 182.8 339.9 179.5 340.0 178.3 339.7 177.2 339.2 175.9 338.5 175.1 337.9 174.7 337.3 174.4 336.4 174.2 334.9 174.3 332.2 175.3 331.3 175.3 330.4 174.7 328.6 172.4 327.7 171.4 326.8 170.8 325.6 170.3 324.7 170.2 323.8 170.3 320.8 171.5 319.9 171.6 319.0 171.3 316.6 169.7 315.1 169.1 314.2 168.9 313.3 169.0 312.4 169.2 311.5 169.6 310.6 170.4 309.8 171.4 309.2 172.7 309.0 173.8 308.9 175.1 309.0 176.2 310.0 180.1 310.1 181.3 310.0 182.5 309.0 186.1 308.9 188.2 309.2 190.0 310.0 191.7 311.2 193.0 312.7 193.7"/>
<path stroke="#2a7cc3" d="M313.0 193.1 314.2 193.2 315.4 192.9 316.6 192.3 318.7 190.8 319.6 190.5 320.5 190.7 322.4 191.8 323.5 192.4 324.7 192.6 325.9 192.4 327.1 191.9 328.0 191.2 328.8 190.3 329.7 189.1 330.4 187.9 330.6 187.0 330.3 186.1 329.2 183.4 329.0 181.9 329.3 180.8 330.3 178.7 330.4 177.4 330.0 175.9 329.0 174.2 328.0 172.8 326.8 171.7 325.6 171.2 324.1 171.2 322.9 171.6 320.8 172.8 319.9 173.0 319.0 172.6 317.2 171.0 316.1 170.2 315.1 169.8 313.9 169.6 312.7 169.8 311.8 170.2 311.0 170.8 310.3 171.7 309.8 172.7 309.6 173.6 309.4 175.3 309.7 177.2 310.9 180.4 311.0 181.6 310.8 182.5 309.6 186.1 309.4 187.3 309.4 188.5 309.8 190.0 310.6 191.5 311.8 192.6 313.0 193.1M336.1 190.7 337.0 190.5 337.9 190.0 338.7 189.1 339.1 188.2 339.2 186.4 338.7 182.8 339.3 178.9 339.1 177.4 338.5 176.2 337.5 175.3 336.7 175.1 336.1 175.0 334.9 175.2 333.9 175.7 332.8 176.6 332.0 177.8 331.9 178.3 332.0 178.9 332.8 181.6 333.0 182.8 332.8 184.0 332.0 186.1 331.8 187.0 332.0 187.6 332.3 188.2 333.4 189.5 334.7 190.3 336.1 190.7M318.7 183.5 317.9 182.5 317.7 181.9 317.7 181.3 317.8 180.8 318.1 180.2 318.5 179.8 319.0 179.7 319.6 179.9 320.0 180.4 320.4 181.3 320.4 182.2 320.3 182.8 319.9 183.5 319.3 183.7 318.7 183.5"/>
<path stroke="#2376be" d="M312.7 192.5 314.2 192.7 315.7 192.2 317.1 191.2 319.0 189.4 319.6 189.1 320.2 189.4 322.0 190.9 322.9 191.5 323.8 191.8 324.7 192.0 325.9 191.8 326.8 191.4 327.7 190.7 328.5 189.8 329.2 188.2 329.4 187.0 329.2 185.8 328.2 183.1 328.1 181.9 328.3 181.0 329.3 178.3 329.4 176.8 329.1 175.7 328.5 174.4 327.7 173.3 326.8 172.5 326.2 172.1 325.3 171.8 324.7 171.8 323.8 172.0 322.4 172.7 320.2 174.3 319.6 174.4 319.0 173.9 316.9 171.4 316.0 170.8 314.8 170.3 313.6 170.1 312.7 170.3 311.7 170.8 310.8 171.8 310.3 172.7 310.0 173.6 309.8 174.4 309.9 175.7 310.3 177.5 311.6 180.4 311.8 181.6 311.5 182.5 310.1 185.8 309.9 187.0 309.8 188.2 310.1 189.8 310.7 190.9 311.6 191.8 312.7 192.5M335.2 189.8 336.4 189.9 337.0 189.8 337.6 189.4 338.1 188.8 338.4 188.2 338.6 187.0 338.5 185.8 338.0 183.8 338.0 182.8 338.6 179.5 338.7 178.7 338.5 177.8 338.1 176.8 337.6 176.2 337.0 175.9 336.1 175.7 334.9 175.9 334.0 176.6 333.4 177.4 333.2 178.3 333.2 179.5 334.0 181.9 334.1 182.8 334.0 183.8 333.2 186.1 333.2 187.3 333.5 188.2 333.9 188.8 334.5 189.4 335.2 189.8M319.0 185.6 318.1 184.7 317.0 183.1 316.5 182.2 316.4 181.3 316.6 180.4 317.5 179.0 318.7 177.8 319.3 177.6 319.9 178.0 320.8 179.5 321.4 181.0 321.6 182.2 321.3 183.4 320.5 184.9 319.9 185.5 319.6 185.7 319.0 185.6"/>
<path stroke="#2171b8" d="M313.3 192.2 314.2 192.2 315.1 192.0 316.6 191.1 318.0 189.4 318.4 188.5 318.6 187.6 318.5 187.0 318.2 186.1 315.5 182.2 315.2 181.3 315.6 180.4 317.6 177.8 318.3 176.6 318.5 175.7 318.3 174.4 317.6 172.9 316.6 171.8 315.4 170.9 314.8 170.7 313.9 170.6 313.0 170.7 312.4 170.9 311.3 171.8 310.9 172.3 310.4 173.2 310.2 174.8 310.2 175.9 310.6 177.2 311.2 178.5 312.6 180.8 312.7 181.3 312.5 182.2 311.2 184.3 310.5 185.8 310.2 187.3 310.2 188.8 310.6 190.0 311.2 190.9 312.1 191.7 313.3 192.2M323.8 191.3 324.7 191.5 325.3 191.5 326.2 191.2 326.8 190.9 327.4 190.3 328.1 189.4 328.6 188.5 328.8 187.6 328.6 186.1 327.5 183.1 327.4 182.2 327.6 181.0 328.7 178.0 328.8 176.8 328.6 175.9 328.0 174.4 327.1 173.3 326.2 172.7 325.0 172.4 324.4 172.4 323.5 172.6 322.1 173.6 320.9 175.1 320.5 176.2 320.7 177.4 322.2 181.0 322.4 182.2 322.1 183.4 320.7 186.4 320.5 187.3 320.5 187.9 320.9 188.8 321.9 190.0 322.9 190.9 323.8 191.3M335.5 189.2 336.4 189.2 337.2 188.8 337.8 187.9 338.0 187.0 337.9 185.8 337.1 183.8 336.9 182.8 337.1 182.2 337.9 179.8 338.0 178.3 337.8 177.4 337.3 176.8 336.7 176.5 336.1 176.4 335.3 176.6 334.6 177.0 334.1 177.8 333.9 178.7 334.1 179.8 335.0 181.9 335.2 182.8 335.0 183.8 334.1 186.1 334.0 187.3 334.2 187.9 334.6 188.5 335.5 189.2"/>
<path stroke="#1e6cb2" d="M312.7 191.6 313.3 191.8 314.2 191.8 315.1 191.6 315.7 191.2 317.0 190.0 317.5 189.1 317.8 188.2 317.8 187.6 317.7 186.8 317.0 185.2 315.4 183.4 314.8 182.9 314.2 182.6 313.3 182.8 312.1 183.8 311.1 185.2 310.6 187.0 310.5 188.5 310.9 189.8 311.7 190.9 312.7 191.6M324.4 191.0 325.3 191.0 325.9 190.9 327.1 190.1 327.9 188.8 328.3 187.3 328.0 185.8 326.8 183.1 326.6 182.2 326.8 181.3 327.8 179.2 328.2 178.0 328.3 176.8 328.2 175.9 327.7 174.8 327.0 173.8 325.9 173.1 325.0 172.9 323.8 173.1 322.6 173.8 321.7 175.1 321.3 175.9 321.3 176.6 321.5 178.0 322.9 181.0 323.2 182.2 323.0 183.1 321.5 186.1 321.3 187.0 321.3 187.9 321.8 189.1 322.6 190.0 323.5 190.7 324.4 191.0M335.8 188.3 336.4 188.3 336.7 188.1 337.1 187.6 337.2 187.0 337.0 185.8 336.7 185.4 336.1 185.1 335.8 185.2 335.4 185.5 335.1 186.1 334.9 186.8 335.1 187.6 335.3 187.9 335.8 188.3M335.8 180.6 336.4 180.6 336.7 180.4 337.1 179.8 337.3 178.9 337.3 178.3 337.0 177.8 336.7 177.4 336.1 177.3 335.5 177.4 335.2 177.7 334.8 178.7 334.9 179.2 335.1 179.8 335.8 180.6M313.9 180.2 314.5 180.1 315.1 179.7 316.4 178.3 317.4 176.8 317.7 175.9 317.8 175.3 317.5 173.8 316.6 172.3 315.4 171.4 314.8 171.1 313.9 171.0 312.7 171.2 312.1 171.5 311.5 172.1 311.1 172.7 310.7 173.6 310.5 175.1 310.7 176.6 311.5 178.2 312.7 179.6 313.3 180.0 313.9 180.2"/>
<path stroke="#1b65ab" d="M313.6 191.3 314.8 191.1 316.0 190.3 316.8 189.1 317.1 187.9 316.9 186.8 316.1 185.2 315.1 184.2 314.5 183.9 313.9 183.8 313.0 184.0 312.0 184.9 311.3 186.1 310.9 187.6 311.1 188.8 311.6 190.0 312.4 190.8 313.6 191.3M324.7 190.4 325.3 190.4 325.9 190.2 326.8 189.5 327.4 188.5 327.6 187.3 327.4 186.1 326.8 184.8 325.9 183.7 325.3 183.2 325.0 183.1 324.7 183.2 324.1 183.5 323.1 184.6 322.3 186.1 322.1 187.3 322.3 188.5 322.9 189.4 323.8 190.1 324.7 190.4M324.7 181.1 325.0 181.2 325.6 180.9 326.5 180.0 327.3 178.7 327.7 177.2 327.5 175.9 326.9 174.8 325.9 173.8 325.0 173.6 323.8 173.8 323.0 174.4 322.3 175.3 322.0 176.6 322.2 177.8 322.9 179.2 323.8 180.5 324.7 181.1M313.6 179.0 314.2 179.0 314.8 178.8 315.7 178.1 316.6 176.8 317.1 175.3 316.8 173.8 316.1 172.7 315.1 171.8 313.9 171.5 312.7 171.8 311.8 172.5 311.2 173.6 310.9 174.8 311.1 176.2 311.7 177.4 312.7 178.6 313.6 179.0"/>
<path stroke="#175ca0" d="M313.3 190.4 314.2 190.4 315.1 190.0 315.8 189.1 316.1 188.2 316.1 187.3 315.7 186.2 315.1 185.5 314.2 185.1 313.3 185.2 312.7 185.5 312.1 186.2 311.7 187.3 311.7 188.2 311.9 189.1 312.4 189.8 313.3 190.4M324.4 189.2 325.3 189.2 325.9 188.9 326.4 188.2 326.6 187.6 326.5 186.8 326.2 186.0 325.6 185.4 325.0 185.2 324.4 185.3 323.8 185.8 323.4 186.4 323.2 187.0 323.2 187.6 323.5 188.4 323.9 188.8 324.4 189.2M324.4 179.0 325.3 179.1 325.9 178.7 326.4 178.0 326.7 177.2 326.6 176.2 326.2 175.4 325.6 174.9 325.0 174.7 324.4 174.8 323.8 175.2 323.4 175.6 323.1 176.6 323.2 177.4 323.5 178.0 323.8 178.6 324.4 179.0M313.9 177.8 314.8 177.5 315.4 177.0 316.0 176.0 316.2 175.1 316.0 174.2 315.5 173.2 314.8 172.6 313.9 172.4 313.0 172.6 312.2 173.2 311.8 174.2 311.7 175.1 311.8 175.9 312.4 177.0 313.0 177.5 313.9 177.8"/>
</g>
<g fill="none" stroke-width="0.8" stroke-linejoin="round" clip-path="url(#c03)">
<path stroke="#5a9ede" d="M455.6 42.9 455.4 41.7 455.4 40.2 456.1 36.6 456.3 35.4 455.6 31.2 455.6 29.1 456.1 27.3 457.7 24.3 458.0 23.4 458.2 22.2 458.1 19.2 458.2 17.7 458.8 15.9 459.8 14.4 461.1 13.2 462.6 12.4 464.4 11.8 466.2 11.6 470.4 11.7 474.6 11.5 476.4 11.6 477.6 11.9 478.8 12.3 479.9 12.9 480.9 13.6 482.2 15.0 483.1 16.8 483.5 18.3 483.8 21.3 484.2 22.5 484.8 23.4 486.6 25.3 487.4 26.4 488.1 27.6 488.5 29.1 488.5 31.2 488.0 34.2 487.9 35.4 488.0 36.6 488.8 39.9 488.8 41.7 488.6 42.9 488.2 44.1 487.0 45.9 485.6 47.1 484.1 48.0 482.4 48.7 480.6 49.1 477.9 49.3 472.1 48.8 466.8 49.3 464.4 49.2 462.9 49.0 461.4 48.6 459.9 47.9 458.7 47.2 457.5 46.2 456.7 45.3 456.0 44.1 455.6 42.9"/>
<path stroke="#458fd2" d="M458.3 42.3 458.2 41.1 458.3 39.9 458.7 38.7 459.5 36.6 459.7 35.4 459.6 34.2 458.6 31.2 458.6 29.4 459.2 27.6 460.9 24.9 461.3 24.0 461.4 22.8 460.7 20.4 460.6 18.9 460.9 17.4 461.7 15.9 462.6 15.0 463.6 14.4 464.7 14.0 466.2 13.8 470.7 14.0 473.9 13.8 475.4 13.8 477.2 14.2 478.8 15.0 479.9 16.2 480.4 17.1 480.7 18.0 480.8 19.5 480.5 22.5 480.6 23.4 481.2 24.3 483.4 26.4 484.2 27.3 484.7 28.2 485.1 29.4 485.2 30.3 485.1 31.2 484.3 33.9 484.2 35.1 484.5 36.3 485.7 39.3 486.0 41.1 485.7 42.9 484.9 44.4 483.9 45.4 482.6 46.2 481.1 46.8 479.6 47.1 477.2 47.1 473.6 46.5 472.1 46.3 470.7 46.5 467.1 47.1 464.9 47.2 463.8 47.0 462.6 46.7 461.5 46.2 460.6 45.6 459.9 45.0 459.1 44.1 458.6 43.2 458.3 42.3"/>
<path stroke="#3383c9" d="M459.8 42.3 459.6 41.1 459.9 39.6 460.4 38.4 461.6 36.3 461.8 35.4 461.7 34.5 460.7 32.4 460.3 31.2 460.1 30.0 460.3 29.1 460.9 27.6 463.4 24.6 463.8 23.7 463.5 22.8 462.4 20.7 462.1 19.5 462.2 18.0 462.7 16.8 463.4 16.1 464.2 15.6 464.9 15.3 466.2 15.1 470.7 15.4 473.9 15.1 475.1 15.0 476.4 15.3 477.6 15.8 478.4 16.5 478.8 17.1 479.1 17.7 479.3 18.6 479.2 20.1 478.2 22.8 478.1 23.7 478.8 24.6 481.1 26.4 482.1 27.3 482.7 28.2 483.2 29.4 483.3 30.3 483.2 31.2 482.0 34.2 481.9 35.1 482.2 36.0 483.8 38.4 484.4 39.9 484.6 40.8 484.5 41.7 484.3 42.6 483.9 43.5 483.1 44.4 482.1 45.2 480.9 45.8 479.6 46.0 478.4 46.1 477.2 46.0 473.4 45.0 472.1 44.9 470.9 45.0 467.4 46.0 465.2 46.1 463.4 45.8 461.8 45.0 460.5 43.8 459.8 42.3"/>
<path stroke="#2a7cc3" d="M460.4 42.0 460.3 40.8 460.6 39.6 461.2 38.4 462.7 36.3 463.0 35.4 462.8 34.5 461.7 32.6 461.1 31.5 460.9 30.3 461.1 29.1 461.6 27.9 462.2 27.0 463.2 26.2 464.4 25.3 465.6 24.6 466.4 24.4 467.4 24.7 470.1 25.8 471.6 26.0 472.8 25.7 474.9 24.7 476.1 24.6 477.6 25.0 479.4 26.0 480.7 27.0 481.8 28.2 482.3 29.4 482.3 30.9 481.9 32.1 480.7 34.2 480.5 35.1 480.9 36.0 482.5 37.8 483.2 38.9 483.7 39.9 483.9 41.1 483.7 42.3 483.3 43.2 482.6 44.0 481.8 44.7 480.9 45.2 479.9 45.4 478.1 45.6 476.4 45.3 473.1 44.1 471.9 44.0 470.9 44.2 467.4 45.4 466.2 45.6 464.9 45.6 463.4 45.2 462.0 44.4 460.9 43.2 460.4 42.0M462.8 18.9 463.0 18.0 463.5 17.1 464.4 16.3 465.2 15.9 467.1 15.8 470.7 16.3 474.6 15.7 476.1 15.9 477.3 16.5 478.1 17.5 478.4 18.3 478.5 18.9 478.3 20.1 477.9 21.1 476.9 22.2 475.8 23.0 475.1 23.1 474.6 23.0 471.9 22.2 470.7 22.0 469.4 22.2 467.4 23.0 466.4 23.2 465.9 23.0 465.2 22.7 464.0 21.6 463.2 20.3 462.8 18.9M470.0 36.3 470.9 37.1 471.6 37.3 472.1 37.3 472.8 37.2 473.3 36.9 473.6 36.5 473.8 36.0 473.6 35.4 473.1 35.0 472.1 34.6 471.2 34.6 470.7 34.7 470.0 35.1 469.8 35.7 470.0 36.3"/>
<path stroke="#2376be" d="M461.0 42.3 460.8 40.8 461.3 39.3 462.2 37.9 464.1 36.0 464.4 35.4 464.1 34.8 462.6 33.0 462.0 32.1 461.7 31.2 461.5 30.3 461.7 29.1 462.1 28.2 462.8 27.3 463.8 26.5 465.2 25.8 466.4 25.6 467.7 25.8 470.4 26.8 471.6 26.9 472.4 26.7 475.1 25.7 476.6 25.6 477.9 25.9 479.1 26.5 480.2 27.3 481.0 28.2 481.4 28.8 481.7 29.7 481.7 30.3 481.5 31.2 480.9 32.6 479.2 34.8 479.1 35.4 479.6 36.0 482.1 38.1 482.7 39.0 483.2 40.2 483.4 41.4 483.2 42.3 482.6 43.3 481.8 44.2 480.9 44.7 479.9 45.0 479.1 45.2 477.9 45.1 476.0 44.7 473.1 43.4 471.9 43.2 470.9 43.5 467.7 44.9 466.4 45.1 465.2 45.2 463.8 44.9 462.6 44.3 461.7 43.4 461.0 42.3M463.7 19.8 463.6 18.6 463.7 18.0 464.1 17.4 464.7 16.9 465.2 16.6 466.4 16.4 467.7 16.5 469.8 17.0 470.7 17.0 473.9 16.4 474.9 16.3 475.8 16.5 476.6 16.9 477.3 17.4 477.6 18.0 477.8 18.9 477.6 20.1 476.9 21.0 476.1 21.6 475.1 21.8 473.9 21.8 471.6 21.0 470.7 20.9 469.8 21.0 467.4 21.8 466.2 21.8 465.2 21.5 464.7 21.1 464.1 20.5 463.7 19.8M467.9 36.0 468.8 36.9 470.4 38.0 471.2 38.5 472.1 38.6 473.1 38.4 474.5 37.5 475.7 36.3 475.9 35.7 475.5 35.1 474.0 34.2 472.4 33.6 471.2 33.4 470.1 33.7 468.6 34.5 468.0 35.1 467.8 35.4 467.9 36.0"/>
<path stroke="#2171b8" d="M461.3 41.7 461.3 40.8 461.5 39.9 462.4 38.4 464.1 37.0 464.9 36.6 465.9 36.4 466.4 36.5 467.4 36.8 471.2 39.5 472.1 39.8 473.1 39.4 475.8 37.4 476.9 36.7 477.9 36.5 479.1 36.7 480.6 37.4 481.8 38.4 482.6 39.6 482.8 40.2 482.9 41.1 482.8 42.0 482.6 42.6 481.8 43.7 481.1 44.1 480.2 44.6 478.8 44.8 477.6 44.8 476.3 44.4 475.0 43.8 472.8 42.4 472.1 42.3 471.2 42.5 469.2 43.8 467.7 44.5 466.2 44.8 464.7 44.8 463.4 44.4 462.6 43.8 461.8 42.9 461.3 41.7M462.2 31.2 462.0 30.3 462.0 29.7 462.2 28.8 462.6 28.2 463.2 27.6 464.1 26.9 464.9 26.4 465.9 26.2 467.4 26.4 470.4 27.5 471.2 27.6 472.4 27.4 475.4 26.3 476.6 26.2 477.6 26.4 479.1 27.0 480.2 27.9 480.8 28.8 481.1 30.0 481.1 30.6 480.9 31.5 479.9 32.9 478.4 34.1 477.2 34.5 476.1 34.3 472.4 32.8 471.2 32.6 470.1 32.9 467.1 34.3 466.2 34.5 465.6 34.5 464.7 34.1 463.4 33.1 462.6 32.1 462.2 31.2M464.3 19.5 464.3 18.6 464.7 17.8 465.6 17.2 466.4 17.0 467.7 17.1 469.8 17.9 470.7 18.1 471.2 17.9 473.6 17.1 475.1 17.0 476.1 17.2 476.6 17.7 477.0 18.3 477.1 18.9 476.9 19.7 476.5 20.4 475.8 20.9 474.9 21.1 473.6 20.9 471.6 20.0 470.7 19.8 469.8 20.0 467.4 20.9 466.2 21.0 465.6 20.8 464.9 20.4 464.3 19.5"/>
<path stroke="#1e6cb2" d="M461.9 42.3 461.7 41.7 461.7 40.8 461.9 39.9 462.2 39.3 463.4 38.0 464.4 37.5 465.2 37.2 465.9 37.2 466.8 37.3 468.2 38.0 470.1 39.6 470.6 40.2 470.9 40.8 470.7 41.7 469.7 42.9 468.2 43.9 466.4 44.4 464.9 44.5 463.7 44.1 462.6 43.3 461.9 42.3M462.5 30.6 462.5 29.7 462.6 29.1 463.4 27.9 464.7 27.1 466.2 26.7 467.7 27.0 470.4 28.2 471.2 28.4 472.1 28.2 474.2 27.2 475.4 26.8 476.6 26.7 477.6 26.8 478.8 27.3 479.6 28.0 480.4 29.1 480.6 30.0 480.4 31.2 479.6 32.4 478.4 33.3 477.6 33.7 476.9 33.7 475.4 33.5 472.4 32.1 471.2 31.8 470.4 32.0 467.4 33.5 466.4 33.7 465.6 33.7 464.4 33.2 463.4 32.4 462.8 31.5 462.5 30.6M465.2 19.2 465.2 18.6 465.4 18.3 465.9 17.9 466.4 17.8 467.7 18.0 468.1 18.3 468.4 18.9 468.3 19.2 467.9 19.6 467.4 19.9 466.8 20.1 465.9 19.9 465.6 19.7 465.2 19.2M472.9 19.2 472.9 18.6 473.1 18.3 473.6 17.9 474.6 17.7 475.1 17.7 475.8 18.0 476.1 18.3 476.2 18.9 476.1 19.5 475.8 19.8 474.9 20.2 474.2 20.1 473.6 19.9 472.9 19.2M473.3 41.1 473.4 40.5 473.8 39.9 475.1 38.6 476.6 37.6 477.6 37.3 478.1 37.2 479.6 37.5 481.1 38.4 482.1 39.6 482.4 40.2 482.5 41.1 482.3 42.3 482.0 42.9 481.4 43.5 480.9 43.9 479.9 44.3 478.4 44.5 476.9 44.3 475.3 43.5 473.9 42.3 473.5 41.7 473.3 41.1"/>
<path stroke="#1b65ab" d="M462.2 41.4 462.4 40.2 463.2 39.0 464.4 38.2 465.6 37.9 466.8 38.1 468.2 38.9 469.3 39.9 469.6 40.5 469.7 41.1 469.5 42.0 468.6 43.0 467.4 43.7 465.9 44.1 464.7 43.9 463.4 43.4 462.7 42.6 462.2 41.4M463.1 30.3 463.1 29.7 463.3 29.1 464.0 28.2 464.9 27.6 466.2 27.4 467.4 27.6 468.7 28.2 469.8 29.1 470.3 29.7 470.4 30.0 470.3 30.3 470.0 30.9 468.9 31.9 467.4 32.7 466.2 32.9 464.9 32.7 464.1 32.1 463.4 31.2 463.1 30.3M472.4 30.3 472.3 30.0 472.6 29.4 473.5 28.5 474.9 27.7 476.4 27.3 477.6 27.5 478.8 28.1 479.7 29.1 479.9 30.0 479.7 31.2 479.1 32.0 478.1 32.7 476.9 33.0 475.8 32.8 474.2 32.1 473.0 31.2 472.4 30.3M474.5 41.4 474.5 40.8 474.7 40.2 475.4 39.3 476.6 38.4 478.1 37.9 479.6 38.2 480.9 38.9 481.7 39.9 482.0 41.1 481.7 42.3 481.0 43.2 479.9 43.8 478.8 44.1 477.2 43.9 476.1 43.3 474.9 42.3 474.5 41.4"/>
<path stroke="#175ca0" d="M463.1 41.7 463.1 40.8 463.5 39.9 464.4 39.2 465.2 38.9 466.2 38.9 467.3 39.3 468.0 39.9 468.4 40.8 468.3 41.7 468.0 42.3 467.3 42.9 466.2 43.3 465.2 43.3 464.4 43.1 463.7 42.6 463.1 41.7M464.3 30.6 464.3 29.7 464.6 29.1 465.2 28.6 465.9 28.4 466.8 28.5 467.5 28.8 468.1 29.4 468.3 30.0 468.2 30.6 467.7 31.2 467.1 31.6 466.4 31.8 465.9 31.8 465.1 31.5 464.7 31.1 464.3 30.6M474.5 30.6 474.4 29.7 474.8 29.1 475.4 28.6 476.4 28.3 477.2 28.4 478.1 28.8 478.6 29.4 478.8 30.0 478.7 30.6 478.3 31.2 477.9 31.6 476.9 31.9 476.1 31.8 475.4 31.5 474.9 31.2 474.5 30.6M475.7 41.1 476.0 40.2 476.5 39.6 477.5 39.0 478.4 38.8 479.4 39.0 480.2 39.5 480.9 40.2 481.1 41.1 480.9 42.0 480.2 42.8 479.4 43.2 478.4 43.3 477.6 43.2 476.5 42.6 476.0 42.0 475.7 41.1"/>
</g>
<g fill="none" stroke-width="0.8" stroke-linejoin="round" clip-path="url(#c40)">
<path stroke="#5a9ede" d="M312.1 250.2 313.3 250.4 314.8 250.4 318.4 249.6 319.6 249.5 320.5 249.6 323.8 250.4 325.0 250.5 326.2 250.3 328.3 249.6 331.1 247.8 332.2 247.3 333.1 247.1 336.1 247.0 337.6 246.8 339.4 246.1 340.8 245.1 342.1 243.6 342.8 242.1 343.2 240.6 343.4 238.8 343.0 234.0 343.4 229.8 343.3 227.7 343.1 226.5 342.6 225.3 342.0 224.1 341.2 223.1 339.7 221.9 338.2 221.1 336.4 220.8 333.1 220.8 331.9 220.6 331.0 220.2 327.7 218.2 325.6 217.6 323.8 217.6 320.8 218.2 319.6 218.3 318.4 218.1 315.4 217.2 313.3 217.0 312.1 217.3 311.2 217.6 310.3 218.1 309.4 218.9 308.3 220.2 307.5 221.7 306.9 223.5 306.5 225.3 306.2 228.9 306.1 235.5 305.8 240.3 305.9 242.1 306.2 243.9 306.6 245.1 307.1 246.3 307.9 247.4 308.8 248.4 309.7 249.1 310.9 249.8 312.1 250.2"/>
<path stroke="#4b94d6" d="M312.4 248.1 313.6 248.3 315.1 248.2 316.6 247.7 318.7 246.8 319.6 246.5 320.5 246.6 323.8 247.7 325.0 247.8 325.9 247.8 327.1 247.4 328.0 246.9 330.7 244.6 331.6 244.1 332.5 244.0 335.2 244.5 336.4 244.5 337.9 244.1 339.3 243.3 340.1 242.4 340.7 241.2 341.1 240.0 341.2 238.8 340.6 234.0 341.1 230.1 341.2 228.3 340.7 226.5 339.7 225.0 339.1 224.4 338.2 223.8 337.3 223.5 336.4 223.3 334.9 223.4 331.9 224.1 331.0 224.1 330.1 223.7 327.4 221.6 326.5 221.1 325.3 220.8 323.5 221.0 320.5 222.1 319.6 222.3 318.4 222.1 316.0 221.0 314.5 220.5 313.0 220.6 312.1 220.9 311.4 221.4 310.6 222.2 310.0 223.2 309.4 224.6 309.0 226.2 308.7 228.9 308.5 235.2 307.8 239.7 307.7 241.8 308.1 243.9 308.6 245.1 309.1 245.9 309.7 246.6 310.6 247.3 311.5 247.8 312.4 248.1"/>
<path stroke="#408ccf" d="M312.7 247.3 313.9 247.4 315.4 247.1 316.9 246.5 319.0 245.1 319.9 244.9 320.8 245.1 323.5 246.4 324.7 246.6 325.9 246.5 327.1 246.1 328.1 245.4 329.0 244.5 330.7 242.5 331.3 242.1 332.2 242.0 334.6 242.9 335.8 243.1 337.3 242.9 338.5 242.2 339.1 241.5 339.6 240.6 339.9 239.7 340.0 238.8 339.9 237.6 339.2 234.9 339.1 234.0 339.2 232.8 339.9 230.1 340.0 228.6 339.7 227.4 339.0 226.2 338.5 225.6 337.6 225.1 336.7 224.8 335.8 224.7 334.9 224.9 334.0 225.2 331.3 226.8 330.7 226.9 330.4 226.8 329.8 226.4 328.0 224.4 327.1 223.6 326.2 223.1 325.3 222.8 324.1 222.8 323.1 223.2 322.0 223.9 320.2 225.4 319.3 225.8 318.4 225.6 316.0 223.5 314.9 222.9 313.6 222.8 313.0 222.9 312.4 223.2 311.8 223.8 311.2 224.7 310.5 226.8 310.2 228.9 309.9 234.9 308.7 239.7 308.5 241.5 308.6 242.7 308.8 243.6 309.7 245.3 310.9 246.5 311.8 247.0 312.7 247.3"/>
<path stroke="#3987cc" d="M313.0 246.9 314.2 247.0 315.7 246.6 316.9 246.0 319.0 244.3 319.9 244.0 320.5 244.2 322.6 245.4 323.8 245.9 325.0 246.1 326.2 245.9 327.4 245.2 328.6 244.2 329.5 243.0 330.7 240.9 331.3 240.3 331.6 240.2 331.9 240.3 334.0 241.8 335.2 242.3 336.1 242.4 336.7 242.3 337.9 241.8 338.5 241.2 338.9 240.6 339.2 239.7 339.3 238.8 339.1 237.3 338.2 234.3 338.3 233.1 339.1 230.7 339.3 229.2 339.1 227.7 338.5 226.6 337.9 226.1 337.0 225.6 336.4 225.5 335.5 225.5 334.6 225.8 333.8 226.2 333.1 226.8 332.4 227.7 332.0 228.6 331.9 229.8 332.3 231.0 333.3 233.1 333.5 234.3 333.2 235.2 332.5 236.3 331.9 237.1 331.3 237.5 331.0 237.4 330.4 236.6 329.7 234.9 329.5 233.1 329.6 229.8 329.2 228.3 328.7 227.1 327.9 225.9 327.2 225.0 326.5 224.4 325.6 224.0 324.4 223.9 323.5 224.2 322.4 225.0 321.6 225.9 320.7 227.4 320.1 228.9 319.3 231.3 319.0 231.8 318.7 231.5 317.3 227.4 316.7 226.2 316.0 225.3 315.1 224.5 314.2 224.2 313.3 224.3 312.7 224.6 312.1 225.3 311.8 225.9 311.3 227.4 311.1 229.2 310.7 234.6 310.3 236.1 309.2 239.4 308.9 241.5 309.0 242.7 309.2 243.6 310.1 245.1 310.6 245.7 311.4 246.3 312.1 246.7 313.0 246.9"/>
<path stroke="#3584c9" d="M313.0 246.6 314.5 246.6 316.0 246.1 317.2 245.4 319.0 243.7 319.6 243.4 319.9 243.3 320.5 243.5 322.3 244.8 323.5 245.4 324.7 245.7 325.9 245.5 326.8 245.2 327.7 244.5 329.0 243.0 329.6 241.8 330.0 240.6 330.2 239.7 330.1 238.8 328.8 234.3 328.5 229.8 328.2 228.3 327.4 226.5 326.8 225.7 326.2 225.2 325.3 224.8 324.7 224.8 324.1 224.9 323.2 225.4 322.3 226.5 321.7 227.7 321.2 229.2 320.6 233.7 320.3 235.2 319.6 236.6 319.3 236.8 319.0 236.8 318.7 236.7 318.1 236.1 317.3 234.6 317.1 233.4 316.6 229.2 316.3 228.0 315.7 226.7 315.0 225.9 314.2 225.5 313.3 225.7 312.5 226.5 312.1 227.5 311.8 228.9 311.5 233.1 311.3 234.6 309.5 239.4 309.2 240.6 309.2 241.8 309.5 243.6 310.3 245.0 311.5 246.0 313.0 246.6M335.8 241.8 337.0 241.7 337.9 241.1 338.6 240.0 338.8 238.8 338.6 237.3 337.5 234.9 337.2 234.0 337.4 233.1 338.6 230.4 338.8 229.2 338.7 228.3 338.4 227.4 337.9 226.8 337.0 226.2 336.1 226.0 334.9 226.3 333.7 227.1 333.2 228.0 332.9 229.2 333.2 230.7 334.5 233.1 334.7 234.0 334.5 234.9 333.0 237.6 332.7 238.5 332.8 239.4 333.3 240.3 334.0 241.1 334.9 241.6 335.8 241.8"/>
<path stroke="#3080c7" d="M313.0 246.3 314.5 246.4 315.4 246.1 316.2 245.7 317.4 244.8 319.0 242.9 319.6 242.4 320.2 242.5 322.0 244.1 322.9 244.7 323.8 245.1 324.7 245.3 325.9 245.2 326.8 244.8 327.7 244.1 328.5 243.0 329.0 242.1 329.4 240.9 329.5 239.7 329.5 238.8 328.2 234.3 327.7 230.1 327.5 228.6 326.8 227.1 325.9 226.1 325.0 225.8 324.3 225.9 323.5 226.4 322.8 227.4 322.4 228.3 322.1 229.5 321.5 233.7 321.1 235.5 320.2 237.8 319.6 238.5 319.3 238.6 318.7 238.3 318.1 237.6 317.0 236.1 316.4 234.9 315.9 233.4 315.4 229.7 314.8 228.1 314.5 227.7 313.9 227.5 313.3 227.9 313.0 228.4 312.7 229.5 312.3 233.1 312.1 234.3 311.6 235.5 309.9 239.1 309.5 240.3 309.4 241.5 309.6 243.0 310.3 244.6 310.9 245.3 311.5 245.7 313.0 246.3M336.1 241.2 337.0 241.0 337.6 240.5 338.1 239.7 338.2 238.8 338.1 237.9 337.6 236.7 336.7 235.7 336.1 235.5 335.2 235.8 334.4 236.7 333.8 237.9 333.6 238.8 333.8 239.7 334.3 240.4 335.2 241.0 336.1 241.2M335.5 232.3 336.1 232.4 337.0 232.0 337.7 231.0 338.2 229.8 338.2 228.6 337.9 227.7 337.3 227.0 336.4 226.7 335.5 226.7 334.6 227.2 334.0 228.0 333.7 228.9 333.8 229.8 334.1 230.7 334.7 231.6 335.5 232.3"/>
<path stroke="#2b7dc4" d="M312.7 246.0 313.6 246.2 314.8 246.0 315.7 245.7 316.6 245.1 317.5 244.2 318.2 243.3 318.8 242.1 319.0 241.2 319.0 240.6 318.8 240.0 317.9 238.5 314.8 234.4 314.2 233.8 313.9 233.7 313.6 233.9 313.0 234.6 310.9 237.7 310.1 239.4 309.7 241.2 309.8 242.7 310.4 244.2 311.5 245.4 312.7 246.0M324.1 244.8 325.0 244.9 325.9 244.8 326.8 244.4 327.4 243.9 327.9 243.3 328.5 242.4 328.8 241.5 329.1 240.3 329.0 239.4 328.8 238.2 327.4 233.7 326.7 229.2 326.3 228.3 326.0 227.7 325.6 227.4 325.0 227.1 324.4 227.3 324.1 227.5 323.6 228.0 323.2 228.9 322.9 230.1 322.2 234.3 320.6 238.8 320.2 240.3 320.2 240.9 320.5 241.5 321.5 243.0 322.7 244.2 324.1 244.8M335.8 240.4 336.4 240.4 337.0 240.1 337.4 239.4 337.5 238.8 337.4 237.9 337.0 237.3 336.6 237.0 336.1 236.9 335.5 237.0 335.1 237.3 334.7 237.9 334.6 238.5 334.6 239.1 334.8 239.7 335.2 240.1 335.8 240.4M335.8 231.0 336.4 231.0 336.9 230.7 337.3 230.2 337.5 229.5 337.6 228.9 337.3 228.1 336.9 227.7 336.4 227.5 335.8 227.5 335.2 227.8 334.7 228.3 334.6 228.9 334.6 229.6 334.9 230.3 335.2 230.7 335.8 231.0"/>
<path stroke="#2478c0" d="M313.3 245.8 314.8 245.6 315.7 245.3 316.4 244.8 317.0 244.2 317.6 243.3 318.0 242.4 318.1 241.5 317.9 240.0 316.8 238.2 316.0 237.2 315.1 236.5 314.5 236.2 313.9 236.1 313.3 236.2 312.7 236.5 311.5 237.7 310.5 239.4 310.0 241.2 310.1 242.7 310.8 244.2 311.8 245.2 312.4 245.5 313.3 245.8M324.1 244.3 325.0 244.4 325.6 244.3 326.2 244.1 326.9 243.6 327.9 242.4 328.2 241.5 328.4 240.6 328.3 239.1 327.9 237.6 325.6 233.0 325.0 232.3 324.7 232.3 324.4 232.6 322.3 236.7 321.6 238.5 321.2 240.0 321.4 241.5 322.0 242.7 322.9 243.6 324.1 244.3"/>
<path stroke="#1e6bb1" d="M313.0 244.8 314.2 244.9 315.4 244.4 316.0 243.9 316.5 243.3 316.9 242.1 316.9 240.9 316.3 239.6 315.4 238.6 314.2 238.0 313.6 238.0 313.0 238.2 312.1 238.8 311.4 239.7 310.9 241.1 310.9 242.1 311.2 243.3 311.9 244.2 313.0 244.8M324.1 242.7 325.0 242.9 325.8 242.7 326.5 242.1 326.9 241.2 327.0 240.3 326.8 239.1 326.2 238.1 325.3 237.5 324.4 237.5 323.8 238.0 323.2 238.8 322.9 239.7 322.8 240.6 323.0 241.5 323.5 242.2 324.1 242.7"/>
</g>
<g fill="none" stroke-width="0.8" stroke-linejoin="round" clip-path="url(#c04)">
<path stroke="#5a9ede" d="M502.8 42.9 502.6 41.7 502.6 40.2 503.4 36.6 503.5 35.4 503.4 34.5 502.6 31.2 502.5 30.0 502.7 28.8 503.4 26.7 505.2 23.9 505.7 22.8 505.9 21.9 506.0 18.9 506.2 17.4 506.9 15.6 507.9 14.2 509.4 12.9 510.9 12.2 512.4 11.8 514.2 11.6 519.0 12.0 523.2 11.6 525.3 11.7 526.5 11.9 527.7 12.4 528.9 13.0 529.9 13.8 531.1 15.3 531.9 16.8 532.2 18.6 532.2 21.9 532.4 23.1 532.8 24.0 534.8 27.3 535.4 29.4 535.4 31.2 534.8 34.2 534.7 35.4 534.9 36.6 535.8 39.6 536.0 41.7 535.7 42.9 535.4 43.8 534.9 44.7 534.1 45.6 532.8 46.7 531.3 47.5 529.5 48.1 527.7 48.5 524.1 48.8 517.5 48.9 512.7 49.2 510.9 49.1 509.1 48.8 507.9 48.4 506.7 47.9 505.6 47.1 504.6 46.2 503.9 45.3 503.2 44.1 502.8 42.9"/>
<path stroke="#4b94d6" d="M504.9 42.6 504.7 41.4 504.8 39.9 505.3 38.4 506.2 36.3 506.5 35.4 506.4 34.5 505.3 31.2 505.2 30.0 505.2 29.1 505.6 27.9 506.1 27.0 508.4 24.3 508.9 23.4 509.0 22.5 508.5 19.8 508.5 18.6 508.9 17.1 509.7 15.7 510.6 14.9 511.8 14.3 513.0 13.9 514.2 13.8 519.0 14.4 522.9 13.9 524.7 13.8 526.5 14.3 528.0 15.3 528.6 15.9 529.2 16.8 529.5 17.7 529.7 18.6 529.6 20.1 528.9 23.1 528.9 24.0 529.3 24.9 531.4 27.6 531.9 28.5 532.2 29.7 532.0 31.5 530.9 34.5 530.7 35.4 530.9 36.6 532.0 39.0 532.5 40.5 532.4 42.0 532.1 42.9 531.6 43.6 530.8 44.4 529.8 45.0 528.4 45.6 526.8 46.0 524.1 46.3 517.8 46.5 513.3 47.2 511.2 47.3 509.1 46.9 507.9 46.4 507.1 45.9 506.4 45.3 505.7 44.4 505.2 43.5 504.9 42.6"/>
<path stroke="#408ccf" d="M505.7 42.3 505.6 41.1 505.9 39.6 506.5 38.1 507.9 36.0 508.1 35.1 507.9 34.2 506.6 31.5 506.4 30.3 506.5 29.1 506.9 27.9 507.6 26.9 508.5 26.0 510.5 24.3 510.9 23.7 511.0 22.8 510.1 20.4 509.9 19.2 510.1 17.7 510.8 16.5 511.5 15.9 512.4 15.4 513.3 15.1 514.2 15.0 515.4 15.1 518.1 15.8 519.0 15.9 520.2 15.8 522.9 15.1 524.4 15.0 525.6 15.3 526.8 16.0 527.4 16.5 527.9 17.4 528.2 18.3 528.3 19.2 528.1 20.1 527.8 21.0 526.2 23.7 526.1 24.3 526.2 24.6 526.6 25.2 528.6 27.0 529.4 27.9 529.9 28.8 530.2 29.7 530.2 30.9 529.8 31.9 529.1 33.0 527.6 34.8 527.2 35.7 527.4 36.6 529.5 39.0 530.1 40.1 530.2 41.4 530.1 42.0 529.8 42.6 529.2 43.2 528.3 43.8 526.2 44.5 524.1 44.8 518.1 45.1 513.3 46.3 511.5 46.5 510.3 46.4 509.4 46.2 507.7 45.3 506.5 44.1 506.0 43.2 505.7 42.3"/>
<path stroke="#3987cc" d="M506.1 42.0 506.0 40.8 506.4 39.3 507.0 38.1 508.7 36.0 509.0 35.1 508.8 34.5 507.6 32.4 507.1 31.2 506.9 30.0 507.1 28.8 507.8 27.6 508.8 26.4 510.0 25.5 512.1 24.3 512.7 23.7 512.8 23.4 512.7 23.1 511.2 21.0 510.7 19.8 510.6 18.9 510.7 18.3 511.2 17.1 511.8 16.5 512.4 16.1 513.3 15.8 514.2 15.7 515.7 15.9 518.7 16.8 519.9 16.7 522.3 15.9 523.8 15.7 525.3 15.9 526.4 16.5 526.9 17.1 527.4 18.0 527.5 18.6 527.5 19.5 527.2 20.4 526.8 21.2 526.2 21.9 525.3 22.6 524.4 23.0 523.2 23.1 522.0 22.7 519.9 21.7 518.7 21.5 517.8 21.8 516.7 22.5 515.9 23.1 515.5 23.7 515.6 24.0 516.4 24.6 518.1 25.3 519.9 25.5 523.2 25.4 524.7 25.8 525.9 26.3 527.1 27.1 528.0 27.8 528.6 28.5 529.0 29.4 529.1 30.6 528.8 31.5 528.0 32.6 527.1 33.4 525.6 34.3 524.1 34.9 521.7 35.7 521.2 36.0 521.5 36.3 525.6 37.7 526.8 38.3 527.7 39.0 528.5 39.9 528.8 40.8 528.7 41.7 528.4 42.3 527.7 42.9 527.1 43.2 525.6 43.7 523.8 43.9 518.4 44.3 516.9 44.7 513.6 45.8 511.5 46.1 510.3 46.0 509.4 45.8 507.9 44.9 507.3 44.4 506.7 43.6 506.3 42.9 506.1 42.0"/>
<path stroke="#3584c9" d="M506.4 42.0 506.4 40.5 506.9 39.0 507.6 37.8 509.3 36.0 509.6 35.4 509.7 35.1 509.5 34.5 508.2 32.7 507.6 31.5 507.3 30.3 507.5 29.1 507.8 28.2 508.5 27.3 510.0 26.0 511.2 25.4 512.4 25.0 513.3 24.8 514.2 24.9 518.7 26.2 523.2 26.5 524.7 26.8 526.5 27.6 527.3 28.2 527.8 28.8 528.2 29.7 528.2 30.3 528.1 30.9 527.6 31.8 526.5 32.7 525.3 33.3 523.8 33.8 519.3 34.4 517.8 34.7 516.4 35.4 516.2 35.7 516.2 36.0 516.3 36.3 516.9 36.9 518.4 37.7 519.6 37.9 523.8 38.4 525.0 38.7 526.3 39.3 527.1 40.0 527.5 40.8 527.3 41.7 526.5 42.5 525.5 42.9 524.1 43.2 519.9 43.5 518.4 43.7 513.6 45.5 512.4 45.8 511.2 45.8 509.4 45.5 508.0 44.7 507.0 43.5 506.4 42.0M511.2 19.2 511.3 18.0 511.9 17.1 513.0 16.4 514.2 16.2 515.7 16.4 518.1 17.5 519.0 17.8 519.9 17.6 522.6 16.4 523.8 16.2 524.7 16.3 525.6 16.6 526.2 17.1 526.8 18.0 527.0 18.9 526.7 20.1 525.9 21.3 525.0 21.8 523.8 22.1 522.3 21.8 519.9 20.5 519.0 20.3 518.1 20.5 515.4 22.0 514.5 22.3 513.6 22.2 512.7 21.7 511.9 21.0 511.4 20.1 511.2 19.2"/>
<path stroke="#3080c7" d="M506.7 42.0 506.6 40.5 506.9 39.6 507.3 38.8 508.2 37.6 510.1 36.0 510.6 35.4 510.5 34.8 508.9 33.0 508.3 32.1 507.9 31.2 507.7 30.3 507.8 29.1 508.2 28.2 508.9 27.3 510.0 26.5 510.9 26.0 512.1 25.6 513.3 25.5 514.2 25.5 518.7 26.8 522.9 27.3 524.4 27.5 525.9 28.2 526.9 29.1 527.2 30.0 527.1 30.7 526.6 31.5 525.6 32.2 524.7 32.6 523.5 32.9 519.3 33.5 517.5 33.9 515.2 34.8 514.5 35.4 514.4 35.7 514.7 36.3 515.4 36.9 516.9 38.0 518.1 38.6 519.6 39.1 523.3 39.6 524.9 40.2 525.3 40.5 525.5 41.1 525.1 41.7 524.6 42.0 523.5 42.3 519.9 42.7 518.7 42.9 517.5 43.4 513.9 45.1 512.7 45.5 511.5 45.6 510.0 45.4 508.4 44.7 507.7 44.1 507.3 43.5 506.7 42.0M511.8 18.9 512.0 18.0 512.5 17.4 513.3 16.9 514.2 16.8 515.1 16.9 516.3 17.4 517.3 18.3 517.5 18.9 517.2 19.8 516.3 20.6 515.1 21.2 514.2 21.4 513.3 21.2 512.6 20.7 512.0 19.8 511.8 18.9M520.7 19.5 520.6 18.9 521.0 18.0 522.0 17.3 523.2 16.8 524.4 16.8 525.3 17.1 526.0 17.7 526.3 18.6 526.3 19.5 525.8 20.4 525.0 21.0 524.1 21.3 523.2 21.2 522.3 20.9 521.4 20.3 520.7 19.5"/>
<path stroke="#2b7dc4" d="M507.0 42.3 506.8 41.4 507.0 40.2 507.3 39.3 507.9 38.4 508.8 37.5 509.7 36.8 510.9 36.2 511.8 36.0 512.4 36.0 513.0 36.2 514.5 37.1 518.6 40.2 519.2 40.8 519.3 41.1 519.1 41.4 518.4 42.0 515.3 44.1 513.6 44.9 511.8 45.3 510.3 45.2 508.8 44.6 507.6 43.5 507.0 42.3M508.2 30.9 508.1 30.0 508.2 29.1 508.6 28.2 509.1 27.6 509.7 27.1 510.6 26.5 511.5 26.2 512.7 25.9 513.6 26.0 514.8 26.2 519.3 27.6 523.8 28.3 524.7 28.7 525.3 29.0 525.6 29.4 525.9 30.0 525.7 30.6 525.5 30.9 525.0 31.4 524.1 31.8 522.9 32.1 518.7 32.8 514.2 34.4 512.7 34.8 512.1 34.8 511.5 34.5 510.0 33.5 508.8 32.3 508.2 30.9M512.6 19.2 512.6 18.6 512.9 18.0 513.6 17.6 514.2 17.5 515.1 17.6 515.7 18.0 516.0 18.4 516.1 18.9 516.0 19.5 515.7 19.9 515.1 20.3 514.5 20.4 513.9 20.4 513.3 20.2 512.9 19.8 512.6 19.2M522.0 19.2 522.0 18.6 522.3 18.1 522.8 17.7 523.5 17.5 524.1 17.4 524.9 17.7 525.3 18.1 525.5 18.6 525.5 19.2 525.2 19.8 524.7 20.3 524.1 20.4 523.4 20.4 522.7 20.1 522.3 19.8 522.0 19.2"/>
<path stroke="#2478c0" d="M507.2 41.7 507.4 40.2 507.7 39.3 508.2 38.6 508.8 38.0 509.7 37.4 510.6 37.0 511.5 36.9 513.0 37.1 514.8 38.2 515.8 39.0 516.5 39.9 516.8 40.5 516.9 41.1 516.8 41.7 516.5 42.3 515.3 43.5 513.6 44.5 511.8 45.0 510.3 44.9 508.8 44.2 507.8 43.2 507.5 42.6 507.2 41.7M508.7 30.9 508.6 30.0 508.7 29.4 508.9 28.8 509.4 28.1 510.6 27.1 511.5 26.8 512.4 26.6 513.9 26.7 515.4 27.1 520.0 29.4 520.7 30.0 520.7 30.3 520.4 30.6 516.3 32.7 514.5 33.4 513.0 33.8 511.5 33.6 510.3 33.0 509.4 32.1 508.7 30.9"/>
<path stroke="#1e6bb1" d="M508.2 42.0 508.1 40.8 508.6 39.6 509.1 39.0 509.7 38.5 510.9 38.1 512.1 38.1 513.4 38.7 514.4 39.6 515.0 40.8 515.0 41.4 514.8 42.0 514.2 42.9 513.3 43.6 511.9 44.1 510.9 44.1 509.7 43.8 508.8 43.1 508.2 42.0M510.3 30.9 510.1 30.0 510.3 29.2 510.9 28.5 511.8 28.1 512.7 28.0 513.9 28.2 514.9 28.8 515.5 29.7 515.5 30.6 515.0 31.2 514.2 31.8 513.3 32.1 512.4 32.2 511.5 32.0 510.8 31.5 510.3 30.9"/>
</g>
<g fill="none" stroke-width="0.8" stroke-linejoin="round" clip-path="url(#c21)">
<path stroke="#5a9ede" d="M373.0 148.8 374.8 148.8 376.6 148.4 378.1 147.8 381.1 146.3 384.7 144.9 385.6 144.5 386.5 143.8 387.1 143.1 387.4 142.5 387.6 141.3 387.2 140.1 386.3 138.9 384.2 136.8 383.5 135.6 383.3 134.1 383.4 129.3 383.8 128.4 384.7 127.5 389.5 124.6 391.5 123.0 392.2 122.1 392.8 120.9 393.1 120.0 393.3 118.8 392.9 117.0 392.5 116.1 391.9 115.2 391.1 114.3 390.1 113.5 388.0 112.3 386.2 111.7 383.8 111.2 381.1 110.9 378.4 110.8 373.6 110.9 366.4 111.8 361.3 112.0 358.9 112.6 357.1 113.5 355.6 114.9 355.0 115.8 354.5 116.7 354.3 117.6 354.2 118.8 354.3 120.0 354.5 120.9 355.0 121.8 355.6 122.7 357.1 124.1 358.6 124.9 360.4 125.5 361.9 125.7 365.8 125.8 368.1 126.3 369.7 126.9 370.8 127.5 371.8 128.4 371.9 129.0 372.0 131.7 372.7 134.7 372.6 135.9 371.8 137.1 369.8 139.1 368.4 140.7 367.5 142.2 367.2 142.8 367.1 143.4 367.2 144.0 367.7 145.2 368.3 146.1 369.1 147.0 370.0 147.7 370.9 148.2 372.1 148.6 373.0 148.8M360.8 147.3 361.6 147.3 362.5 147.2 364.0 146.4 364.7 145.8 365.5 144.9 366.0 144.0 366.2 143.4 366.1 142.8 365.7 141.9 364.5 140.4 363.4 139.6 361.9 139.1 360.4 139.1 358.9 139.8 358.3 140.3 357.8 141.0 357.2 142.5 357.2 143.4 357.3 144.3 357.7 145.2 358.0 145.8 359.2 146.8 360.8 147.3"/>
<path stroke="#549adb" d="M372.4 147.1 373.6 147.3 374.8 147.2 376.0 146.9 377.2 146.4 378.8 145.2 380.4 143.7 381.0 142.8 381.2 142.2 381.1 141.9 380.6 141.3 379.5 140.7 377.8 140.0 376.3 139.6 375.1 139.4 373.9 139.4 372.8 139.7 371.8 140.1 370.7 141.0 370.0 141.9 369.6 142.8 369.6 144.0 369.8 144.9 370.4 145.8 371.2 146.5 372.4 147.1M360.4 145.3 361.3 145.5 362.2 145.3 362.9 144.9 363.5 144.0 363.6 143.1 363.4 142.3 363.0 141.6 362.2 141.1 361.3 140.9 360.4 141.1 359.7 141.6 359.2 142.2 359.0 143.1 359.2 144.0 359.8 144.9 360.4 145.3M376.0 133.3 377.2 133.4 378.4 133.1 379.5 132.3 379.9 131.4 380.0 130.5 379.6 129.3 378.8 128.4 377.8 127.9 376.9 127.7 375.8 128.0 374.8 128.7 374.4 129.3 374.1 129.9 374.0 131.1 374.3 132.0 375.1 132.9 376.0 133.3M375.8 126.3 378.1 126.4 380.8 126.1 382.9 125.8 385.9 124.9 387.1 124.3 388.6 123.5 389.6 122.7 390.4 121.8 391.0 120.9 391.3 120.0 391.5 119.1 391.4 117.9 391.1 117.0 390.6 116.1 389.8 115.2 388.6 114.2 387.4 113.5 385.6 112.9 383.8 112.4 381.8 112.2 376.3 112.0 371.8 112.3 366.4 113.2 362.5 113.3 360.8 113.5 359.2 114.0 358.0 114.7 357.1 115.5 356.3 116.7 356.0 117.6 355.8 118.5 355.9 119.7 356.2 120.6 357.1 122.1 358.0 122.9 358.9 123.5 361.0 124.2 362.5 124.3 366.8 124.5 372.4 125.8 375.8 126.3"/>
<path stroke="#4c94d6" d="M373.3 145.5 374.2 145.6 374.9 145.5 375.8 145.1 376.4 144.6 376.8 144.0 377.0 143.4 376.9 142.8 376.5 142.2 375.4 141.6 374.2 141.4 373.0 141.6 372.1 142.2 371.6 143.1 371.6 143.7 371.7 144.3 372.4 145.2 373.3 145.5M376.0 132.0 376.6 132.2 377.2 132.2 377.8 132.0 378.3 131.7 378.6 131.1 378.7 130.5 378.5 129.9 378.1 129.6 377.5 129.2 376.9 129.1 376.3 129.2 375.7 129.6 375.3 130.2 375.2 130.8 375.4 131.5 376.0 132.0M373.6 124.8 377.2 125.0 381.1 124.8 384.1 124.3 386.5 123.4 388.5 122.1 389.0 121.5 389.6 120.6 390.0 119.7 390.1 118.8 390.0 117.9 389.6 117.0 389.0 116.1 388.0 115.2 386.8 114.4 385.3 113.8 383.5 113.3 381.8 113.1 376.9 112.9 372.1 113.2 366.4 114.3 362.5 114.4 361.0 114.7 359.8 115.1 358.9 115.6 358.1 116.4 357.5 117.3 357.2 118.8 357.5 120.3 358.4 121.5 359.1 122.1 359.8 122.5 360.8 122.9 361.9 123.1 366.8 123.3 371.2 124.4 373.6 124.8"/>
<path stroke="#418cd0" d="M374.2 123.9 377.5 124.1 380.8 123.9 383.2 123.5 385.3 122.8 387.1 121.8 388.2 120.6 388.5 120.0 388.7 119.1 388.7 118.5 388.5 117.6 388.0 116.7 387.1 115.9 385.9 115.1 384.7 114.6 383.2 114.2 381.4 113.9 376.9 113.7 374.2 113.8 372.1 114.1 366.1 115.5 362.8 115.6 361.6 115.8 360.7 116.1 359.8 116.6 359.2 117.2 358.9 117.9 358.7 119.1 359.0 120.0 359.7 120.9 360.8 121.5 362.5 121.9 366.4 122.1 371.2 123.4 374.2 123.9"/>
<path stroke="#3483c9" d="M373.3 123.0 376.3 123.2 379.6 123.2 382.0 122.9 384.1 122.4 385.8 121.5 386.6 120.9 387.0 120.3 387.5 119.1 387.3 117.9 386.8 117.1 386.2 116.4 385.0 115.7 383.8 115.2 380.8 114.6 376.9 114.4 374.2 114.6 371.8 114.9 370.0 115.4 367.0 116.6 365.8 116.9 362.2 117.1 361.2 117.6 360.7 118.2 360.5 118.8 360.7 119.4 361.0 119.9 361.7 120.3 362.8 120.6 365.2 120.6 366.1 120.7 370.6 122.4 373.3 123.0"/>
<path stroke="#2a7cc3" d="M377.2 122.7 379.6 122.6 381.8 122.4 383.5 121.9 384.7 121.4 385.7 120.6 386.4 119.7 386.5 119.1 386.5 118.5 386.2 117.6 385.7 117.0 385.0 116.4 383.8 115.9 382.6 115.5 379.6 115.0 375.8 115.0 372.8 115.3 370.3 116.0 368.0 117.3 367.3 117.9 366.8 118.5 366.8 119.1 367.3 119.7 368.4 120.6 370.3 121.6 371.8 122.1 373.3 122.4 377.2 122.7"/>
<path stroke="#2070b7" d="M374.8 121.8 376.9 121.9 379.3 121.9 381.1 121.7 382.6 121.3 383.8 120.7 384.7 120.0 385.1 119.1 385.1 118.2 384.7 117.6 384.1 117.1 382.8 116.4 380.8 115.9 378.1 115.7 375.1 115.8 372.8 116.2 370.7 117.0 369.6 117.9 369.3 118.5 369.3 119.1 369.6 119.7 370.2 120.3 371.2 120.9 372.1 121.3 374.8 121.8"/>
<path stroke="#1b64a9" d="M376.9 121.2 380.2 121.0 382.3 120.4 383.0 120.0 383.6 119.4 383.7 118.8 383.5 118.2 382.6 117.4 381.4 116.9 379.6 116.5 377.5 116.4 375.1 116.6 373.3 116.9 371.8 117.6 371.2 118.2 371.0 118.8 371.2 119.4 371.8 120.0 372.2 120.3 374.2 120.9 376.9 121.2"/>
<path stroke="#15589c" d="M376.0 120.3 378.4 120.3 380.5 120.0 381.6 119.4 381.8 119.1 381.8 118.5 381.1 117.9 380.4 117.6 379.0 117.3 377.5 117.2 376.0 117.3 374.5 117.6 373.6 118.0 373.1 118.5 373.0 119.1 373.7 119.7 374.5 120.0 376.0 120.3"/>
</g>
<g fill="none" stroke-width="0.8" stroke-linejoin="round" clip-path="url(#c12)">
<path stroke="#5a9ede" d="M405.2 81.5 405.2 79.7 405.6 77.9 406.2 76.4 407.7 73.4 409.1 69.8 409.5 68.9 410.2 68.0 410.9 67.4 411.5 67.1 412.7 66.9 413.9 67.3 415.1 68.2 417.2 70.3 418.4 71.0 419.9 71.2 424.7 71.1 425.6 70.7 426.5 69.8 429.4 65.0 431.0 63.0 431.9 62.3 433.1 61.7 434.0 61.4 435.2 61.2 437.0 61.6 437.9 62.0 438.8 62.6 439.7 63.4 440.5 64.4 441.7 66.5 442.3 68.3 442.8 70.7 443.1 73.4 443.2 76.1 443.1 80.9 442.2 88.1 442.0 93.2 441.4 95.6 440.5 97.4 439.1 98.9 438.2 99.5 437.3 100.0 436.4 100.2 435.2 100.3 434.0 100.2 433.1 100.0 432.2 99.5 431.3 98.9 429.9 97.4 429.1 95.9 428.5 94.1 428.3 92.6 428.2 88.7 427.7 86.4 427.1 84.8 426.5 83.7 425.6 82.7 425.0 82.6 422.3 82.5 419.3 81.8 418.1 81.9 416.9 82.7 414.9 84.8 413.3 86.1 411.8 87.0 411.2 87.3 410.6 87.4 410.0 87.3 408.8 86.8 407.9 86.2 407.0 85.4 406.3 84.5 405.8 83.6 405.4 82.4 405.2 81.5M406.7 93.8 406.7 92.9 406.8 92.0 407.6 90.5 408.2 89.8 409.1 89.0 410.0 88.5 410.6 88.3 411.2 88.4 412.1 88.8 413.6 90.0 414.4 91.1 414.9 92.6 414.9 94.1 414.2 95.6 413.7 96.2 413.0 96.7 411.5 97.3 410.6 97.3 409.7 97.2 408.8 96.8 408.2 96.5 407.2 95.3 406.7 93.8"/>
<path stroke="#549adb" d="M406.9 82.1 406.7 80.9 406.8 79.7 407.1 78.5 407.6 77.3 408.8 75.7 410.3 74.1 411.2 73.5 411.8 73.3 412.1 73.4 412.7 73.9 413.3 75.0 414.0 76.7 414.4 78.2 414.6 79.4 414.6 80.6 414.3 81.8 413.9 82.7 413.0 83.8 412.1 84.5 411.2 84.9 410.0 84.9 409.1 84.7 408.2 84.1 407.5 83.3 406.9 82.1M408.7 94.1 408.5 93.2 408.7 92.3 409.1 91.6 410.0 91.0 410.9 90.9 411.7 91.1 412.4 91.5 412.9 92.3 413.1 93.2 412.9 94.1 412.4 94.8 411.8 95.3 410.9 95.5 410.0 95.3 409.1 94.7 408.7 94.1M420.7 78.5 420.6 77.3 420.9 76.1 421.7 75.0 422.6 74.6 423.5 74.5 424.7 74.9 425.6 75.8 426.1 76.7 426.3 77.6 426.0 78.8 425.3 79.7 424.7 80.1 424.1 80.4 422.9 80.5 422.0 80.2 421.1 79.4 420.7 78.5M427.7 78.8 427.6 76.4 427.9 73.7 428.2 71.6 429.1 68.6 429.7 67.4 430.5 65.9 431.3 64.9 432.2 64.1 433.1 63.5 434.0 63.2 434.9 63.0 436.1 63.1 437.0 63.4 437.9 63.9 438.8 64.7 439.8 65.9 440.5 67.1 441.1 68.9 441.6 70.7 441.8 72.8 442.0 78.2 441.7 82.7 440.8 88.1 440.7 92.0 440.5 93.8 440.0 95.3 439.3 96.5 438.5 97.4 437.3 98.2 436.4 98.5 435.5 98.7 434.3 98.6 433.4 98.3 431.9 97.4 431.1 96.5 430.5 95.6 429.8 93.5 429.7 92.0 429.5 87.8 428.2 82.1 427.7 78.8"/>
<path stroke="#4c94d6" d="M408.5 81.2 408.4 80.3 408.5 79.6 408.9 78.8 409.4 78.1 410.0 77.7 410.6 77.5 411.2 77.6 411.8 78.0 412.4 79.1 412.6 80.3 412.4 81.5 411.8 82.4 410.9 82.9 410.3 82.9 409.7 82.8 408.8 82.1 408.5 81.2M422.0 78.5 421.8 77.9 421.8 77.3 422.0 76.7 422.3 76.2 422.9 75.9 423.5 75.8 424.1 76.0 424.4 76.4 424.8 77.0 424.9 77.6 424.8 78.2 424.4 78.8 423.8 79.2 423.2 79.3 422.5 79.1 422.0 78.5M429.2 80.9 429.0 77.3 429.2 73.4 429.7 70.4 430.6 68.0 431.9 66.0 432.5 65.5 433.4 64.9 434.3 64.5 435.2 64.4 436.1 64.5 437.0 64.9 437.9 65.5 438.8 66.5 439.6 67.7 440.2 69.2 440.7 71.0 440.9 72.8 441.1 77.6 440.8 82.4 439.7 88.1 439.6 92.0 439.3 93.5 438.9 94.7 438.4 95.6 437.6 96.4 436.7 97.0 435.2 97.3 433.7 97.0 432.5 96.1 431.9 95.4 431.5 94.7 431.1 93.8 430.9 92.6 430.7 87.8 429.6 83.3 429.2 80.9"/>
<path stroke="#418cd0" d="M430.1 80.3 429.9 77.0 430.1 73.7 430.5 71.3 431.2 69.2 432.2 67.4 433.4 66.3 434.0 66.0 434.9 65.8 435.5 65.8 436.4 66.0 437.3 66.5 438.1 67.4 438.9 68.6 439.4 69.8 439.8 71.3 440.1 73.1 440.3 77.6 440.2 80.3 439.9 82.4 438.5 88.4 438.4 91.7 438.2 92.9 437.9 93.8 437.4 94.7 436.8 95.3 436.1 95.6 434.9 95.8 434.0 95.5 433.1 94.8 432.5 93.8 432.1 92.0 431.9 88.1 430.6 83.3 430.1 80.3"/>
<path stroke="#3483c9" d="M431.0 81.2 430.8 78.2 430.8 74.9 431.1 72.5 431.6 70.4 432.5 68.7 433.1 67.9 433.7 67.5 434.9 67.0 436.1 67.2 436.9 67.7 437.6 68.3 438.3 69.5 438.8 70.7 439.4 73.7 439.6 77.6 439.4 80.3 439.1 82.7 438.6 84.5 437.4 87.5 437.1 88.7 436.9 92.3 436.4 93.3 435.8 93.8 435.2 94.0 434.6 93.8 434.1 93.5 433.7 92.8 433.4 91.7 433.4 89.3 433.3 88.4 431.6 83.9 431.0 81.2"/>
<path stroke="#2a7cc3" d="M431.3 77.3 431.4 74.9 431.6 72.8 432.1 71.0 432.6 69.8 433.4 68.8 434.3 68.1 434.9 68.0 435.5 68.0 436.4 68.3 437.0 68.8 437.6 69.5 438.1 70.7 438.5 71.9 439.0 74.9 439.0 78.8 438.7 81.8 438.0 84.2 436.7 86.5 436.1 87.2 435.5 87.7 434.9 87.7 434.3 87.2 433.4 86.1 432.4 84.2 431.9 82.7 431.6 81.2 431.3 77.3"/>
<path stroke="#2070b7" d="M432.2 79.7 432.1 77.6 432.1 75.2 432.3 73.4 432.7 71.9 433.3 70.7 434.0 69.8 434.9 69.4 435.8 69.4 436.4 69.8 436.9 70.4 437.6 71.7 438.1 73.7 438.3 76.4 438.2 79.4 437.8 81.8 437.0 83.8 436.1 84.9 435.5 85.2 434.9 85.2 434.3 84.9 433.7 84.3 433.1 83.3 432.7 82.4 432.2 79.7"/>
<path stroke="#1b64a9" d="M432.8 77.6 433.0 74.3 433.6 72.2 434.0 71.5 434.6 70.9 435.2 70.8 435.8 71.0 436.6 71.9 437.1 73.1 437.5 74.9 437.6 77.0 437.4 79.4 437.1 81.2 436.4 82.7 435.8 83.3 435.2 83.5 434.6 83.3 434.0 82.7 433.7 82.3 433.1 80.3 432.8 77.6"/>
<path stroke="#15589c" d="M433.7 78.5 433.7 76.1 434.0 74.0 434.6 72.9 434.9 72.7 435.5 72.7 436.1 73.4 436.4 74.1 436.7 75.5 436.8 77.0 436.7 78.5 436.4 80.0 436.0 80.9 435.5 81.4 434.9 81.5 434.3 80.8 434.0 80.0 433.7 78.5"/>
</g>
<g fill="none" stroke-width="0.8" stroke-linejoin="round" clip-path="url(#c31)">
<path stroke="#5a9ede" d="M360.8 199.4 361.9 199.6 363.1 199.4 364.3 198.9 366.4 197.7 367.6 197.3 368.8 197.4 372.1 198.1 374.5 198.4 379.3 198.4 382.6 198.2 384.4 197.8 385.9 197.2 387.4 196.2 388.5 195.1 389.3 193.9 389.8 192.8 390.3 191.2 390.5 189.8 390.7 185.5 390.7 175.9 390.4 172.9 389.8 170.6 389.3 169.3 388.7 168.4 387.4 167.1 386.5 166.4 385.3 165.8 384.1 165.4 382.6 165.1 379.0 164.9 373.6 164.9 370.3 165.3 367.9 166.0 365.8 167.1 364.3 168.5 363.6 169.7 362.9 170.8 361.3 175.4 360.8 176.8 358.4 180.4 357.6 181.9 356.9 184.0 356.5 186.4 356.3 188.8 356.4 191.2 356.6 193.3 357.1 195.1 357.7 196.6 358.6 198.0 359.5 198.8 360.8 199.4"/>
<path stroke="#4e95d7" d="M361.3 197.0 362.5 197.0 363.8 196.5 364.6 195.7 366.8 193.5 367.6 193.1 368.5 193.3 370.6 194.4 372.4 195.0 374.5 195.3 377.5 195.4 380.5 195.3 382.6 194.9 384.4 194.2 385.8 193.0 386.5 192.1 386.9 191.2 387.5 188.8 387.7 186.8 388.0 178.1 387.8 175.0 387.3 172.7 386.5 170.8 385.3 169.5 383.8 168.5 381.8 168.0 379.6 167.8 374.2 167.8 371.5 168.1 369.1 168.8 367.6 169.5 366.3 170.6 365.7 171.4 365.1 172.7 363.9 176.8 363.4 177.9 362.7 178.9 360.8 180.8 359.6 182.2 358.8 183.8 358.2 185.8 358.0 187.6 357.9 189.8 358.0 191.5 358.4 193.3 358.9 194.8 359.5 195.8 360.4 196.6 361.3 197.0"/>
<path stroke="#4690d3" d="M361.6 195.8 362.3 195.7 363.1 195.4 363.9 194.8 364.6 193.9 365.7 191.8 366.6 188.8 366.9 185.5 366.9 184.0 366.6 182.8 366.4 182.2 365.9 181.6 365.2 181.2 364.6 181.0 363.8 181.0 362.8 181.2 361.9 181.6 361.0 182.2 360.4 182.9 359.8 183.8 359.3 184.9 359.0 186.1 358.8 187.6 358.7 189.4 358.8 191.2 359.1 192.8 359.5 193.9 360.1 194.9 360.8 195.4 361.6 195.8M376.0 193.7 379.9 193.6 381.4 193.4 382.6 193.0 383.6 192.4 384.6 191.5 385.3 190.3 385.7 189.1 386.0 187.3 386.2 184.0 386.9 179.5 386.9 177.2 386.6 174.8 386.0 172.7 385.1 171.2 383.8 170.0 382.3 169.4 380.8 169.2 377.8 169.2 374.8 169.0 373.3 169.2 371.8 169.5 369.4 170.5 368.1 171.4 367.1 172.7 366.6 174.2 366.4 175.6 366.3 177.2 366.9 181.9 368.2 187.3 369.1 189.8 370.0 191.3 370.6 191.9 371.5 192.6 373.3 193.3 376.0 193.7"/>
<path stroke="#3f8bcf" d="M361.0 194.6 361.6 194.8 362.2 194.8 362.8 194.6 363.4 194.1 364.0 193.4 364.5 192.4 365.1 190.3 365.3 187.6 365.0 184.9 364.3 183.4 363.8 182.9 363.1 182.6 362.5 182.6 361.9 182.8 361.3 183.1 360.8 183.7 359.9 185.2 359.4 187.0 359.2 189.4 359.5 191.8 360.1 193.6 361.0 194.6M375.1 192.2 376.9 192.4 378.8 192.4 380.2 192.3 381.4 192.1 382.6 191.5 383.3 190.9 384.1 190.0 384.6 188.8 384.9 187.3 385.1 184.0 386.2 179.8 386.3 178.0 386.1 175.9 385.7 173.8 384.9 172.1 383.8 170.9 382.3 170.1 380.8 169.9 377.8 170.1 374.8 169.8 373.0 170.0 371.6 170.6 370.3 171.4 369.1 172.7 368.6 173.8 368.4 175.1 368.5 176.6 370.1 186.8 370.6 188.5 371.2 189.9 372.2 190.9 373.3 191.6 375.1 192.2"/>
<path stroke="#3786cb" d="M361.6 193.4 362.2 193.4 362.5 193.3 363.2 192.8 363.8 191.5 364.2 189.8 364.2 187.9 363.9 186.1 363.3 184.9 362.5 184.4 361.6 184.6 361.0 185.2 360.4 186.4 360.0 188.2 360.0 190.0 360.3 191.8 360.8 192.8 361.0 193.1 361.6 193.4M377.5 191.0 379.6 191.1 381.1 190.7 382.3 190.0 383.3 188.8 383.6 187.9 383.8 187.0 383.8 184.6 383.9 183.8 385.0 181.3 385.5 179.5 385.6 177.4 385.4 175.3 385.0 173.8 384.4 172.7 383.5 171.6 382.6 171.1 381.8 170.8 380.8 170.8 377.8 171.1 375.4 170.6 373.9 170.7 372.8 171.0 371.6 171.8 370.8 172.7 370.3 173.8 370.0 175.1 370.0 176.6 370.5 180.8 371.5 185.8 372.0 187.3 372.5 188.2 373.3 189.2 374.5 190.0 375.8 190.6 377.5 191.0"/>
<path stroke="#2d7ec5" d="M361.6 190.4 361.9 190.6 362.2 190.4 362.6 189.4 362.5 188.2 362.2 187.8 361.9 187.7 361.6 187.9 361.4 188.8 361.4 189.8 361.6 190.4M377.2 189.8 378.8 190.0 380.2 189.8 381.4 189.2 382.1 188.5 382.6 187.6 382.7 186.8 382.7 185.8 382.4 184.0 382.5 183.1 383.9 181.3 384.7 179.8 384.9 178.7 384.9 177.4 384.8 175.9 384.4 174.4 384.1 173.6 383.5 172.8 382.9 172.2 382.0 171.8 381.4 171.7 380.5 171.7 378.8 172.3 378.1 172.4 375.4 171.5 373.9 171.5 373.0 171.9 372.1 172.6 371.5 173.6 371.2 174.4 371.0 176.6 371.1 179.2 372.0 183.8 372.6 185.8 373.3 187.3 374.2 188.3 375.8 189.2 377.2 189.8"/>
<path stroke="#2273ba" d="M377.2 188.6 378.4 188.8 379.6 188.7 380.5 188.2 381.1 187.6 381.4 186.8 381.4 185.8 381.1 184.9 380.0 182.5 379.9 181.3 380.2 180.9 381.8 180.9 382.6 180.6 383.4 179.8 383.8 178.9 384.0 177.2 383.6 175.1 382.9 173.8 382.3 173.2 381.8 173.0 381.1 173.0 380.3 173.2 378.8 174.5 378.4 174.7 377.8 174.5 376.4 173.2 375.8 172.8 374.8 172.6 374.2 172.6 373.6 172.9 373.0 173.3 372.7 173.8 372.3 174.8 372.0 176.8 372.0 179.2 372.4 181.1 373.5 185.2 374.1 186.4 374.9 187.3 376.0 188.1 377.2 188.6"/>
<path stroke="#1d6ab0" d="M377.8 188.0 379.0 187.9 379.9 187.5 380.4 186.8 380.5 186.1 380.4 185.5 378.6 181.6 378.0 178.0 377.1 175.7 376.3 174.5 375.8 173.9 374.8 173.6 374.2 173.6 373.6 174.0 373.3 174.4 372.7 175.9 372.6 178.7 373.0 181.0 373.9 184.6 374.7 186.1 375.2 186.8 376.0 187.4 376.9 187.8 377.8 188.0M381.4 179.4 382.0 179.4 382.6 179.1 383.0 178.3 383.2 177.2 383.0 175.9 382.6 175.0 382.0 174.3 381.4 174.2 380.8 174.4 380.5 174.8 380.1 175.7 380.0 176.6 380.1 177.4 380.4 178.3 380.8 179.0 381.4 179.4"/>
<path stroke="#175da1" d="M376.9 186.8 377.8 186.9 378.8 186.7 379.2 186.1 379.1 185.2 377.5 181.6 376.8 178.3 376.3 176.8 375.9 175.9 375.4 175.5 374.8 175.2 374.5 175.2 373.9 175.7 373.5 176.8 373.4 178.3 373.5 179.8 375.0 184.9 375.8 186.1 376.9 186.8"/>
</g>
<g fill="none" stroke-width="0.8" stroke-linejoin="round" clip-path="url(#c13)">
<path stroke="#5a9ede" d="M454.1 93.8 453.9 92.6 454.1 91.4 454.6 90.2 455.8 88.1 456.2 86.9 456.1 85.7 455.4 82.4 455.1 80.0 455.1 75.2 455.3 71.9 455.7 70.1 456.3 68.6 457.3 67.1 458.4 66.0 459.6 65.2 460.8 64.7 462.2 64.2 463.8 64.0 467.9 63.8 477.6 63.8 480.6 64.1 482.9 64.7 484.1 65.2 485.1 65.8 486.4 67.1 487.1 68.0 487.7 69.2 488.1 70.4 488.4 71.9 488.6 75.5 488.6 80.9 488.2 84.2 487.5 86.6 486.4 88.7 485.0 90.2 483.9 90.9 482.6 91.6 478.1 93.2 476.7 93.8 473.1 96.1 471.6 96.9 469.4 97.6 467.1 98.0 464.7 98.2 462.2 98.1 460.2 97.9 458.4 97.4 456.9 96.8 455.5 95.9 454.7 95.0 454.1 93.8"/>
<path stroke="#4e95d7" d="M456.5 93.2 456.5 92.0 457.0 90.8 457.8 89.9 460.0 87.8 460.4 86.9 460.2 86.0 459.1 83.9 458.5 82.1 458.2 80.0 458.1 77.0 458.2 74.0 458.6 71.9 459.3 70.1 460.4 68.7 461.4 68.0 462.2 67.6 464.7 67.0 466.8 66.8 475.4 66.5 478.4 66.7 480.9 67.2 482.6 68.0 484.0 69.2 485.0 70.7 485.5 72.8 485.7 74.9 485.7 80.3 485.4 83.0 484.7 85.4 484.0 86.9 482.9 88.2 482.1 88.8 480.9 89.4 476.6 90.6 475.6 91.1 474.6 91.8 472.7 93.8 471.2 94.9 469.8 95.7 467.7 96.3 465.9 96.5 463.8 96.6 461.9 96.5 460.2 96.1 458.7 95.6 457.7 95.0 456.9 94.1 456.5 93.2"/>
<path stroke="#4690d3" d="M457.7 92.9 457.8 92.2 458.1 91.4 458.7 90.6 459.6 89.9 461.7 88.8 464.7 87.9 467.9 87.6 469.4 87.6 470.7 87.9 471.2 88.1 471.9 88.6 472.3 89.3 472.5 89.9 472.5 90.8 472.3 91.7 471.9 92.6 471.3 93.5 470.6 94.1 469.7 94.7 468.6 95.2 467.4 95.5 465.9 95.7 464.1 95.8 462.2 95.7 460.8 95.4 459.6 95.0 458.6 94.4 458.1 93.8 457.7 92.9M459.8 78.5 459.9 74.6 460.1 73.1 460.5 71.9 461.1 70.9 461.9 69.9 463.2 69.2 464.4 68.8 466.2 68.5 469.4 68.3 473.9 67.6 476.4 67.6 478.8 67.9 480.9 68.5 482.4 69.4 483.5 70.7 484.1 72.2 484.3 73.7 484.3 76.7 484.5 79.7 484.3 81.2 484.0 82.7 483.0 85.1 482.1 86.4 480.9 87.4 479.4 87.9 477.9 88.1 476.4 88.2 471.6 87.6 466.2 86.3 463.8 85.4 462.2 84.5 461.6 83.9 460.9 83.0 460.2 81.2 459.8 78.5"/>
<path stroke="#3f8bcf" d="M458.9 93.5 458.7 92.9 458.7 92.3 458.9 91.7 459.4 91.1 460.1 90.5 461.1 90.0 463.2 89.4 465.9 89.2 468.6 89.5 470.1 90.2 470.6 90.8 470.9 91.4 470.9 92.0 470.7 92.6 470.4 93.2 469.8 93.8 468.2 94.6 466.4 95.1 464.1 95.3 461.7 95.0 459.9 94.4 458.9 93.5M461.3 79.4 461.1 77.6 461.1 75.8 461.2 74.3 461.4 73.1 461.9 71.9 462.6 71.2 463.4 70.4 464.7 69.9 466.2 69.6 469.4 69.4 473.6 68.3 475.4 68.2 477.6 68.4 479.6 68.8 481.4 69.6 482.6 70.7 483.4 72.2 483.6 73.7 483.4 76.7 483.7 79.7 483.5 81.5 482.9 82.9 482.1 84.2 480.9 85.4 479.6 85.9 478.4 86.1 476.9 86.0 466.8 84.4 464.9 83.9 463.6 83.3 462.6 82.3 461.9 81.2 461.3 79.4"/>
<path stroke="#3786cb" d="M460.1 92.9 460.1 92.3 460.2 92.0 460.8 91.3 461.9 90.7 463.8 90.3 465.6 90.3 467.4 90.6 468.6 91.2 469.1 92.0 468.9 92.9 468.2 93.5 467.1 94.1 465.2 94.5 463.4 94.5 461.7 94.2 460.8 93.7 460.4 93.5 460.1 92.9M462.5 77.0 462.4 74.9 462.8 73.4 463.5 72.2 464.7 71.2 465.6 70.9 466.4 70.7 468.9 70.7 469.8 70.6 472.2 69.5 473.9 69.0 476.1 68.9 478.1 69.1 479.6 69.5 480.9 70.1 481.9 71.0 482.4 71.9 482.7 72.8 482.7 73.7 482.4 76.7 482.9 79.1 482.8 80.6 482.5 81.8 481.8 82.9 480.9 83.7 479.6 84.2 478.4 84.5 476.9 84.5 472.8 84.0 467.7 83.0 466.2 82.5 465.2 82.0 464.3 81.2 463.4 80.0 462.9 78.8 462.5 77.0"/>
<path stroke="#2d7ec5" d="M463.1 92.9 462.9 92.6 463.1 92.3 464.1 91.9 465.2 92.0 465.7 92.3 465.8 92.6 465.6 92.9 464.7 93.1 463.8 93.1 463.1 92.9M463.7 77.3 463.5 75.8 463.7 74.3 464.3 73.1 464.9 72.4 465.9 71.9 466.8 71.8 467.7 71.8 469.4 72.1 470.4 72.0 472.1 70.6 473.6 69.8 474.9 69.6 476.1 69.6 477.6 69.7 479.1 70.1 479.9 70.4 480.7 71.0 481.3 71.6 481.7 72.5 481.8 73.1 481.8 74.0 481.2 75.8 481.1 76.4 482.0 79.1 482.0 80.6 481.6 81.5 480.9 82.4 479.9 83.0 479.1 83.3 476.9 83.5 474.2 83.4 469.8 82.5 467.7 81.9 466.2 81.2 465.2 80.3 464.3 78.8 463.7 77.3"/>
<path stroke="#2273ba" d="M464.9 77.3 464.7 76.1 464.8 74.9 465.2 74.0 465.9 73.4 466.8 73.1 467.7 73.1 468.6 73.4 470.9 74.5 472.1 74.6 472.6 74.3 472.6 72.8 472.9 71.9 473.6 71.1 474.6 70.7 476.4 70.5 478.4 70.9 479.7 71.6 480.3 72.2 480.5 72.8 480.5 73.4 480.2 74.2 479.0 75.8 478.8 76.1 479.0 76.7 480.2 78.1 480.7 78.8 480.9 79.7 480.9 80.3 480.6 80.9 480.2 81.5 479.6 81.8 478.8 82.2 476.6 82.5 474.2 82.5 472.4 82.1 468.2 81.0 467.1 80.4 466.2 79.6 465.4 78.5 464.9 77.3"/>
<path stroke="#1d6ab0" d="M465.5 76.7 465.6 75.5 466.0 74.6 466.8 74.1 467.4 74.0 467.9 74.1 471.9 75.9 475.4 76.5 477.9 77.4 479.0 78.2 479.6 78.8 479.9 79.7 479.9 80.3 479.5 80.9 479.1 81.2 477.6 81.8 474.9 81.9 472.4 81.5 468.9 80.6 467.4 79.8 466.8 79.3 466.1 78.5 465.7 77.6 465.5 76.7M474.1 73.1 474.1 72.5 474.4 71.9 475.1 71.5 476.4 71.3 477.6 71.5 478.5 71.9 479.2 72.5 479.3 73.1 479.1 73.7 478.8 74.0 477.9 74.4 476.9 74.5 476.1 74.4 475.1 74.1 474.5 73.7 474.1 73.1"/>
<path stroke="#175da1" d="M466.7 77.6 466.6 76.7 466.8 75.8 467.4 75.3 468.2 75.4 471.9 77.0 475.1 77.7 476.6 78.2 477.6 78.6 478.0 79.1 478.3 79.7 478.3 80.0 477.8 80.6 476.6 81.0 475.1 81.1 473.6 81.0 468.6 79.5 467.4 78.8 466.7 77.6"/>
</g>
<g fill="none" stroke-width="0.8" stroke-linejoin="round" clip-path="url(#c41)">
<path stroke="#5a9ede" d="M375.4 250.5 378.8 250.5 381.4 250.3 383.5 249.9 385.3 249.1 386.8 248.1 388.1 246.6 389.1 244.8 389.7 242.7 390.0 240.9 390.1 238.5 390.1 229.5 390.0 225.6 389.4 222.6 389.0 221.4 388.4 220.2 387.8 219.3 387.0 218.4 385.9 217.6 385.0 217.0 382.6 216.2 380.5 215.9 378.1 215.8 375.4 215.9 373.0 216.1 371.5 216.5 370.0 217.0 368.8 217.6 367.6 218.5 366.1 220.2 364.7 222.3 363.5 225.0 362.2 229.8 361.8 231.0 361.0 232.2 358.8 234.6 357.9 235.8 356.9 237.6 356.4 239.4 356.2 241.2 356.2 242.7 356.3 244.2 356.6 245.7 357.1 246.9 357.8 248.1 358.6 249.1 359.5 249.8 361.0 250.4 362.5 250.5 364.0 250.0 366.4 248.9 367.6 248.7 368.5 248.9 372.1 250.1 375.4 250.5"/>
<path stroke="#5198d9" d="M360.8 248.1 361.3 248.3 362.2 248.3 362.8 248.2 363.8 247.8 364.9 246.9 366.8 244.9 367.6 244.3 368.5 244.6 370.9 246.3 372.4 247.0 374.5 247.6 376.6 247.8 379.3 247.7 381.7 247.2 383.8 246.3 385.2 245.1 385.9 244.2 386.5 243.0 386.8 241.8 387.1 240.3 387.3 237.0 387.3 229.5 387.1 225.6 386.7 223.2 386.0 221.4 385.3 220.5 384.7 220.0 383.2 219.1 381.1 218.6 378.4 218.6 374.8 219.0 372.8 219.4 370.9 220.1 369.5 221.1 368.2 222.4 367.0 224.1 366.1 226.2 365.6 228.0 365.1 231.6 364.6 232.8 363.9 233.7 361.0 235.3 359.8 236.2 358.8 237.6 358.0 239.4 357.8 240.6 357.7 242.1 357.8 243.6 358.1 244.8 358.6 246.0 359.1 246.9 359.8 247.6 360.8 248.1"/>
<path stroke="#4b93d6" d="M361.3 247.2 361.9 247.3 362.8 247.1 363.7 246.6 364.3 246.0 365.4 244.5 366.3 242.1 366.6 239.7 366.6 238.8 366.3 237.9 365.5 236.7 364.9 236.3 364.0 236.0 363.1 235.9 362.2 236.0 360.8 236.7 360.1 237.3 359.4 238.2 358.7 240.0 358.5 241.2 358.4 242.4 358.6 243.6 358.9 244.8 359.3 245.7 359.8 246.4 360.4 246.9 361.3 247.2M375.8 246.6 377.5 246.7 379.3 246.5 380.8 246.1 382.3 245.4 383.5 244.5 384.3 243.6 385.0 242.4 385.5 240.9 385.7 239.1 385.8 236.7 385.7 225.3 385.6 223.8 385.2 222.3 384.4 221.2 383.2 220.2 382.0 219.8 379.9 219.6 377.5 219.9 374.2 220.6 372.1 221.5 370.6 222.4 369.3 223.8 368.4 225.3 367.7 227.1 367.5 228.6 367.4 230.1 368.0 237.3 368.4 239.4 369.0 241.2 370.2 243.3 371.5 244.8 373.3 245.9 374.5 246.4 375.8 246.6"/>
<path stroke="#458fd2" d="M361.3 246.3 361.9 246.4 362.5 246.3 363.1 246.0 363.8 245.5 364.6 244.2 365.2 242.4 365.3 240.6 364.9 238.8 364.6 238.2 364.0 237.6 363.4 237.2 362.8 237.1 361.6 237.2 360.4 238.0 359.6 239.4 359.1 240.9 359.0 242.7 359.5 244.5 360.3 245.7 360.8 246.1 361.3 246.3M375.4 245.7 376.9 246.0 378.4 245.9 379.9 245.5 381.1 244.9 382.2 244.2 383.1 243.3 383.8 242.1 384.3 240.6 384.5 239.1 384.6 237.6 384.3 229.2 384.7 225.0 384.7 223.8 384.4 222.6 383.8 221.7 382.9 221.0 381.8 220.5 380.2 220.3 378.1 220.6 376.0 221.2 373.9 222.1 372.3 223.2 371.1 224.4 370.3 225.6 369.7 227.1 369.5 228.3 369.5 229.8 369.9 234.0 370.0 238.5 370.4 240.9 371.0 242.4 372.1 243.9 373.6 245.0 375.4 245.7"/>
<path stroke="#3e8bcf" d="M361.0 245.1 361.9 245.4 362.8 245.1 363.8 244.0 364.2 242.7 364.4 241.2 364.1 239.7 363.4 238.7 362.5 238.3 361.6 238.4 360.8 239.0 360.1 239.9 359.8 240.9 359.7 242.1 359.8 243.3 360.4 244.5 361.0 245.1M376.0 245.2 377.2 245.3 378.4 245.2 379.6 244.8 380.8 244.2 381.8 243.4 382.5 242.4 383.1 241.2 383.3 240.3 383.5 238.8 383.4 237.3 382.6 232.5 382.5 230.7 382.7 228.6 383.7 225.3 383.8 223.8 383.6 222.9 383.0 222.0 382.3 221.5 381.4 221.2 379.9 221.0 378.4 221.2 376.6 221.8 375.3 222.6 373.8 223.8 372.8 225.0 372.0 226.5 371.6 227.7 371.4 229.8 371.6 233.7 371.1 238.2 371.4 240.6 372.0 242.1 373.1 243.6 374.5 244.7 376.0 245.2"/>
<path stroke="#3886cb" d="M376.0 244.5 376.9 244.7 378.1 244.6 379.3 244.2 380.2 243.7 381.1 243.0 381.6 242.4 382.1 241.5 382.5 240.3 382.6 238.5 382.4 236.7 381.8 234.9 380.5 232.5 380.3 231.6 380.4 230.7 380.7 229.8 382.6 225.5 382.9 224.7 382.9 223.8 382.7 223.2 382.3 222.6 381.8 222.1 380.8 221.8 379.6 221.7 378.2 222.0 376.9 222.5 375.9 223.2 375.0 224.1 374.1 225.3 373.4 226.8 372.9 228.3 372.8 230.1 373.2 233.1 373.0 234.0 372.1 237.3 371.9 238.8 372.0 240.0 372.6 241.8 373.5 243.0 374.6 243.9 376.0 244.5M361.6 244.0 362.2 244.0 362.7 243.6 363.1 242.9 363.3 242.1 363.3 241.2 363.1 240.6 362.8 240.0 362.2 239.7 361.6 239.8 361.3 240.0 360.9 240.6 360.6 241.5 360.6 242.4 360.8 243.0 361.1 243.6 361.6 244.0"/>
<path stroke="#2f80c6" d="M376.3 243.9 377.2 244.0 378.1 243.9 379.0 243.7 379.9 243.1 380.5 242.6 381.1 241.8 381.5 240.9 381.8 240.0 381.9 239.1 381.8 237.9 381.3 236.1 380.3 234.6 378.3 232.8 378.0 232.2 378.1 231.6 378.4 231.0 381.0 226.5 381.7 225.0 381.8 224.1 381.6 223.5 381.0 222.9 380.2 222.6 379.3 222.6 378.4 222.8 377.4 223.2 376.6 223.8 375.7 224.7 375.2 225.6 374.5 227.1 374.1 228.3 374.0 229.2 374.1 230.1 374.9 232.2 375.0 232.8 374.8 233.4 373.6 235.5 373.0 236.7 372.7 238.2 372.7 239.7 373.1 241.2 373.9 242.4 374.8 243.3 376.3 243.9"/>
<path stroke="#2679c1" d="M376.3 243.3 377.2 243.4 378.1 243.3 379.0 243.0 379.6 242.6 380.2 241.9 380.7 241.2 381.1 240.3 381.2 239.4 381.1 237.6 380.7 236.7 380.2 235.9 379.0 234.7 378.1 234.3 377.2 234.1 376.6 234.1 376.0 234.3 374.8 235.2 373.8 236.7 373.3 238.5 373.4 240.0 374.0 241.5 375.1 242.7 376.3 243.3M376.0 229.9 376.6 230.0 377.5 229.4 379.6 226.7 380.2 225.6 380.4 225.0 380.4 224.4 379.9 223.8 379.0 223.6 378.1 223.9 377.2 224.5 376.5 225.3 375.8 226.8 375.5 228.3 375.5 229.2 375.8 229.7 376.0 229.9"/>
<path stroke="#1e6cb2" d="M376.9 242.4 378.1 242.3 378.8 242.0 379.3 241.5 380.0 240.3 380.2 239.1 380.0 237.6 379.3 236.6 378.4 235.8 377.2 235.5 376.0 235.8 375.1 236.6 374.6 237.6 374.3 238.8 374.4 240.0 374.9 241.2 375.8 242.0 376.9 242.4"/>
</g>
<g fill="none" stroke-width="0.8" stroke-linejoin="round" clip-path="url(#c14)">
<path stroke="#5a9ede" d="M502.5 79.1 502.5 75.8 502.7 73.1 503.1 71.0 503.9 69.2 504.9 67.7 506.4 66.4 508.2 65.4 510.3 64.8 512.1 64.5 514.5 64.4 523.5 64.4 527.4 64.5 530.4 65.1 531.6 65.5 532.8 66.1 533.7 66.7 534.6 67.5 535.4 68.6 536.0 69.5 536.8 71.9 537.1 74.0 537.2 76.4 537.1 79.1 536.9 81.5 536.5 83.0 536.0 84.5 535.4 85.7 534.5 86.9 532.8 88.4 530.7 89.8 528.0 91.0 523.2 92.3 522.0 92.7 520.8 93.5 518.4 95.7 517.2 96.6 515.4 97.6 513.6 98.1 511.8 98.3 510.3 98.3 508.8 98.2 507.3 97.9 506.1 97.4 504.9 96.7 503.9 95.9 503.2 95.0 502.6 93.5 502.5 92.0 503.0 90.5 504.1 88.1 504.3 86.9 504.1 86.0 502.9 82.4 502.5 79.1"/>
<path stroke="#5198d9" d="M504.9 93.8 504.7 93.2 504.7 92.3 504.8 91.7 505.2 90.8 506.1 89.6 508.1 87.8 508.7 86.9 508.4 86.0 506.7 83.6 506.0 82.1 505.4 80.0 505.2 77.9 505.3 75.2 505.8 72.8 506.7 70.7 507.9 69.3 508.8 68.6 510.0 68.0 511.2 67.7 512.7 67.4 516.0 67.2 523.5 67.2 527.4 67.4 529.8 67.8 531.6 68.5 532.5 69.2 533.0 69.8 533.9 71.3 534.4 73.4 534.4 76.1 534.0 79.7 533.6 81.8 532.9 83.6 531.9 85.0 530.6 86.3 528.9 87.5 526.8 88.4 525.0 88.9 521.4 89.4 520.2 89.9 519.3 90.6 517.7 93.5 516.8 94.7 515.4 95.7 513.6 96.5 512.4 96.7 510.9 96.8 509.4 96.7 508.2 96.4 507.0 95.9 506.1 95.4 505.4 94.7 504.9 93.8"/>
<path stroke="#4b93d6" d="M505.8 93.2 505.7 92.6 505.9 91.7 506.4 90.8 507.0 90.2 508.5 89.1 510.9 88.2 513.3 87.9 514.2 87.9 515.1 88.2 516.3 89.0 516.7 89.6 517.0 90.5 517.1 91.4 517.0 92.3 516.3 93.8 515.7 94.4 514.8 95.1 513.0 95.8 511.8 96.0 510.6 96.1 509.4 95.9 508.2 95.6 507.3 95.2 506.6 94.7 506.1 94.1 505.8 93.2M506.4 78.8 506.3 77.0 506.5 75.2 506.9 73.7 507.6 72.2 508.5 71.0 509.4 70.2 510.6 69.5 512.1 69.0 513.9 68.8 516.3 68.7 527.7 68.8 529.2 68.9 530.7 69.3 531.8 70.1 532.8 71.3 533.2 72.5 533.4 74.6 533.1 77.0 532.4 80.3 531.5 82.4 530.6 83.9 529.2 85.2 527.7 86.1 525.9 86.8 524.4 87.0 522.9 87.1 515.7 86.5 513.6 86.1 511.8 85.5 509.7 84.3 508.2 83.0 507.1 81.2 506.6 80.0 506.4 78.8"/>
<path stroke="#458fd2" d="M506.7 93.2 506.6 92.6 506.7 92.0 507.0 91.4 507.5 90.8 508.8 89.9 510.6 89.3 512.4 89.2 514.2 89.6 514.8 89.9 515.4 90.5 515.8 91.1 515.9 91.7 515.8 92.9 515.0 94.1 513.6 94.9 512.1 95.4 510.3 95.5 508.5 95.0 507.3 94.2 506.9 93.8 506.7 93.2M507.3 79.1 507.0 77.6 507.1 76.1 507.5 74.6 508.1 73.4 508.8 72.3 509.7 71.4 510.9 70.7 512.4 70.2 513.9 70.0 515.4 69.9 523.8 70.2 528.0 69.8 529.2 69.8 530.4 70.1 531.3 70.7 532.0 71.6 532.5 72.8 532.7 74.3 532.4 76.4 531.8 78.5 530.9 80.6 529.8 82.2 528.6 83.4 527.4 84.2 525.9 84.8 524.7 85.0 523.2 85.0 519.0 84.6 514.5 84.5 512.1 84.1 510.6 83.5 509.1 82.4 508.0 80.9 507.3 79.1"/>
<path stroke="#3e8bcf" d="M507.9 93.5 507.6 92.6 507.9 91.7 509.0 90.8 510.3 90.3 511.8 90.1 513.3 90.4 514.3 91.1 514.7 92.0 514.6 92.9 514.0 93.8 513.1 94.4 512.1 94.7 510.9 94.8 509.7 94.7 508.5 94.1 507.9 93.5M507.8 78.5 507.7 77.3 507.8 76.1 508.2 74.9 508.8 73.7 509.6 72.8 510.6 72.0 511.8 71.4 512.7 71.2 514.2 71.0 515.7 71.1 520.5 71.9 522.3 72.0 524.4 71.8 527.7 70.8 529.2 70.7 530.1 70.9 531.0 71.5 531.5 72.2 531.8 73.1 532.0 74.6 531.8 76.1 531.2 77.9 530.4 79.2 529.2 80.7 528.0 81.7 526.5 82.5 525.3 82.9 523.2 83.1 519.3 82.9 514.8 83.4 512.4 83.1 510.9 82.5 509.4 81.4 508.3 80.0 507.8 78.5"/>
<path stroke="#3886cb" d="M508.5 78.5 508.3 77.6 508.4 76.4 508.8 75.2 509.3 74.3 510.0 73.4 510.6 72.9 511.5 72.4 512.7 72.0 514.5 71.9 516.3 72.1 518.1 72.7 520.5 74.0 521.4 74.2 522.3 74.1 523.2 73.8 527.5 71.9 528.3 71.6 529.2 71.6 529.8 71.8 530.4 72.2 530.9 72.8 531.2 73.7 531.3 74.9 531.0 76.3 530.5 77.6 529.8 78.6 528.9 79.5 527.7 80.4 526.2 81.1 524.7 81.6 522.9 81.7 519.9 81.3 519.0 81.5 515.7 82.4 514.2 82.6 513.0 82.5 511.2 81.9 510.0 81.0 509.1 79.9 508.5 78.5M509.0 92.9 509.0 92.3 509.4 91.8 510.1 91.4 510.9 91.2 511.8 91.2 512.4 91.4 513.0 91.7 513.3 92.3 513.2 92.9 513.0 93.2 512.4 93.6 511.5 93.9 510.6 93.9 510.0 93.8 509.4 93.4 509.0 92.9"/>
<path stroke="#2f80c6" d="M509.1 78.2 509.0 77.3 509.1 76.4 509.3 75.5 509.9 74.6 510.4 74.0 511.2 73.4 512.1 73.0 513.0 72.7 513.9 72.6 515.1 72.7 516.9 73.2 518.4 74.2 520.2 76.2 520.8 76.5 521.4 76.4 522.0 76.1 526.5 73.5 528.0 72.8 528.9 72.7 529.5 72.9 530.1 73.5 530.4 74.3 530.4 75.2 530.2 76.1 529.8 77.1 529.2 77.9 528.3 78.8 527.4 79.3 525.9 80.0 524.7 80.4 523.8 80.5 522.9 80.4 520.8 79.6 520.2 79.5 519.6 79.7 517.5 80.9 516.3 81.5 514.8 81.8 513.3 81.8 511.8 81.4 510.6 80.6 509.7 79.7 509.1 78.2"/>
<path stroke="#2679c1" d="M509.7 78.2 509.6 77.3 509.7 76.4 510.0 75.5 510.4 74.9 511.1 74.3 511.8 73.8 512.7 73.4 513.6 73.3 515.4 73.4 516.3 73.8 517.1 74.3 518.3 75.5 518.7 76.4 518.9 77.3 518.9 77.9 518.7 78.5 517.8 79.7 516.3 80.7 514.5 81.2 513.0 81.1 511.5 80.5 510.3 79.4 509.7 78.2M523.1 78.5 523.0 77.9 523.6 77.0 526.3 74.9 527.4 74.3 528.0 74.1 528.6 74.1 529.2 74.6 529.4 75.5 529.1 76.4 528.5 77.3 527.7 78.0 526.2 78.7 524.7 79.0 523.8 79.0 523.3 78.8 523.1 78.5"/>
<path stroke="#1e6cb2" d="M510.6 77.6 510.7 76.4 511.0 75.8 511.5 75.2 512.7 74.5 513.9 74.3 515.4 74.5 516.4 75.2 517.2 76.1 517.5 77.3 517.2 78.5 516.4 79.4 515.4 79.9 514.2 80.2 513.0 80.1 511.8 79.6 511.0 78.8 510.6 77.6"/>
</g>
<g fill="none" stroke-width="0.8" stroke-linejoin="round" clip-path="url(#c32)">
<path stroke="#5a9ede" d="M433.7 201.8 435.2 201.9 436.7 201.6 438.2 200.9 439.4 200.0 440.5 198.7 441.4 197.2 442.2 195.1 442.6 193.3 443.0 190.9 443.1 187.0 443.1 177.4 442.9 173.2 442.6 170.8 442.2 169.1 441.3 166.9 440.4 165.4 439.4 164.3 438.2 163.4 437.0 162.8 435.5 162.4 434.0 162.5 432.8 162.8 431.6 163.4 430.4 164.3 429.0 166.1 427.8 168.4 427.3 170.2 427.0 172.1 426.5 178.3 426.1 179.2 425.7 179.5 425.3 179.7 420.2 179.2 418.7 178.7 417.2 177.8 416.5 177.1 416.0 176.2 415.6 175.1 414.6 170.6 414.1 169.3 413.3 168.2 412.4 167.3 411.2 166.8 410.0 166.8 408.8 167.3 407.7 168.4 406.8 169.9 406.3 171.8 406.0 173.8 406.0 176.2 406.2 178.3 406.9 180.4 407.7 181.9 408.5 182.8 409.1 183.2 409.7 183.5 410.6 183.7 411.8 183.6 414.8 182.5 415.7 182.5 416.6 182.7 417.5 183.2 418.1 183.7 420.1 186.1 421.4 187.3 422.6 187.8 425.0 188.1 425.6 188.3 426.1 188.8 426.5 189.8 427.5 194.8 428.1 196.6 428.7 197.8 429.8 199.3 431.0 200.5 432.2 201.3 433.7 201.8M409.7 196.7 410.9 196.9 412.1 196.6 413.0 196.0 413.8 194.8 414.0 193.6 413.7 192.4 413.0 191.4 411.8 190.6 410.6 190.5 409.4 190.8 408.4 191.5 407.8 192.8 407.6 193.9 408.0 195.1 408.7 196.0 409.7 196.7"/>
<path stroke="#5197d9" d="M434.3 199.7 435.8 199.6 437.3 199.1 438.8 197.8 439.9 196.3 440.6 194.5 441.2 192.4 441.5 190.0 441.6 186.8 441.5 175.3 441.3 172.7 440.8 170.2 439.8 167.8 438.5 166.1 437.6 165.4 436.7 164.9 435.8 164.7 434.9 164.6 433.4 164.8 431.9 165.6 430.6 166.9 429.5 168.8 428.9 170.6 428.5 172.7 428.0 180.1 427.7 181.4 427.1 182.6 426.8 182.8 426.5 182.8 424.4 181.5 423.5 181.2 422.9 181.2 422.0 181.4 421.3 181.9 420.9 182.5 420.7 183.4 420.9 184.3 421.2 184.9 421.7 185.6 422.6 186.2 423.2 186.3 424.1 186.3 425.0 186.0 426.2 185.4 426.5 185.3 426.9 185.5 427.4 186.4 427.7 187.3 428.8 193.3 429.3 194.8 429.9 196.3 430.8 197.5 431.9 198.7 433.1 199.4 434.3 199.7M410.0 179.0 410.9 179.2 411.8 178.9 412.4 178.0 412.7 176.5 412.7 174.7 412.3 172.9 412.0 172.3 411.5 171.7 411.2 171.4 410.6 171.3 410.0 171.4 409.4 172.1 408.8 173.2 408.6 174.4 408.6 175.9 408.8 177.2 409.4 178.3 410.0 179.0"/>
<path stroke="#448fd2" d="M433.7 197.9 435.2 198.0 436.4 197.7 437.6 197.0 438.5 196.0 439.3 194.5 439.8 193.0 440.2 190.9 440.4 188.5 440.5 176.8 440.3 173.8 439.9 171.8 439.2 169.7 438.1 167.8 437.5 167.2 436.7 166.7 435.2 166.3 433.7 166.4 432.3 167.2 431.2 168.4 430.3 170.2 429.9 171.8 429.5 173.8 429.2 180.4 428.8 184.0 428.9 186.1 429.6 190.9 430.3 193.9 430.8 195.1 431.6 196.4 432.5 197.2 433.7 197.9M423.2 184.4 423.7 184.3 424.0 184.0 423.9 183.4 423.5 183.1 423.2 183.1 422.9 183.3 422.7 183.8 422.9 184.2 423.2 184.4"/>
<path stroke="#3383c9" d="M434.6 196.4 435.8 196.3 436.7 195.8 437.6 194.9 438.3 193.6 438.8 192.1 439.2 190.3 439.4 185.5 439.4 176.6 439.2 174.2 438.9 172.3 438.3 170.6 437.3 169.1 436.1 168.2 434.9 167.9 433.7 168.2 432.5 169.1 431.7 170.2 431.1 171.8 430.7 173.2 430.5 175.1 430.1 184.3 430.2 186.4 430.5 189.8 430.8 191.5 431.2 193.0 431.9 194.5 432.7 195.4 433.7 196.1 434.6 196.4"/>
<path stroke="#2478c0" d="M434.3 195.0 435.2 195.0 436.1 194.7 436.9 193.9 437.5 193.0 438.0 191.8 438.3 190.3 438.6 186.4 438.6 177.1 438.5 175.1 438.2 173.2 437.7 171.8 437.0 170.4 436.1 169.6 435.5 169.3 434.9 169.3 434.0 169.5 433.1 170.1 432.3 171.2 431.8 172.7 431.4 174.2 431.3 175.9 431.0 183.8 431.2 188.2 431.5 190.3 431.8 191.8 432.2 192.9 432.8 193.9 433.4 194.5 434.3 195.0"/>
<path stroke="#1f6db3" d="M434.6 193.7 435.5 193.6 436.1 193.3 436.7 192.6 437.2 191.5 437.7 189.1 437.9 185.2 437.9 177.8 437.6 174.2 437.2 172.7 436.5 171.4 435.8 170.8 434.9 170.5 434.0 170.8 433.3 171.4 432.8 172.3 432.3 173.8 431.9 176.8 431.7 184.0 431.9 187.9 432.4 190.9 432.8 192.0 433.4 193.0 434.0 193.5 434.6 193.7"/>
<path stroke="#1a63a8" d="M434.9 192.5 435.5 192.3 436.1 191.8 436.6 190.9 436.9 189.8 437.2 187.0 437.3 182.2 437.2 177.2 436.9 174.4 436.5 173.2 436.1 172.5 435.5 172.0 434.9 171.8 434.3 172.0 433.7 172.5 433.2 173.6 432.8 174.8 432.6 177.4 432.4 184.3 432.5 187.6 433.0 190.3 433.4 191.2 433.8 191.8 434.3 192.3 434.9 192.5"/>
<path stroke="#165a9e" d="M434.6 191.0 435.2 191.0 435.5 190.8 436.1 189.8 436.5 187.6 436.7 184.6 436.7 178.9 436.5 175.9 436.2 174.8 435.8 173.9 435.5 173.5 434.9 173.2 434.3 173.5 434.0 173.9 433.7 174.5 433.4 175.6 433.2 178.0 433.0 183.1 433.1 186.4 433.4 188.8 433.9 190.3 434.6 191.0"/>
<path stroke="#125396" d="M434.9 189.2 435.2 189.0 435.5 188.6 435.8 187.5 436.0 185.5 436.0 182.8 436.0 178.9 435.8 176.9 435.5 175.8 435.2 175.3 434.9 175.2 434.6 175.3 434.3 175.8 434.0 176.9 433.8 179.2 433.7 184.0 433.8 186.1 434.0 187.7 434.3 188.6 434.6 189.1 434.9 189.2"/>
</g>
<g fill="none" stroke-width="0.8" stroke-linejoin="round" clip-path="url(#c23)">
<path stroke="#5a9ede" d="M451.7 120.3 451.6 118.8 451.9 117.3 452.6 115.8 453.5 114.6 454.8 113.5 456.2 112.6 458.4 111.8 460.2 111.4 462.6 111.0 466.4 110.9 476.1 110.9 480.2 111.1 482.6 111.4 484.4 111.8 486.6 112.7 488.1 113.6 489.2 114.6 490.1 115.8 490.7 117.0 491.1 118.5 491.0 120.0 490.7 121.2 490.1 122.4 489.2 123.6 487.4 125.0 485.1 126.2 483.2 126.7 481.4 127.0 475.1 127.5 474.2 127.9 473.9 128.3 473.8 128.7 474.3 133.8 474.9 135.3 475.7 136.8 476.4 137.5 477.2 138.0 478.4 138.4 482.9 139.4 484.1 139.9 485.4 140.7 486.2 141.6 486.7 142.8 486.7 144.0 486.2 145.2 485.1 146.3 483.6 147.2 481.8 147.7 479.6 148.0 477.2 148.0 475.1 147.8 473.1 147.1 471.6 146.3 470.7 145.5 470.3 144.9 470.0 144.3 469.8 143.4 469.9 142.2 471.0 139.2 471.0 138.3 470.8 137.4 470.3 136.5 469.8 135.9 467.4 133.9 466.2 132.6 465.7 131.4 465.4 129.0 465.2 128.4 464.7 127.9 463.8 127.5 458.7 126.5 456.9 125.9 455.7 125.3 454.2 124.2 453.0 123.0 452.2 121.8 451.7 120.3M456.8 144.3 456.6 143.1 456.9 141.9 457.5 141.0 458.7 140.2 459.9 140.0 461.1 140.3 462.1 141.0 462.9 142.2 463.0 143.4 462.7 144.6 461.9 145.6 460.8 146.2 459.6 146.4 458.4 146.0 457.5 145.3 456.8 144.3"/>
<path stroke="#5197d9" d="M453.8 119.7 453.9 118.2 454.4 116.7 455.7 115.2 457.2 114.1 458.9 113.4 461.1 112.8 463.4 112.5 466.8 112.4 478.1 112.5 480.9 112.7 483.2 113.2 485.6 114.2 487.4 115.5 488.1 116.4 488.6 117.3 488.8 118.2 488.9 119.1 488.7 120.6 487.9 122.1 486.6 123.4 484.8 124.5 482.9 125.1 480.9 125.5 473.4 126.0 472.1 126.3 470.9 126.9 470.7 127.2 470.7 127.5 472.0 129.6 472.3 130.5 472.3 131.1 472.1 132.0 471.6 132.7 470.9 133.1 470.1 133.3 469.2 133.1 468.6 132.8 467.9 132.3 467.3 131.4 467.2 130.8 467.2 129.9 467.5 129.0 468.1 127.8 468.2 127.5 467.9 127.1 467.1 126.6 466.2 126.3 460.2 125.2 458.7 124.7 457.2 124.1 456.0 123.2 454.8 122.1 454.1 120.9 453.8 119.7M474.5 144.0 474.3 143.1 474.6 142.2 475.4 141.6 476.9 141.3 478.8 141.3 480.6 141.7 481.1 142.0 481.8 142.5 482.1 142.8 482.2 143.4 482.1 144.0 481.4 144.6 480.2 145.2 479.1 145.4 477.6 145.4 476.4 145.2 475.1 144.6 474.5 144.0"/>
<path stroke="#448fd2" d="M455.6 120.3 455.5 118.8 455.8 117.6 456.5 116.4 457.5 115.5 458.9 114.7 460.4 114.2 462.6 113.8 464.9 113.6 476.6 113.5 479.6 113.7 481.8 114.1 483.9 114.8 485.6 115.9 486.2 116.5 486.8 117.3 487.2 118.8 487.1 120.3 486.2 121.7 485.1 122.8 483.2 123.7 481.8 124.1 479.6 124.5 473.1 124.8 469.4 125.2 467.4 125.1 462.6 124.4 459.6 123.7 458.4 123.2 457.1 122.4 456.3 121.5 455.6 120.3M469.1 130.8 469.2 130.3 469.4 130.0 470.1 130.1 470.4 130.5 470.4 130.8 470.2 131.1 469.8 131.3 469.3 131.1 469.1 130.8"/>
<path stroke="#3383c9" d="M457.1 119.4 457.2 118.2 457.7 117.3 458.6 116.4 459.9 115.7 461.4 115.2 463.2 114.8 467.9 114.6 476.9 114.6 479.4 114.8 481.1 115.1 482.9 115.7 484.4 116.7 485.3 117.9 485.6 119.1 485.3 120.3 484.4 121.5 483.2 122.3 481.8 122.9 480.2 123.3 478.4 123.5 469.2 123.9 467.1 123.8 463.8 123.5 461.9 123.2 460.4 122.8 459.0 122.1 458.1 121.3 457.4 120.3 457.1 119.4"/>
<path stroke="#2478c0" d="M458.5 119.7 458.5 118.8 458.8 117.9 459.6 117.1 460.4 116.5 461.7 116.0 463.2 115.7 467.1 115.4 476.4 115.4 478.4 115.5 480.2 115.8 481.8 116.3 483.1 117.0 483.9 117.9 484.2 118.5 484.2 119.1 484.0 120.0 483.4 120.9 482.4 121.7 480.9 122.2 479.4 122.6 477.6 122.7 469.8 123.0 465.2 122.8 463.2 122.5 461.7 122.2 460.6 121.8 459.6 121.2 459.0 120.6 458.5 119.7"/>
<path stroke="#1f6db3" d="M459.8 119.4 459.9 118.5 460.2 117.9 460.9 117.3 461.9 116.8 464.4 116.3 468.2 116.1 475.8 116.1 479.4 116.4 480.9 116.8 482.1 117.5 482.7 118.2 483.0 119.1 482.7 120.0 482.1 120.7 481.1 121.2 479.6 121.7 476.6 122.1 469.4 122.3 465.6 122.1 462.6 121.6 461.5 121.2 460.5 120.6 460.0 120.0 459.8 119.4"/>
<path stroke="#1a63a8" d="M461.0 119.1 461.2 118.5 461.7 117.9 462.6 117.4 463.8 117.1 466.4 116.8 471.2 116.7 476.4 116.8 479.1 117.1 480.2 117.5 481.0 117.9 481.5 118.5 481.7 119.1 481.5 119.7 481.0 120.3 479.9 120.8 478.8 121.2 476.1 121.4 469.2 121.6 465.9 121.5 463.2 121.0 462.2 120.6 461.7 120.2 461.2 119.7 461.0 119.1"/>
<path stroke="#165a9e" d="M462.5 119.4 462.5 118.8 462.7 118.5 463.8 117.9 465.9 117.5 468.9 117.3 474.6 117.3 477.6 117.5 478.8 117.8 479.6 118.2 480.0 118.5 480.3 119.1 480.0 119.7 479.6 120.0 479.0 120.3 477.9 120.6 475.4 120.8 470.4 121.0 467.1 120.9 464.7 120.6 463.2 120.1 462.5 119.4"/>
<path stroke="#125396" d="M464.3 119.1 464.5 118.8 464.9 118.5 466.0 118.2 467.9 118.0 470.7 118.0 474.6 118.0 476.6 118.2 477.7 118.5 478.2 118.8 478.3 119.1 478.2 119.4 477.7 119.7 476.6 120.0 474.2 120.2 469.4 120.3 467.4 120.2 465.8 120.0 464.9 119.7 464.4 119.4 464.3 119.1"/>
</g>
<g fill="none" stroke-width="0.8" stroke-linejoin="round" clip-path="url(#c42)">
<path stroke="#5a9ede" d="M433.7 253.2 435.2 253.4 436.7 253.1 438.2 252.4 439.7 251.2 440.9 249.9 442.0 248.1 442.8 246.0 443.3 244.2 443.5 242.4 443.5 240.6 443.0 234.6 442.9 227.7 442.6 224.4 442.3 222.3 441.7 220.2 441.0 218.7 440.1 217.2 439.1 216.1 438.2 215.3 437.0 214.7 435.8 214.3 434.6 214.3 433.4 214.5 432.2 215.0 431.3 215.5 430.2 216.6 429.3 217.8 428.5 219.3 427.8 221.1 427.1 224.7 426.8 231.0 426.6 231.9 426.3 232.5 426.0 232.8 425.6 233.0 422.9 233.0 420.2 233.3 418.7 233.3 417.2 233.0 416.3 232.5 415.7 231.8 415.4 231.0 415.2 230.1 415.0 225.9 414.7 223.5 414.0 221.4 413.1 219.9 412.1 219.0 411.2 218.6 410.0 218.6 409.0 219.0 407.9 220.2 407.3 221.1 406.9 222.3 406.3 224.7 406.1 227.7 406.3 230.4 406.8 232.8 407.4 234.6 409.0 237.6 409.2 238.5 409.1 239.4 408.3 242.4 408.1 244.2 408.3 246.3 408.6 247.2 409.1 248.0 410.0 248.8 410.9 249.0 411.5 248.9 412.0 248.7 412.9 247.8 413.5 246.3 413.7 244.5 413.5 242.7 412.8 239.7 412.9 238.8 413.2 238.2 413.9 237.6 414.8 237.3 416.0 237.4 417.2 237.7 418.4 238.3 421.0 240.3 422.0 240.9 424.7 241.8 425.3 242.2 426.0 243.3 427.5 247.5 428.9 249.9 430.1 251.2 431.3 252.2 432.5 252.9 433.7 253.2"/>
<path stroke="#549ada" d="M433.4 251.1 434.9 251.3 436.4 251.1 437.9 250.4 439.2 249.3 440.4 247.8 441.3 246.0 441.9 243.9 442.1 242.1 442.0 239.7 441.5 234.0 441.3 226.8 441.0 224.4 440.6 222.6 439.8 220.2 438.5 218.3 437.0 217.1 436.1 216.8 435.2 216.6 434.3 216.6 433.4 216.9 431.9 217.8 430.6 219.3 429.6 221.1 429.1 222.9 428.7 225.3 428.2 233.1 427.9 234.3 427.4 235.2 427.1 235.5 426.8 235.5 424.4 234.6 423.5 234.5 422.9 234.6 422.0 235.0 421.4 235.5 421.1 236.1 420.9 236.7 421.0 237.3 421.3 238.2 422.0 239.1 422.6 239.5 423.8 239.9 425.9 239.9 426.2 240.0 426.6 240.3 427.1 241.2 428.4 245.7 429.4 247.8 430.3 249.0 431.3 250.0 432.2 250.6 433.4 251.1M410.3 231.7 410.9 231.8 411.2 231.6 411.8 231.0 412.2 229.8 412.4 228.3 412.3 226.5 411.9 225.0 411.3 224.1 410.6 223.8 410.0 224.0 409.4 224.8 409.0 225.9 408.8 227.4 408.9 228.9 409.2 230.1 409.7 231.2 410.3 231.7"/>
<path stroke="#4992d5" d="M434.0 249.6 435.2 249.7 436.4 249.5 437.6 248.8 438.8 247.8 439.8 246.3 440.4 244.8 440.8 243.3 441.0 241.5 440.9 239.4 440.3 234.3 440.0 226.8 439.4 223.5 438.6 221.4 437.6 219.9 436.4 219.0 435.8 218.8 434.9 218.7 434.0 218.8 433.4 219.0 432.2 219.9 431.3 221.2 430.6 222.9 430.2 224.4 429.9 226.5 429.5 234.0 428.6 238.2 428.4 239.4 428.5 240.9 428.8 243.0 429.3 244.8 430.0 246.3 430.8 247.5 431.9 248.6 432.8 249.2 434.0 249.6M423.5 237.9 424.1 238.0 424.6 237.6 424.6 237.0 424.4 236.7 424.1 236.5 423.5 236.5 423.2 236.7 423.1 237.0 423.2 237.6 423.5 237.9"/>
<path stroke="#3c89ce" d="M433.7 248.2 434.6 248.4 435.8 248.3 437.0 247.8 437.9 247.1 438.8 246.0 439.4 244.8 439.8 243.3 440.0 241.8 439.9 239.7 439.1 234.0 438.8 227.4 438.4 224.7 437.8 222.9 437.0 221.7 436.1 221.0 435.5 220.7 434.9 220.7 434.3 220.7 433.7 221.0 432.8 221.7 432.0 222.9 431.5 224.4 431.0 227.4 430.6 234.3 429.8 238.5 429.6 240.0 429.8 242.7 430.5 245.1 431.2 246.3 431.9 247.1 432.8 247.8 433.7 248.2"/>
<path stroke="#3080c7" d="M434.0 247.3 434.9 247.4 435.8 247.3 436.7 246.9 437.6 246.1 438.2 245.4 438.8 244.2 439.1 243.0 439.3 241.5 439.2 239.4 438.3 234.3 437.9 228.3 437.6 225.9 437.1 224.4 436.4 223.2 435.8 222.7 434.9 222.5 434.0 222.7 433.4 223.2 432.8 224.2 432.3 225.6 431.9 228.0 431.5 234.3 430.6 238.8 430.4 240.6 430.6 243.0 431.3 244.9 431.8 245.7 432.5 246.4 433.1 246.9 434.0 247.3"/>
<path stroke="#2578c0" d="M434.6 246.6 435.5 246.6 436.1 246.4 436.7 246.0 437.4 245.4 438.0 244.5 438.4 243.6 438.7 241.5 438.6 239.4 437.4 234.0 437.1 228.9 436.8 226.8 436.4 225.7 436.0 225.0 435.5 224.5 434.9 224.3 434.3 224.5 433.8 225.0 433.4 225.7 433.0 226.8 432.7 228.6 432.3 234.0 431.2 239.1 431.0 240.9 431.2 243.0 432.0 244.8 433.1 246.0 433.7 246.4 434.6 246.6"/>
<path stroke="#2171b8" d="M434.0 245.8 434.6 246.0 435.5 245.9 436.1 245.7 436.9 245.1 437.4 244.5 437.8 243.6 438.1 242.7 438.2 241.5 438.0 239.1 436.6 233.7 435.9 228.3 435.5 227.1 435.2 226.8 434.9 226.7 434.6 226.8 434.3 227.1 433.9 228.3 433.1 234.0 431.8 238.8 431.5 240.6 431.6 242.4 432.1 243.9 432.9 245.1 434.0 245.8"/>
<path stroke="#1d6ab0" d="M434.9 245.4 435.5 245.3 436.1 245.1 437.0 244.2 437.6 242.9 437.8 241.2 437.6 239.4 437.0 237.4 435.5 233.8 435.2 233.3 434.9 233.1 434.6 233.3 434.3 233.8 432.5 238.0 432.0 239.7 431.9 241.2 432.2 243.0 432.8 244.2 433.7 245.1 434.3 245.3 434.9 245.4"/>
<path stroke="#185ea2" d="M434.6 244.2 435.5 244.1 436.2 243.6 436.7 242.7 437.0 241.5 436.8 240.0 436.4 238.8 435.8 237.8 435.2 237.4 434.9 237.3 434.3 237.5 433.5 238.5 433.0 239.7 432.8 240.9 432.9 242.1 433.2 243.0 433.7 243.7 434.6 244.2"/>
</g>
<g fill="none" stroke-width="0.8" stroke-linejoin="round" clip-path="url(#c24)">
<path stroke="#5a9ede" d="M499.8 120.3 499.6 118.8 499.9 117.3 500.6 115.8 501.8 114.3 503.1 113.1 504.9 112.0 507.0 111.2 508.8 110.7 510.6 110.5 512.4 110.5 518.4 111.0 525.3 111.1 528.6 111.4 530.7 111.7 532.8 112.3 534.3 113.0 535.8 113.9 536.9 114.9 537.7 115.8 538.3 117.0 538.7 118.2 538.7 119.4 538.5 120.6 538.0 121.8 537.5 122.7 536.4 123.8 535.2 124.7 533.7 125.5 531.9 126.2 528.3 126.9 522.0 127.2 521.1 127.4 520.5 127.7 520.2 128.0 520.0 128.4 520.0 131.1 519.7 133.8 519.7 135.3 520.0 136.8 520.5 137.7 521.2 138.3 522.0 138.6 522.9 138.8 527.1 139.0 529.5 139.3 531.6 140.0 533.1 140.9 534.0 141.9 534.4 142.8 534.4 144.0 534.0 145.0 532.8 146.1 531.9 146.7 530.7 147.1 528.3 147.7 525.3 147.9 522.6 147.7 520.2 147.2 518.4 146.6 515.4 145.0 514.5 144.8 513.6 144.9 510.6 145.7 508.8 145.9 506.7 145.7 505.8 145.4 505.0 144.9 504.2 144.0 504.0 143.1 504.1 142.5 504.3 142.0 505.2 141.1 506.7 140.5 508.5 140.3 510.3 140.5 513.3 141.2 514.2 141.1 514.8 140.8 515.4 140.1 515.7 139.2 515.6 138.0 515.3 136.8 514.7 135.6 512.7 133.0 512.1 132.0 511.2 129.3 510.8 128.7 509.7 128.0 505.5 126.5 503.1 125.1 501.8 123.9 500.8 122.7 500.1 121.5 499.8 120.3"/>
<path stroke="#549ada" d="M501.9 120.6 501.7 119.1 501.9 117.6 502.6 116.1 503.7 114.8 505.2 113.6 507.0 112.7 509.1 112.1 510.9 111.9 513.3 112.0 519.0 112.5 526.2 112.7 528.6 113.0 530.4 113.4 532.8 114.2 534.7 115.5 535.9 117.0 536.2 117.9 536.4 118.8 536.4 119.7 536.1 120.6 535.2 122.1 533.7 123.4 531.9 124.4 530.1 124.9 527.7 125.3 519.9 125.8 518.7 126.1 517.8 126.6 517.5 126.9 517.5 127.2 518.4 129.6 518.5 130.5 518.4 131.1 518.0 132.0 517.5 132.6 516.9 132.9 516.3 133.1 515.7 133.0 514.8 132.7 513.9 132.0 513.5 131.4 513.1 130.2 513.1 128.1 513.0 127.8 512.7 127.4 511.8 126.9 507.3 125.6 505.2 124.6 504.0 123.7 503.0 122.7 502.4 121.8 501.9 120.6M521.3 143.7 521.2 143.1 521.4 142.8 522.0 142.2 523.2 141.8 524.7 141.6 526.5 141.7 528.0 142.1 528.9 142.7 529.2 143.4 529.0 144.0 528.2 144.6 527.1 145.0 525.6 145.2 524.1 145.1 522.9 144.8 521.8 144.3 521.3 143.7"/>
<path stroke="#4992d5" d="M503.4 120.0 503.3 118.8 503.5 117.6 504.2 116.4 505.2 115.2 506.7 114.2 508.2 113.6 509.7 113.2 511.5 113.0 513.6 113.1 518.7 113.7 526.2 114.0 529.5 114.6 531.6 115.4 533.1 116.4 534.0 117.6 534.2 118.2 534.3 119.1 534.2 120.0 534.0 120.6 533.1 121.8 531.8 122.7 530.1 123.4 528.6 123.8 526.5 124.1 519.0 124.5 514.8 125.4 513.6 125.6 512.1 125.5 510.0 125.2 508.2 124.7 506.7 124.0 505.5 123.2 504.4 122.1 503.8 121.2 503.4 120.0M515.1 130.5 515.0 129.9 515.4 129.4 516.0 129.4 516.3 129.6 516.5 129.9 516.5 130.5 516.3 130.8 516.0 130.9 515.4 130.8 515.1 130.5"/>
<path stroke="#3c89ce" d="M504.8 120.3 504.6 119.4 504.7 118.2 505.2 117.0 505.9 116.1 507.0 115.2 508.2 114.6 509.7 114.2 511.2 114.0 513.3 114.1 519.0 114.9 525.6 115.2 528.3 115.6 530.1 116.2 531.3 117.0 532.0 117.9 532.3 118.5 532.3 119.1 532.3 119.7 532.0 120.3 531.3 121.2 530.1 122.0 528.6 122.5 525.6 123.0 518.7 123.4 514.5 124.2 513.0 124.4 510.3 124.2 507.9 123.5 506.7 122.8 505.9 122.1 505.2 121.2 504.8 120.3"/>
<path stroke="#3080c7" d="M505.7 120.0 505.6 119.1 505.7 118.2 506.1 117.3 506.9 116.4 507.6 115.8 508.8 115.2 510.0 114.9 511.5 114.7 513.6 114.8 518.7 115.7 524.7 116.1 527.1 116.4 528.6 116.9 529.8 117.6 530.3 118.2 530.5 119.1 530.3 120.0 529.8 120.6 528.8 121.2 527.4 121.7 525.0 122.1 518.7 122.5 514.2 123.4 512.4 123.6 510.0 123.4 508.1 122.7 507.3 122.2 506.6 121.5 506.1 120.9 505.7 120.0"/>
<path stroke="#2578c0" d="M506.4 119.4 506.4 118.5 506.6 117.9 507.0 117.3 507.6 116.6 508.5 116.0 509.4 115.6 511.5 115.3 513.6 115.4 519.0 116.6 524.1 116.9 526.2 117.2 527.3 117.6 528.0 118.0 528.5 118.5 528.7 119.1 528.5 119.7 528.0 120.2 527.3 120.6 526.2 121.0 524.4 121.3 519.0 121.7 513.9 122.8 512.1 123.0 510.0 122.8 508.2 122.0 507.0 120.9 506.6 120.3 506.4 119.4"/>
<path stroke="#2171b8" d="M507.2 120.0 507.0 119.4 507.1 118.5 507.3 117.9 507.9 117.1 508.5 116.6 509.4 116.2 510.3 115.9 511.5 115.8 513.9 116.0 519.3 117.4 524.7 118.1 525.9 118.5 526.2 118.8 526.3 119.1 526.2 119.4 525.9 119.7 524.7 120.1 519.0 120.9 514.2 122.2 512.4 122.5 510.6 122.4 509.1 121.9 507.9 121.1 507.2 120.0"/>
<path stroke="#1d6ab0" d="M507.6 119.1 507.7 118.5 507.9 117.9 508.8 117.0 510.1 116.4 511.8 116.2 513.6 116.4 515.6 117.0 519.2 118.5 519.7 118.8 519.9 119.1 519.7 119.4 519.2 119.7 515.0 121.5 513.3 122.0 511.8 122.1 510.0 121.8 508.8 121.2 507.9 120.3 507.7 119.7 507.6 119.1"/>
<path stroke="#185ea2" d="M508.8 119.4 508.9 118.5 509.4 117.8 510.3 117.3 511.5 117.0 513.0 117.2 514.2 117.6 515.2 118.2 515.6 118.8 515.7 119.1 515.5 119.7 514.5 120.5 513.3 121.0 512.1 121.2 510.9 121.1 510.0 120.8 509.3 120.3 508.8 119.4"/>
</g>
<g fill="none" stroke-width="0.8" stroke-linejoin="round" clip-path="url(#c43)">
<path stroke="#5a9ede" d="M453.2 249.7 453.9 249.8 455.1 249.5 457.8 248.0 466.7 241.2 470.9 238.3 472.8 236.7 474.7 234.6 484.0 224.1 487.0 220.5 488.2 218.7 488.9 217.2 489.0 216.0 488.6 215.4 487.8 215.3 486.6 215.8 485.4 216.6 483.9 217.9 481.7 220.2 472.9 230.1 468.3 235.5 465.6 237.9 457.8 244.1 455.5 246.0 454.3 247.2 453.4 248.4 453.1 249.3 453.2 249.7"/>
<path stroke="#4891d4" d="M454.8 248.7 455.4 248.6 456.2 248.3 458.4 247.1 466.8 240.6 470.4 238.1 472.3 236.4 485.8 221.1 486.8 219.6 487.5 218.4 487.7 217.5 487.5 216.9 486.9 216.8 485.9 217.2 483.9 218.8 480.1 222.9 469.2 235.2 466.9 237.3 459.6 243.1 456.5 245.7 455.3 246.9 454.7 247.8 454.5 248.4 454.8 248.7"/>
<path stroke="#3986cb" d="M455.4 247.9 455.7 248.1 456.6 247.8 458.9 246.4 466.4 240.6 470.4 237.8 471.9 236.4 485.1 221.4 486.0 220.2 486.7 219.0 486.9 218.4 486.8 217.8 486.2 217.7 485.6 217.9 483.9 219.3 481.3 222.0 469.6 235.2 467.3 237.3 457.5 245.1 455.7 246.9 455.4 247.5 455.4 247.9"/>
<path stroke="#2b7dc4" d="M456.2 247.5 457.5 247.1 459.6 245.7 466.2 240.6 470.1 237.8 472.0 236.1 475.8 231.6 484.7 221.4 485.6 220.2 486.1 219.3 486.2 218.7 485.9 218.4 485.4 218.6 484.8 219.0 482.9 220.6 469.9 235.2 467.2 237.6 457.4 245.4 456.1 246.9 456.0 247.2 456.0 247.5 456.2 247.5"/>
<path stroke="#2375bd" d="M456.6 247.0 456.9 247.1 457.5 246.9 459.2 245.8 466.4 240.2 470.0 237.6 471.5 236.4 472.6 235.2 475.7 231.3 484.1 221.7 485.2 220.2 485.5 219.6 485.5 219.3 485.4 219.2 484.8 219.4 482.9 221.0 470.4 234.9 467.4 237.6 458.3 244.8 456.8 246.3 456.5 246.9 456.6 247.0"/>
<path stroke="#1f6eb4" d="M457.2 246.7 458.1 246.4 459.6 245.4 466.8 239.8 469.9 237.6 471.3 236.4 472.4 235.2 474.9 231.9 483.6 222.1 484.5 220.8 484.7 220.2 484.4 220.1 484.1 220.2 482.6 221.6 473.0 232.5 470.9 234.6 467.4 237.7 458.5 244.8 457.1 246.3 457.0 246.6 457.2 246.7"/>
<path stroke="#1d69ae" d="M457.5 246.4 458.4 246.1 459.8 245.1 466.2 240.2 469.7 237.6 471.1 236.4 472.5 234.9 474.6 231.9 483.2 222.0 483.6 221.4 483.6 221.2 482.1 222.6 473.8 231.9 472.0 233.7 467.9 237.3 458.7 244.8 457.7 245.7 457.5 246.0 457.5 246.4"/>
<path stroke="#1b65aa" d="M457.8 246.1 458.4 246.0 460.1 244.8 466.2 240.1 470.4 237.0 472.2 235.2 472.8 234.3 473.7 232.5 473.6 232.4 466.8 238.4 459.5 244.2 458.1 245.4 457.7 246.0 457.8 246.1"/>
<path stroke="#165a9e" d="M459.2 244.8 459.6 244.8 460.5 244.2 466.2 239.8 470.1 237.0 471.6 235.5 471.9 234.9 471.9 234.7 471.6 234.8 470.7 235.4 466.4 239.0 459.9 244.2 459.2 244.8"/>
</g>
<g fill="none" stroke-width="0.8" stroke-linejoin="round" clip-path="url(#c34)">
<path stroke="#5a9ede" d="M503.3 200.2 503.2 199.6 503.5 198.4 505.0 195.7 511.8 186.8 514.7 182.5 516.3 180.8 518.4 178.8 528.9 169.5 532.5 166.5 534.3 165.3 535.8 164.6 537.0 164.5 537.6 164.8 537.7 165.8 537.2 166.9 536.4 168.2 535.1 169.7 532.8 171.8 522.9 180.6 517.5 185.2 515.1 187.9 508.9 195.8 507.0 198.0 505.8 199.2 504.6 200.1 503.7 200.4 503.3 200.2"/>
<path stroke="#4891d4" d="M504.3 198.7 504.4 198.1 504.7 197.2 505.9 195.1 512.4 186.7 514.9 183.1 516.6 181.2 531.9 167.7 533.4 166.7 534.6 166.0 535.5 165.8 536.1 166.0 536.2 166.7 535.8 167.6 534.2 169.7 530.1 173.4 517.8 184.3 515.7 186.6 509.9 193.9 507.3 197.0 506.1 198.2 505.2 198.8 504.6 199.0 504.3 198.7"/>
<path stroke="#3986cb" d="M505.1 198.1 504.9 197.8 505.2 196.9 506.6 194.5 512.4 187.1 515.2 183.1 516.6 181.6 531.6 168.4 532.8 167.5 534.0 166.8 534.6 166.6 535.2 166.7 535.3 167.2 535.1 167.8 533.7 169.7 531.0 172.2 517.8 183.9 515.7 186.2 507.9 196.0 506.1 197.8 505.5 198.1 505.1 198.1"/>
<path stroke="#2b7dc4" d="M505.5 197.2 505.9 196.0 507.3 193.9 512.4 187.3 515.2 183.4 516.9 181.5 521.4 177.8 531.6 168.8 532.8 167.9 533.7 167.4 534.3 167.3 534.6 167.6 534.4 168.2 534.0 168.8 532.4 170.6 517.8 183.6 515.4 186.3 507.6 196.1 506.1 197.4 505.8 197.5 505.5 197.5 505.5 197.2"/>
<path stroke="#2375bd" d="M506.0 196.9 505.9 196.6 506.1 196.0 507.2 194.2 512.8 187.0 515.4 183.5 516.6 182.0 517.8 180.9 521.7 177.8 531.3 169.3 532.8 168.3 533.4 168.0 533.7 168.0 533.8 168.2 533.6 168.8 532.0 170.6 518.1 183.1 515.4 186.1 508.2 195.2 506.7 196.7 506.1 197.0 506.0 196.9"/>
<path stroke="#1f6eb4" d="M506.3 196.3 506.6 195.4 507.6 193.9 513.2 186.8 515.4 183.6 516.6 182.2 517.8 181.1 521.1 178.6 530.9 169.9 532.2 169.0 532.8 168.8 532.9 169.1 532.8 169.3 531.4 170.8 520.5 180.5 518.4 182.6 515.3 186.1 508.2 195.0 506.7 196.4 506.4 196.5 506.3 196.3"/>
<path stroke="#1d69ae" d="M506.6 196.0 506.9 195.1 507.9 193.7 512.8 187.3 515.4 183.8 516.6 182.4 518.1 181.0 521.1 178.9 531.0 170.2 531.6 169.9 531.8 169.9 530.4 171.4 521.1 179.7 519.3 181.5 515.7 185.5 508.2 194.8 507.3 195.8 507.0 196.0 506.6 196.0"/>
<path stroke="#1b65aa" d="M506.9 195.7 507.0 195.1 508.2 193.4 512.9 187.3 516.0 183.1 517.8 181.3 518.7 180.7 520.5 179.8 520.6 179.8 514.6 186.8 508.8 194.0 507.6 195.4 507.0 195.8 506.9 195.7"/>
<path stroke="#165a9e" d="M508.2 194.2 508.2 193.9 508.8 193.0 513.2 187.3 516.0 183.4 517.5 181.9 518.1 181.6 518.3 181.6 518.2 181.9 517.6 182.8 514.0 187.0 508.8 193.6 508.2 194.2"/>
</g>
<g stroke="#3d3d3d" stroke-width="0.6" fill="none">
<path d="M302.50 7.30V52.50H346.90"/>
<path d="M302.50 41.30h1.8"/>
<path d="M302.50 30.00h1.8"/>
<path d="M302.50 18.70h1.8"/>
<path d="M313.70 52.50v-1.8"/>
<path d="M325.00 52.50v-1.8"/>
<path d="M336.30 52.50v-1.8"/>
<path d="M351.45 7.30V52.50H395.85"/>
<path d="M351.45 41.30h1.8"/>
<path d="M351.45 30.00h1.8"/>
<path d="M351.45 18.70h1.8"/>
<path d="M361.10 52.50v-1.8"/>
<path d="M386.60 52.50v-1.8"/>
<path d="M400.40 7.30V52.50H444.80"/>
<path d="M400.40 41.30h1.8"/>
<path d="M400.40 30.00h1.8"/>
<path d="M400.40 18.70h1.8"/>
<path d="M410.45 52.50v-1.8"/>
<path d="M422.75 52.50v-1.8"/>
<path d="M435.05 52.50v-1.8"/>
<path d="M449.35 7.30V52.50H493.75"/>
<path d="M449.35 41.30h1.8"/>
<path d="M449.35 30.00h1.8"/>
<path d="M449.35 18.70h1.8"/>
<path d="M459.35 52.50v-1.8"/>
<path d="M480.05 52.50v-1.8"/>
<path d="M498.30 7.30V52.50H542.70"/>
<path d="M498.30 41.30h1.8"/>
<path d="M498.30 30.00h1.8"/>
<path d="M498.30 18.70h1.8"/>
<path d="M507.40 52.50v-1.8"/>
<path d="M542.40 52.50v-1.8"/>
<path d="M302.50 57.85V103.05H346.90"/>
<path d="M302.50 93.40h1.8"/>
<path d="M302.50 67.90h1.8"/>
<path d="M313.70 103.05v-1.8"/>
<path d="M325.00 103.05v-1.8"/>
<path d="M336.30 103.05v-1.8"/>
<path d="M351.45 57.85V103.05H395.85"/>
<path d="M351.45 93.40h1.8"/>
<path d="M351.45 67.90h1.8"/>
<path d="M361.10 103.05v-1.8"/>
<path d="M386.60 103.05v-1.8"/>
<path d="M400.40 57.85V103.05H444.80"/>
<path d="M400.40 93.40h1.8"/>
<path d="M400.40 67.90h1.8"/>
<path d="M410.45 103.05v-1.8"/>
<path d="M422.75 103.05v-1.8"/>
<path d="M435.05 103.05v-1.8"/>
<path d="M449.35 57.85V103.05H493.75"/>
<path d="M449.35 93.40h1.8"/>
<path d="M449.35 67.90h1.8"/>
<path d="M459.35 103.05v-1.8"/>
<path d="M480.05 103.05v-1.8"/>
<path d="M498.30 57.85V103.05H542.70"/>
<path d="M498.30 93.40h1.8"/>
<path d="M498.30 67.90h1.8"/>
<path d="M507.40 103.05v-1.8"/>
<path d="M542.40 103.05v-1.8"/>
<path d="M302.50 108.40V153.60H346.90"/>
<path d="M302.50 143.55h1.8"/>
<path d="M302.50 131.25h1.8"/>
<path d="M302.50 118.95h1.8"/>
<path d="M313.70 153.60v-1.8"/>
<path d="M325.00 153.60v-1.8"/>
<path d="M336.30 153.60v-1.8"/>
<path d="M351.45 108.40V153.60H395.85"/>
<path d="M351.45 143.55h1.8"/>
<path d="M351.45 131.25h1.8"/>
<path d="M351.45 118.95h1.8"/>
<path d="M361.10 153.60v-1.8"/>
<path d="M386.60 153.60v-1.8"/>
<path d="M400.40 108.40V153.60H444.80"/>
<path d="M400.40 143.55h1.8"/>
<path d="M400.40 131.25h1.8"/>
<path d="M400.40 118.95h1.8"/>
<path d="M410.45 153.60v-1.8"/>
<path d="M422.75 153.60v-1.8"/>
<path d="M435.05 153.60v-1.8"/>
<path d="M449.35 108.40V153.60H493.75"/>
<path d="M449.35 143.55h1.8"/>
<path d="M449.35 131.25h1.8"/>
<path d="M449.35 118.95h1.8"/>
<path d="M459.35 153.60v-1.8"/>
<path d="M480.05 153.60v-1.8"/>
<path d="M498.30 108.40V153.60H542.70"/>
<path d="M498.30 143.55h1.8"/>
<path d="M498.30 131.25h1.8"/>
<path d="M498.30 118.95h1.8"/>
<path d="M507.40 153.60v-1.8"/>
<path d="M542.40 153.60v-1.8"/>
<path d="M302.50 158.95V204.15H346.90"/>
<path d="M302.50 194.15h1.8"/>
<path d="M302.50 173.45h1.8"/>
<path d="M313.70 204.15v-1.8"/>
<path d="M325.00 204.15v-1.8"/>
<path d="M336.30 204.15v-1.8"/>
<path d="M351.45 158.95V204.15H395.85"/>
<path d="M351.45 194.15h1.8"/>
<path d="M351.45 173.45h1.8"/>
<path d="M361.10 204.15v-1.8"/>
<path d="M386.60 204.15v-1.8"/>
<path d="M400.40 158.95V204.15H444.80"/>
<path d="M400.40 194.15h1.8"/>
<path d="M400.40 173.45h1.8"/>
<path d="M410.45 204.15v-1.8"/>
<path d="M422.75 204.15v-1.8"/>
<path d="M435.05 204.15v-1.8"/>
<path d="M449.35 158.95V204.15H493.75"/>
<path d="M449.35 194.15h1.8"/>
<path d="M449.35 173.45h1.8"/>
<path d="M459.35 204.15v-1.8"/>
<path d="M480.05 204.15v-1.8"/>
<path d="M498.30 158.95V204.15H542.70"/>
<path d="M498.30 194.15h1.8"/>
<path d="M498.30 173.45h1.8"/>
<path d="M507.40 204.15v-1.8"/>
<path d="M542.40 204.15v-1.8"/>
<path d="M302.50 209.50V254.70H346.90"/>
<path d="M302.50 245.60h1.8"/>
<path d="M302.50 228.10h1.8"/>
<path d="M302.50 210.60h1.8"/>
<path d="M313.70 254.70v-1.8"/>
<path d="M325.00 254.70v-1.8"/>
<path d="M336.30 254.70v-1.8"/>
<path d="M351.45 209.50V254.70H395.85"/>
<path d="M351.45 245.60h1.8"/>
<path d="M351.45 228.10h1.8"/>
<path d="M351.45 210.60h1.8"/>
<path d="M361.10 254.70v-1.8"/>
<path d="M386.60 254.70v-1.8"/>
<path d="M400.40 209.50V254.70H444.80"/>
<path d="M400.40 245.60h1.8"/>
<path d="M400.40 228.10h1.8"/>
<path d="M400.40 210.60h1.8"/>
<path d="M410.45 254.70v-1.8"/>
<path d="M422.75 254.70v-1.8"/>
<path d="M435.05 254.70v-1.8"/>
<path d="M449.35 209.50V254.70H493.75"/>
<path d="M449.35 245.60h1.8"/>
<path d="M449.35 228.10h1.8"/>
<path d="M449.35 210.60h1.8"/>
<path d="M459.35 254.70v-1.8"/>
<path d="M480.05 254.70v-1.8"/>
<path d="M498.30 209.50V254.70H542.70"/>
<path d="M498.30 245.60h1.8"/>
<path d="M498.30 228.10h1.8"/>
<path d="M498.30 210.60h1.8"/>
<path d="M507.40 254.70v-1.8"/>
<path d="M542.40 254.70v-1.8"/>
</g>
<g font-family="Liberation Sans, Arial, sans-serif" font-size="6.5" fill="#262626">
<text x="301.2" y="43.60" text-anchor="end">1</text>
<text x="301.2" y="32.30" text-anchor="end">2</text>
<text x="301.2" y="21.00" text-anchor="end">3</text>
<text x="301.2" y="95.70" text-anchor="end">200</text>
<text x="301.2" y="70.20" text-anchor="end">300</text>
<text x="301.2" y="145.85" text-anchor="end">350</text>
<text x="301.2" y="133.55" text-anchor="end">400</text>
<text x="301.2" y="121.25" text-anchor="end">450</text>
<text x="301.2" y="196.45" text-anchor="end">10</text>
<text x="301.2" y="175.75" text-anchor="end">20</text>
<text x="301.2" y="247.90" text-anchor="end">0</text>
<text x="301.2" y="230.40" text-anchor="end">10</text>
<text x="301.2" y="212.90" text-anchor="end">20</text>
<text x="313.70" y="261.2" text-anchor="middle">1</text>
<text x="325.00" y="261.2" text-anchor="middle">2</text>
<text x="336.30" y="261.2" text-anchor="middle">3</text>
<text x="361.10" y="261.2" text-anchor="middle">200</text>
<text x="386.60" y="261.2" text-anchor="middle">300</text>
<text x="410.45" y="261.2" text-anchor="middle">350</text>
<text x="422.75" y="261.2" text-anchor="middle">400</text>
<text x="435.05" y="261.2" text-anchor="middle">450</text>
<text x="459.35" y="261.2" text-anchor="middle">10</text>
<text x="480.05" y="261.2" text-anchor="middle">20</text>
<text x="507.40" y="261.2" text-anchor="middle">0</text>
<text x="542.40" y="261.2" text-anchor="middle">20</text>
</g>
<g font-family="Liberation Sans, Arial, sans-serif" font-size="8" font-weight="bold" fill="#1a1a1a" text-anchor="middle">
<text x="324.70" y="269.5">Gas</text>
<text x="373.65" y="269.5">T_D</text>
<text x="422.60" y="269.5">T_A</text>
<text x="471.55" y="269.5">Volt</text>
<text x="520.50" y="269.5">MW</text>
<text transform="translate(295.00 30.60) rotate(-90)">Gas</text>
<text transform="translate(287.30 81.15) rotate(-90)">T_D</text>
<text transform="translate(287.30 131.70) rotate(-90)">T_A</text>
<text transform="translate(290.90 182.25) rotate(-90)">Volt</text>
<text transform="translate(291.10 232.80) rotate(-90)">MW</text>
</g>
</svg></body></html>
